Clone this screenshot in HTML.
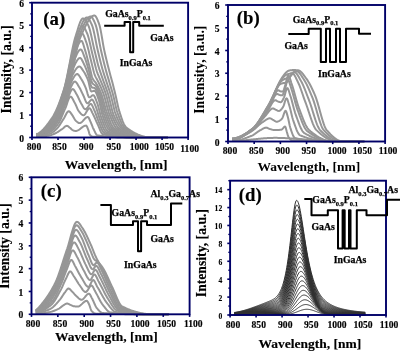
<!DOCTYPE html>
<html><head><meta charset="utf-8"><style>
html,body{margin:0;padding:0;background:#fff;}
svg{display:block;}
</style></head><body>
<svg width="400" height="351" viewBox="0 0 400 351">
<rect width="400" height="351" fill="#fff"/>
<g fill="none" stroke="#969696" stroke-width="2.0" stroke-linejoin="round">
<polyline points="36.16,137.05 36.68,137.05 37.20,137.04 37.72,137.02 38.24,137.00 38.76,136.97 39.28,136.94 39.80,136.90 40.33,136.85 40.85,136.80 41.37,136.75 41.89,136.69 42.41,136.62 42.93,136.55 43.45,136.48 43.97,136.40 44.49,136.32 45.01,136.24 45.53,136.15 46.05,136.06 46.57,135.97 47.09,135.87 47.61,135.77 48.13,135.67 48.65,135.57 49.17,135.47 49.69,135.36 50.21,135.25 50.73,135.13 51.25,134.99 51.77,134.82 52.29,134.64 52.81,134.44 53.33,134.22 53.85,133.99 54.37,133.75 54.89,133.51 55.41,133.26 55.94,133.01 56.46,132.74 56.98,132.45 57.50,132.14 58.02,131.81 58.54,131.47 59.06,131.12 59.58,130.76 60.10,130.40 60.62,130.03 61.14,129.67 61.66,129.31 62.18,128.96 62.70,128.58 63.22,128.15 63.74,127.69 64.26,127.23 64.78,126.79 65.30,126.40 65.82,126.10 66.34,125.89 66.86,125.82 67.38,125.91 67.90,126.17 68.42,126.54 68.94,126.97 69.46,127.42 69.98,127.84 70.50,128.28 71.03,128.80 71.55,129.32 72.07,129.77 72.59,130.09 73.11,130.31 73.63,130.52 74.15,130.71 74.67,130.85 75.19,130.95 75.71,130.98 76.23,130.95 76.75,130.83 77.27,130.66 77.79,130.42 78.31,130.14 78.83,129.82 79.35,129.47 79.87,129.09 80.39,128.69 80.91,128.29 81.43,127.89 81.95,127.49 82.47,127.11 82.99,126.76 83.51,126.44 84.03,126.15 84.55,125.92 85.07,125.74 85.59,125.63 86.11,125.59 86.63,125.99 87.16,126.98 87.68,128.29 88.20,129.64 88.72,131.33 89.24,133.28 89.76,134.58 90.28,135.22 90.80,135.77 91.32,136.20 91.84,136.48 92.36,136.60 92.88,136.63 93.40,136.66 93.92,136.69 94.44,136.71 94.96,136.74 95.48,136.76 96.00,136.79 96.52,136.81 97.04,136.84 97.56,136.86 98.08,136.88 98.60,136.91 99.12,136.93 99.64,136.95 100.16,136.97 100.68,136.99 101.20,137.01 101.72,137.03 102.25,137.05 102.77,137.07 103.29,137.08 103.81,137.10 104.33,137.12 104.85,137.13 105.37,137.15 105.89,137.17 106.41,137.18 106.93,137.19 107.45,137.21 107.97,137.22 108.49,137.24 109.01,137.25 109.53,137.26 110.05,137.27 110.57,137.28 111.09,137.30 111.61,137.31 112.13,137.32 112.65,137.33 113.17,137.34 113.69,137.35 114.21,137.35 114.73,137.36 115.25,137.37 115.77,137.38 116.29,137.39 116.81,137.39 117.33,137.40 117.86,137.41 118.38,137.41 118.90,137.42 119.42,137.43 119.94,137.43 120.46,137.44 120.98,137.44 121.50,137.45 122.02,137.45 122.54,137.46 123.06,137.46 123.58,137.46 124.10,137.47 124.62,137.47 125.14,137.47 125.66,137.48 126.18,137.48 126.70,137.48 127.22,137.48 127.74,137.49 128.26,137.49 128.78,137.49 129.30,137.49 129.82,137.49 130.34,137.49 130.86,137.50 131.38,137.50 131.90,137.50 132.42,137.50 132.94,137.50 133.47,137.50 133.99,137.50 134.51,137.50 135.03,137.50 135.55,137.50 136.07,137.50 136.59,137.50 137.11,137.50 137.63,137.50 138.15,137.50 138.67,137.50 139.19,137.50 139.71,137.50 140.23,137.50 140.75,137.50 141.27,137.50 141.79,137.50 142.31,137.50 142.83,137.50 143.35,137.50 143.87,137.50 144.39,137.50 144.91,137.50 145.43,137.50 145.95,137.50 146.47,137.50 146.99,137.50 147.51,137.50 148.03,137.50 148.55,137.50 149.07,137.50 149.60,137.50 150.12,137.50 150.64,137.50 151.16,137.50 151.68,137.50 152.20,137.50 152.72,137.50 153.24,137.50 153.76,137.50 154.28,137.50 154.80,137.50 155.32,137.50 155.84,137.50 156.36,137.50 156.88,137.50 157.40,137.50 157.92,137.50 158.44,137.50 158.96,137.50 159.48,137.50 160.00,137.50 160.52,137.50 161.04,137.50 161.56,137.50 162.08,137.50 162.60,137.50 163.12,137.50 163.64,137.50 164.16,137.50 164.69,137.50 165.21,137.50 165.73,137.50 166.25,137.50 166.77,137.50 167.29,137.50"/>
<polyline points="36.16,136.71 36.68,136.71 37.20,136.69 37.72,136.66 38.24,136.62 38.76,136.57 39.28,136.52 39.80,136.45 40.33,136.37 40.85,136.28 41.37,136.19 41.89,136.08 42.41,135.97 42.93,135.85 43.45,135.72 43.97,135.59 44.49,135.45 45.01,135.30 45.53,135.15 46.05,134.99 46.57,134.83 47.09,134.66 47.61,134.49 48.13,134.31 48.65,134.13 49.17,133.95 49.69,133.76 50.21,133.57 50.73,133.36 51.25,133.11 51.77,132.82 52.29,132.50 52.81,132.15 53.33,131.77 53.85,131.36 54.37,130.93 54.89,130.48 55.41,130.01 55.94,129.52 56.46,129.02 56.98,128.51 57.50,127.96 58.02,127.35 58.54,126.67 59.06,125.95 59.58,125.19 60.10,124.39 60.62,123.58 61.14,122.74 61.66,121.90 62.18,121.06 62.70,120.23 63.22,119.41 63.74,118.63 64.26,117.78 64.78,116.82 65.30,115.79 65.82,114.76 66.34,113.76 66.86,112.86 67.38,112.11 67.90,111.56 68.42,111.25 68.94,111.25 69.46,111.52 69.98,112.00 70.50,112.64 71.03,113.37 71.55,114.15 72.07,114.90 72.59,115.62 73.11,116.47 73.63,117.40 74.15,118.36 74.67,119.27 75.19,120.05 75.71,120.65 76.23,121.13 76.75,121.60 77.27,122.03 77.79,122.42 78.31,122.75 78.83,122.98 79.35,123.10 79.87,123.10 80.39,122.96 80.91,122.70 81.43,122.34 81.95,121.90 82.47,121.39 82.99,120.83 83.51,120.25 84.03,119.67 84.55,119.09 85.07,118.54 85.59,118.05 86.11,117.62 86.63,117.29 87.16,117.05 87.68,116.95 88.20,117.11 88.72,117.78 89.24,118.80 89.76,120.01 90.28,121.22 90.80,122.33 91.32,123.56 91.84,124.90 92.36,126.27 92.88,127.58 93.40,128.78 93.92,129.81 94.44,130.86 94.96,131.93 95.48,132.95 96.00,133.86 96.52,134.61 97.04,135.13 97.56,135.37 98.08,135.44 98.60,135.51 99.12,135.58 99.64,135.65 100.16,135.72 100.68,135.78 101.20,135.85 101.72,135.91 102.25,135.97 102.77,136.03 103.29,136.09 103.81,136.14 104.33,136.20 104.85,136.25 105.37,136.30 105.89,136.35 106.41,136.40 106.93,136.45 107.45,136.50 107.97,136.54 108.49,136.59 109.01,136.63 109.53,136.67 110.05,136.71 110.57,136.75 111.09,136.79 111.61,136.82 112.13,136.86 112.65,136.89 113.17,136.92 113.69,136.96 114.21,136.99 114.73,137.02 115.25,137.04 115.77,137.07 116.29,137.10 116.81,137.12 117.33,137.15 117.86,137.17 118.38,137.19 118.90,137.21 119.42,137.23 119.94,137.25 120.46,137.27 120.98,137.29 121.50,137.31 122.02,137.32 122.54,137.34 123.06,137.35 123.58,137.36 124.10,137.38 124.62,137.39 125.14,137.40 125.66,137.41 126.18,137.42 126.70,137.43 127.22,137.44 127.74,137.45 128.26,137.45 128.78,137.46 129.30,137.47 129.82,137.47 130.34,137.48 130.86,137.48 131.38,137.48 131.90,137.49 132.42,137.49 132.94,137.49 133.47,137.50 133.99,137.50 134.51,137.50 135.03,137.50 135.55,137.50 136.07,137.50 136.59,137.50 137.11,137.50 137.63,137.50 138.15,137.50 138.67,137.50 139.19,137.50 139.71,137.50 140.23,137.50 140.75,137.50 141.27,137.50 141.79,137.50 142.31,137.50 142.83,137.50 143.35,137.50 143.87,137.50 144.39,137.50 144.91,137.50 145.43,137.50 145.95,137.50 146.47,137.50 146.99,137.50 147.51,137.50 148.03,137.50 148.55,137.50 149.07,137.50 149.60,137.50 150.12,137.50 150.64,137.50 151.16,137.50 151.68,137.50 152.20,137.50 152.72,137.50 153.24,137.50 153.76,137.50 154.28,137.50 154.80,137.50 155.32,137.50 155.84,137.50 156.36,137.50 156.88,137.50 157.40,137.50 157.92,137.50 158.44,137.50 158.96,137.50 159.48,137.50 160.00,137.50 160.52,137.50 161.04,137.50 161.56,137.50 162.08,137.50 162.60,137.50 163.12,137.50 163.64,137.50 164.16,137.50 164.69,137.50 165.21,137.50 165.73,137.50 166.25,137.50 166.77,137.50 167.29,137.50"/>
<polyline points="36.16,136.38 36.68,136.37 37.20,136.34 37.72,136.30 38.24,136.24 38.76,136.17 39.28,136.09 39.80,135.98 40.33,135.87 40.85,135.74 41.37,135.60 41.89,135.45 42.41,135.29 42.93,135.12 43.45,134.93 43.97,134.74 44.49,134.54 45.01,134.33 45.53,134.11 46.05,133.89 46.57,133.65 47.09,133.41 47.61,133.17 48.13,132.92 48.65,132.67 49.17,132.41 49.69,132.15 50.21,131.88 50.73,131.60 51.25,131.27 51.77,130.90 52.29,130.49 52.81,130.05 53.33,129.58 53.85,129.07 54.37,128.53 54.89,127.96 55.41,127.36 55.94,126.74 56.46,126.09 56.98,125.42 57.50,124.73 58.02,124.02 58.54,123.25 59.06,122.37 59.58,121.41 60.10,120.37 60.62,119.27 61.14,118.11 61.66,116.91 62.18,115.67 62.70,114.42 63.22,113.17 63.74,111.91 64.26,110.67 64.78,109.46 65.30,108.29 65.82,107.04 66.34,105.61 66.86,104.08 67.38,102.53 67.90,101.02 68.42,99.62 68.94,98.41 69.46,97.46 69.98,96.83 70.50,96.61 71.03,96.77 71.55,97.23 72.07,97.91 72.59,98.76 73.11,99.72 73.63,100.73 74.15,101.74 74.67,102.68 75.19,103.65 75.71,104.77 76.23,105.97 76.75,107.19 77.27,108.39 77.79,109.50 78.31,110.46 78.83,111.21 79.35,111.86 79.87,112.50 80.39,113.11 80.91,113.69 81.43,114.20 81.95,114.63 82.47,114.97 82.99,115.18 83.51,115.26 84.03,115.11 84.55,114.70 85.07,114.08 85.59,113.32 86.11,112.45 86.63,111.55 87.16,110.66 87.68,109.84 88.20,109.14 88.72,108.62 89.24,108.33 89.76,108.35 90.28,108.79 90.80,109.57 91.32,110.58 91.84,111.71 92.36,112.86 92.88,113.91 93.40,114.92 93.92,115.99 94.44,117.11 94.96,118.27 95.48,119.45 96.00,120.63 96.52,121.79 97.04,122.93 97.56,124.02 98.08,125.15 98.60,126.39 99.12,127.69 99.64,128.99 100.16,130.25 100.68,131.41 101.20,132.43 101.72,133.26 102.25,133.84 102.77,134.13 103.29,134.26 103.81,134.38 104.33,134.50 104.85,134.62 105.37,134.73 105.89,134.85 106.41,134.95 106.93,135.06 107.45,135.16 107.97,135.26 108.49,135.36 109.01,135.46 109.53,135.55 110.05,135.64 110.57,135.73 111.09,135.81 111.61,135.89 112.13,135.97 112.65,136.05 113.17,136.12 113.69,136.20 114.21,136.27 114.73,136.33 115.25,136.40 115.77,136.46 116.29,136.52 116.81,136.58 117.33,136.64 117.86,136.69 118.38,136.74 118.90,136.79 119.42,136.84 119.94,136.89 120.46,136.93 120.98,136.97 121.50,137.01 122.02,137.05 122.54,137.09 123.06,137.12 123.58,137.15 124.10,137.19 124.62,137.22 125.14,137.24 125.66,137.27 126.18,137.29 126.70,137.32 127.22,137.34 127.74,137.36 128.26,137.38 128.78,137.39 129.30,137.41 129.82,137.42 130.34,137.44 130.86,137.45 131.38,137.46 131.90,137.47 132.42,137.48 132.94,137.48 133.47,137.49 133.99,137.49 134.51,137.50 135.03,137.50 135.55,137.50 136.07,137.50 136.59,137.50 137.11,137.50 137.63,137.50 138.15,137.50 138.67,137.50 139.19,137.50 139.71,137.50 140.23,137.50 140.75,137.50 141.27,137.50 141.79,137.50 142.31,137.50 142.83,137.50 143.35,137.50 143.87,137.50 144.39,137.50 144.91,137.50 145.43,137.50 145.95,137.50 146.47,137.50 146.99,137.50 147.51,137.50 148.03,137.50 148.55,137.50 149.07,137.50 149.60,137.50 150.12,137.50 150.64,137.50 151.16,137.50 151.68,137.50 152.20,137.50 152.72,137.50 153.24,137.50 153.76,137.50 154.28,137.50 154.80,137.50 155.32,137.50 155.84,137.50 156.36,137.50 156.88,137.50 157.40,137.50 157.92,137.50 158.44,137.50 158.96,137.50 159.48,137.50 160.00,137.50 160.52,137.50 161.04,137.50 161.56,137.50 162.08,137.50 162.60,137.50 163.12,137.50 163.64,137.50 164.16,137.50 164.69,137.50 165.21,137.50 165.73,137.50 166.25,137.50 166.77,137.50 167.29,137.50"/>
<polyline points="36.16,136.10 36.68,136.09 37.20,136.06 37.72,136.01 38.24,135.94 38.76,135.85 39.28,135.75 39.80,135.63 40.33,135.49 40.85,135.34 41.37,135.17 41.89,134.99 42.41,134.79 42.93,134.58 43.45,134.36 43.97,134.13 44.49,133.89 45.01,133.63 45.53,133.37 46.05,133.09 46.57,132.81 47.09,132.52 47.61,132.22 48.13,131.92 48.65,131.61 49.17,131.29 49.69,130.97 50.21,130.64 50.73,130.31 51.25,129.92 51.77,129.47 52.29,128.98 52.81,128.43 53.33,127.84 53.85,127.20 54.37,126.52 54.89,125.81 55.41,125.07 55.94,124.29 56.46,123.49 56.98,122.66 57.50,121.81 58.02,120.95 58.54,120.08 59.06,119.19 59.58,118.26 60.10,117.24 60.62,116.12 61.14,114.92 61.66,113.66 62.18,112.35 62.70,111.00 63.22,109.62 63.74,108.23 64.26,106.85 64.78,105.48 65.30,104.14 65.82,102.84 66.34,101.60 66.86,100.43 67.38,99.28 67.90,98.02 68.42,96.70 68.94,95.36 69.46,94.04 69.98,92.79 70.50,91.64 71.03,90.66 71.55,89.88 72.07,89.34 72.59,89.10 73.11,89.17 73.63,89.53 74.15,90.12 74.67,90.88 75.19,91.77 75.71,92.72 76.23,93.68 76.75,94.60 77.27,95.49 77.79,96.50 78.31,97.60 78.83,98.74 79.35,99.89 79.87,101.02 80.39,102.09 80.91,103.06 81.43,103.93 81.95,104.86 82.47,105.81 82.99,106.74 83.51,107.59 84.03,108.32 84.55,108.88 85.07,109.22 85.59,109.29 86.11,109.08 86.63,108.62 87.16,107.99 87.68,107.25 88.20,106.46 88.72,105.68 89.24,104.97 89.76,104.40 90.28,104.03 90.80,103.92 91.32,104.20 91.84,104.86 92.36,105.81 92.88,106.95 93.40,108.18 93.92,109.40 94.44,110.54 94.96,111.73 95.48,113.04 96.00,114.43 96.52,115.87 97.04,117.33 97.56,118.76 98.08,120.15 98.60,121.45 99.12,122.66 99.64,123.93 100.16,125.25 100.68,126.59 101.20,127.90 101.72,129.15 102.25,130.29 102.77,131.28 103.29,132.10 103.81,132.68 104.33,133.01 104.85,133.18 105.37,133.36 105.89,133.52 106.41,133.69 106.93,133.85 107.45,134.00 107.97,134.15 108.49,134.30 109.01,134.45 109.53,134.59 110.05,134.72 110.57,134.85 111.09,134.98 111.61,135.10 112.13,135.22 112.65,135.34 113.17,135.45 113.69,135.56 114.21,135.67 114.73,135.77 115.25,135.87 115.77,135.97 116.29,136.06 116.81,136.15 117.33,136.23 117.86,136.32 118.38,136.39 118.90,136.47 119.42,136.54 119.94,136.61 120.46,136.68 120.98,136.74 121.50,136.80 122.02,136.86 122.54,136.92 123.06,136.97 123.58,137.02 124.10,137.07 124.62,137.11 125.14,137.15 125.66,137.19 126.18,137.23 126.70,137.26 127.22,137.29 127.74,137.32 128.26,137.35 128.78,137.37 129.30,137.39 129.82,137.41 130.34,137.43 130.86,137.45 131.38,137.46 131.90,137.47 132.42,137.48 132.94,137.49 133.47,137.49 133.99,137.50 134.51,137.50 135.03,137.50 135.55,137.50 136.07,137.50 136.59,137.50 137.11,137.50 137.63,137.50 138.15,137.50 138.67,137.50 139.19,137.50 139.71,137.50 140.23,137.50 140.75,137.50 141.27,137.50 141.79,137.50 142.31,137.50 142.83,137.50 143.35,137.50 143.87,137.50 144.39,137.50 144.91,137.50 145.43,137.50 145.95,137.50 146.47,137.50 146.99,137.50 147.51,137.50 148.03,137.50 148.55,137.50 149.07,137.50 149.60,137.50 150.12,137.50 150.64,137.50 151.16,137.50 151.68,137.50 152.20,137.50 152.72,137.50 153.24,137.50 153.76,137.50 154.28,137.50 154.80,137.50 155.32,137.50 155.84,137.50 156.36,137.50 156.88,137.50 157.40,137.50 157.92,137.50 158.44,137.50 158.96,137.50 159.48,137.50 160.00,137.50 160.52,137.50 161.04,137.50 161.56,137.50 162.08,137.50 162.60,137.50 163.12,137.50 163.64,137.50 164.16,137.50 164.69,137.50 165.21,137.50 165.73,137.50 166.25,137.50 166.77,137.50 167.29,137.50"/>
<polyline points="36.16,135.81 36.68,135.80 37.20,135.77 37.72,135.71 38.24,135.63 38.76,135.53 39.28,135.41 39.80,135.27 40.33,135.11 40.85,134.93 41.37,134.74 41.89,134.53 42.41,134.30 42.93,134.06 43.45,133.80 43.97,133.53 44.49,133.24 45.01,132.95 45.53,132.64 46.05,132.32 46.57,131.99 47.09,131.65 47.61,131.30 48.13,130.95 48.65,130.58 49.17,130.21 49.69,129.84 50.21,129.46 50.73,129.07 51.25,128.65 51.77,128.17 52.29,127.61 52.81,127.00 53.33,126.34 53.85,125.62 54.37,124.86 54.89,124.05 55.41,123.20 55.94,122.32 56.46,121.40 56.98,120.46 57.50,119.49 58.02,118.50 58.54,117.50 59.06,116.48 59.58,115.46 60.10,114.43 60.62,113.38 61.14,112.23 61.66,110.98 62.18,109.65 62.70,108.25 63.22,106.79 63.74,105.29 64.26,103.77 64.78,102.23 65.30,100.71 65.82,99.21 66.34,97.74 66.86,96.32 67.38,94.98 67.90,93.71 68.42,92.55 68.94,91.47 69.46,90.35 69.98,89.18 70.50,88.01 71.03,86.85 71.55,85.73 72.07,84.69 72.59,83.75 73.11,82.94 73.63,82.30 74.15,81.83 74.67,81.59 75.19,81.59 75.71,81.87 76.23,82.37 76.75,83.05 77.27,83.85 77.79,84.73 78.31,85.64 78.83,86.53 79.35,87.37 79.87,88.29 80.39,89.29 80.91,90.35 81.43,91.45 81.95,92.56 82.47,93.68 82.99,94.76 83.51,95.81 84.03,96.98 84.55,98.29 85.07,99.62 85.59,100.89 86.11,101.99 86.63,102.82 87.16,103.29 87.68,103.31 88.20,103.05 88.72,102.59 89.24,102.01 89.76,101.36 90.28,100.72 90.80,100.16 91.32,99.74 91.84,99.54 92.36,99.66 92.88,100.18 93.40,101.04 93.92,102.13 94.44,103.38 94.96,104.69 95.48,105.99 96.00,107.24 96.52,108.66 97.04,110.25 97.56,111.94 98.08,113.69 98.60,115.44 99.12,117.12 99.64,118.69 100.16,120.09 100.68,121.41 101.20,122.77 101.72,124.15 102.25,125.51 102.77,126.81 103.29,128.04 103.81,129.15 104.33,130.12 104.85,130.92 105.37,131.52 105.89,131.88 106.41,132.12 106.93,132.34 107.45,132.56 107.97,132.78 108.49,132.99 109.01,133.19 109.53,133.39 110.05,133.58 110.57,133.77 111.09,133.95 111.61,134.13 112.13,134.30 112.65,134.47 113.17,134.63 113.69,134.79 114.21,134.94 114.73,135.09 115.25,135.23 115.77,135.37 116.29,135.50 116.81,135.63 117.33,135.75 117.86,135.87 118.38,135.98 118.90,136.09 119.42,136.20 119.94,136.30 120.46,136.39 120.98,136.49 121.50,136.57 122.02,136.66 122.54,136.73 123.06,136.81 123.58,136.88 124.10,136.95 124.62,137.01 125.14,137.07 125.66,137.12 126.18,137.17 126.70,137.22 127.22,137.26 127.74,137.30 128.26,137.34 128.78,137.37 129.30,137.40 129.82,137.42 130.34,137.44 130.86,137.46 131.38,137.47 131.90,137.49 132.42,137.49 132.94,137.50 133.47,137.50 133.99,137.50 134.51,137.50 135.03,137.50 135.55,137.50 136.07,137.50 136.59,137.50 137.11,137.50 137.63,137.50 138.15,137.50 138.67,137.50 139.19,137.50 139.71,137.50 140.23,137.50 140.75,137.50 141.27,137.50 141.79,137.50 142.31,137.50 142.83,137.50 143.35,137.50 143.87,137.50 144.39,137.50 144.91,137.50 145.43,137.50 145.95,137.50 146.47,137.50 146.99,137.50 147.51,137.50 148.03,137.50 148.55,137.50 149.07,137.50 149.60,137.50 150.12,137.50 150.64,137.50 151.16,137.50 151.68,137.50 152.20,137.50 152.72,137.50 153.24,137.50 153.76,137.50 154.28,137.50 154.80,137.50 155.32,137.50 155.84,137.50 156.36,137.50 156.88,137.50 157.40,137.50 157.92,137.50 158.44,137.50 158.96,137.50 159.48,137.50 160.00,137.50 160.52,137.50 161.04,137.50 161.56,137.50 162.08,137.50 162.60,137.50 163.12,137.50 163.64,137.50 164.16,137.50 164.69,137.50 165.21,137.50 165.73,137.50 166.25,137.50 166.77,137.50 167.29,137.50"/>
<polyline points="36.16,135.53 36.68,135.52 37.20,135.48 37.72,135.42 38.24,135.32 38.76,135.21 39.28,135.07 39.80,134.91 40.33,134.73 40.85,134.53 41.37,134.31 41.89,134.07 42.41,133.81 42.93,133.53 43.45,133.24 43.97,132.93 44.49,132.61 45.01,132.27 45.53,131.92 46.05,131.56 46.57,131.19 47.09,130.81 47.61,130.41 48.13,130.01 48.65,129.60 49.17,129.18 49.69,128.75 50.21,128.32 50.73,127.89 51.25,127.44 51.77,126.93 52.29,126.35 52.81,125.70 53.33,124.99 53.85,124.23 54.37,123.41 54.89,122.54 55.41,121.63 55.94,120.67 56.46,119.68 56.98,118.65 57.50,117.59 58.02,116.51 58.54,115.41 59.06,114.29 59.58,113.16 60.10,112.01 60.62,110.87 61.14,109.72 61.66,108.56 62.18,107.32 62.70,105.97 63.22,104.52 63.74,102.99 64.26,101.40 64.78,99.77 65.30,98.11 65.82,96.43 66.34,94.76 66.86,93.12 67.38,91.51 67.90,89.96 68.42,88.48 68.94,87.09 69.46,85.80 69.98,84.64 70.50,83.61 71.03,82.60 71.55,81.56 72.07,80.53 72.59,79.50 73.11,78.51 73.63,77.57 74.15,76.70 74.67,75.93 75.19,75.26 75.71,74.71 76.23,74.32 76.75,74.09 77.27,74.04 77.79,74.23 78.31,74.65 78.83,75.24 79.35,75.97 79.87,76.78 80.39,77.63 80.91,78.48 81.43,79.28 81.95,80.13 82.47,81.04 82.99,82.02 83.51,83.05 84.03,84.13 84.55,85.24 85.07,86.39 85.59,87.56 86.11,88.88 86.63,90.53 87.16,92.33 87.68,94.11 88.20,95.66 88.72,96.81 89.24,97.37 89.76,97.33 90.28,97.08 90.80,96.69 91.32,96.25 91.84,95.80 92.36,95.43 92.88,95.20 93.40,95.18 93.92,95.55 94.44,96.28 94.96,97.29 95.48,98.51 96.00,99.85 96.52,101.25 97.04,102.63 97.56,104.04 98.08,105.73 98.60,107.64 99.12,109.67 99.64,111.75 100.16,113.79 100.68,115.69 101.20,117.38 101.72,118.82 102.25,120.24 102.77,121.66 103.29,123.06 103.81,124.42 104.33,125.71 104.85,126.91 105.37,128.00 105.89,128.95 106.41,129.74 106.93,130.35 107.45,130.76 107.97,131.05 108.49,131.34 109.01,131.62 109.53,131.90 110.05,132.16 110.57,132.42 111.09,132.67 111.61,132.92 112.13,133.16 112.65,133.39 113.17,133.61 113.69,133.83 114.21,134.04 114.73,134.25 115.25,134.45 115.77,134.64 116.29,134.82 116.81,135.00 117.33,135.17 117.86,135.34 118.38,135.50 118.90,135.65 119.42,135.79 119.94,135.93 120.46,136.07 120.98,136.20 121.50,136.32 122.02,136.43 122.54,136.54 123.06,136.64 123.58,136.74 124.10,136.83 124.62,136.92 125.14,136.99 125.66,137.07 126.18,137.14 126.70,137.20 127.22,137.25 127.74,137.30 128.26,137.35 128.78,137.38 129.30,137.42 129.82,137.45 130.34,137.47 130.86,137.48 131.38,137.49 131.90,137.50 132.42,137.50 132.94,137.50 133.47,137.50 133.99,137.50 134.51,137.50 135.03,137.50 135.55,137.50 136.07,137.50 136.59,137.50 137.11,137.50 137.63,137.50 138.15,137.50 138.67,137.50 139.19,137.50 139.71,137.50 140.23,137.50 140.75,137.50 141.27,137.50 141.79,137.50 142.31,137.50 142.83,137.50 143.35,137.50 143.87,137.50 144.39,137.50 144.91,137.50 145.43,137.50 145.95,137.50 146.47,137.50 146.99,137.50 147.51,137.50 148.03,137.50 148.55,137.50 149.07,137.50 149.60,137.50 150.12,137.50 150.64,137.50 151.16,137.50 151.68,137.50 152.20,137.50 152.72,137.50 153.24,137.50 153.76,137.50 154.28,137.50 154.80,137.50 155.32,137.50 155.84,137.50 156.36,137.50 156.88,137.50 157.40,137.50 157.92,137.50 158.44,137.50 158.96,137.50 159.48,137.50 160.00,137.50 160.52,137.50 161.04,137.50 161.56,137.50 162.08,137.50 162.60,137.50 163.12,137.50 163.64,137.50 164.16,137.50 164.69,137.50 165.21,137.50 165.73,137.50 166.25,137.50 166.77,137.50 167.29,137.50"/>
<polyline points="36.16,135.25 36.68,135.24 37.20,135.19 37.72,135.12 38.24,135.02 38.76,134.89 39.28,134.74 39.80,134.56 40.33,134.36 40.85,134.13 41.37,133.89 41.89,133.62 42.41,133.33 42.93,133.02 43.45,132.70 43.97,132.35 44.49,131.99 45.01,131.62 45.53,131.23 46.05,130.83 46.57,130.41 47.09,129.99 47.61,129.55 48.13,129.10 48.65,128.65 49.17,128.18 49.69,127.71 50.21,127.23 50.73,126.75 51.25,126.27 51.77,125.74 52.29,125.14 52.81,124.48 53.33,123.74 53.85,122.95 54.37,122.10 54.89,121.19 55.41,120.24 55.94,119.24 56.46,118.19 56.98,117.11 57.50,116.00 58.02,114.85 58.54,113.68 59.06,112.48 59.58,111.27 60.10,110.04 60.62,108.80 61.14,107.55 61.66,106.30 62.18,105.05 62.70,103.80 63.22,102.49 63.74,101.05 64.26,99.51 64.78,97.88 65.30,96.17 65.82,94.42 66.34,92.63 66.86,90.82 67.38,89.01 67.90,87.22 68.42,85.47 68.94,83.77 69.46,82.14 69.98,80.60 70.50,79.18 71.03,77.87 71.55,76.71 72.07,75.72 72.59,74.80 73.11,73.87 73.63,72.94 74.15,72.03 74.67,71.15 75.19,70.31 75.71,69.52 76.23,68.79 76.75,68.15 77.27,67.59 77.79,67.13 78.31,66.79 78.83,66.58 79.35,66.51 79.87,66.63 80.39,66.96 80.91,67.47 81.43,68.12 81.95,68.86 82.47,69.65 82.99,70.45 83.51,71.22 84.03,72.00 84.55,72.83 85.07,73.73 85.59,74.69 86.11,75.72 86.63,76.81 87.16,77.97 87.68,79.21 88.20,80.58 88.72,82.52 89.24,84.84 89.76,87.23 90.28,89.35 90.80,90.87 91.32,91.44 91.84,91.39 92.36,91.27 92.88,91.11 93.40,90.94 93.92,90.82 94.44,90.77 94.96,90.98 95.48,91.57 96.00,92.47 96.52,93.62 97.04,94.95 97.56,96.38 98.08,97.86 98.60,99.31 99.12,100.95 99.64,102.97 100.16,105.25 100.68,107.65 101.20,110.07 101.72,112.37 102.25,114.44 102.77,116.16 103.29,117.65 103.81,119.13 104.33,120.58 104.85,121.98 105.37,123.32 105.89,124.59 106.41,125.75 106.93,126.81 107.45,127.75 107.97,128.54 108.49,129.17 109.01,129.64 109.53,130.00 110.05,130.36 110.57,130.71 111.09,131.05 111.61,131.38 112.13,131.70 112.65,132.02 113.17,132.32 113.69,132.62 114.21,132.91 114.73,133.19 115.25,133.46 115.77,133.72 116.29,133.98 116.81,134.22 117.33,134.46 117.86,134.69 118.38,134.91 118.90,135.12 119.42,135.32 119.94,135.51 120.46,135.69 120.98,135.87 121.50,136.04 122.02,136.19 122.54,136.34 123.06,136.48 123.58,136.61 124.10,136.73 124.62,136.85 125.14,136.95 125.66,137.05 126.18,137.13 126.70,137.21 127.22,137.28 127.74,137.34 128.26,137.39 128.78,137.43 129.30,137.46 129.82,137.48 130.34,137.50 130.86,137.50 131.38,137.50 131.90,137.50 132.42,137.50 132.94,137.50 133.47,137.50 133.99,137.50 134.51,137.50 135.03,137.50 135.55,137.50 136.07,137.50 136.59,137.50 137.11,137.50 137.63,137.50 138.15,137.50 138.67,137.50 139.19,137.50 139.71,137.50 140.23,137.50 140.75,137.50 141.27,137.50 141.79,137.50 142.31,137.50 142.83,137.50 143.35,137.50 143.87,137.50 144.39,137.50 144.91,137.50 145.43,137.50 145.95,137.50 146.47,137.50 146.99,137.50 147.51,137.50 148.03,137.50 148.55,137.50 149.07,137.50 149.60,137.50 150.12,137.50 150.64,137.50 151.16,137.50 151.68,137.50 152.20,137.50 152.72,137.50 153.24,137.50 153.76,137.50 154.28,137.50 154.80,137.50 155.32,137.50 155.84,137.50 156.36,137.50 156.88,137.50 157.40,137.50 157.92,137.50 158.44,137.50 158.96,137.50 159.48,137.50 160.00,137.50 160.52,137.50 161.04,137.50 161.56,137.50 162.08,137.50 162.60,137.50 163.12,137.50 163.64,137.50 164.16,137.50 164.69,137.50 165.21,137.50 165.73,137.50 166.25,137.50 166.77,137.50 167.29,137.50"/>
<polyline points="36.16,135.10 36.68,135.09 37.20,135.04 37.72,134.96 38.24,134.85 38.76,134.71 39.28,134.55 39.80,134.35 40.33,134.13 40.85,133.89 41.37,133.62 41.89,133.33 42.41,133.02 42.93,132.68 43.45,132.33 43.97,131.96 44.49,131.57 45.01,131.16 45.53,130.74 46.05,130.30 46.57,129.85 47.09,129.38 47.61,128.90 48.13,128.42 48.65,127.92 49.17,127.41 49.69,126.90 50.21,126.38 50.73,125.85 51.25,125.32 51.77,124.77 52.29,124.14 52.81,123.43 53.33,122.65 53.85,121.80 54.37,120.88 54.89,119.91 55.41,118.88 55.94,117.79 56.46,116.66 56.98,115.49 57.50,114.27 58.02,113.03 58.54,111.75 59.06,110.45 59.58,109.12 60.10,107.78 60.62,106.42 61.14,105.06 61.66,103.69 62.18,102.32 62.70,100.96 63.22,99.60 63.74,98.14 64.26,96.56 64.78,94.89 65.30,93.13 65.82,91.31 66.34,89.44 66.86,87.54 67.38,85.63 67.90,83.72 68.42,81.82 68.94,79.97 69.46,78.16 69.98,76.42 70.50,74.77 71.03,73.22 71.55,71.79 72.07,70.49 72.59,69.35 73.11,68.27 73.63,67.18 74.15,66.07 74.67,64.98 75.19,63.91 75.71,62.88 76.23,61.91 76.75,61.01 77.27,60.20 77.79,59.49 78.31,58.90 78.83,58.44 79.35,58.13 79.87,57.98 80.39,58.05 80.91,58.44 81.43,59.10 81.95,59.96 82.47,60.96 82.99,62.04 83.51,63.14 84.03,64.18 84.55,65.23 85.07,66.36 85.59,67.57 86.11,68.85 86.63,70.20 87.16,71.61 87.68,73.07 88.20,74.58 88.72,76.23 89.24,78.32 89.76,80.66 90.28,82.99 90.80,85.04 91.32,86.57 91.84,87.32 92.36,87.55 92.88,87.69 93.40,87.79 93.92,87.89 94.44,88.02 94.96,88.22 95.48,88.62 96.00,89.28 96.52,90.16 97.04,91.22 97.56,92.43 98.08,93.74 98.60,95.11 99.12,96.51 99.64,97.91 100.16,99.56 100.68,101.48 101.20,103.58 101.72,105.78 102.25,108.00 102.77,110.16 103.29,112.19 103.81,113.99 104.33,115.52 104.85,116.97 105.37,118.42 105.89,119.85 106.41,121.24 106.93,122.57 107.45,123.84 107.97,125.02 108.49,126.10 109.01,127.07 109.53,127.91 110.05,128.60 110.57,129.12 111.09,129.52 111.61,129.89 112.13,130.25 112.65,130.61 113.17,130.95 113.69,131.29 114.21,131.62 114.73,131.94 115.25,132.25 115.77,132.56 116.29,132.85 116.81,133.14 117.33,133.42 117.86,133.69 118.38,133.95 118.90,134.20 119.42,134.44 119.94,134.67 120.46,134.90 120.98,135.11 121.50,135.32 122.02,135.52 122.54,135.70 123.06,135.88 123.58,136.05 124.10,136.21 124.62,136.37 125.14,136.51 125.66,136.64 126.18,136.76 126.70,136.88 127.22,136.98 127.74,137.08 128.26,137.16 128.78,137.24 129.30,137.30 129.82,137.36 130.34,137.41 130.86,137.45 131.38,137.47 131.90,137.49 132.42,137.50 132.94,137.50 133.47,137.50 133.99,137.50 134.51,137.50 135.03,137.50 135.55,137.50 136.07,137.50 136.59,137.50 137.11,137.50 137.63,137.50 138.15,137.50 138.67,137.50 139.19,137.50 139.71,137.50 140.23,137.50 140.75,137.50 141.27,137.50 141.79,137.50 142.31,137.50 142.83,137.50 143.35,137.50 143.87,137.50 144.39,137.50 144.91,137.50 145.43,137.50 145.95,137.50 146.47,137.50 146.99,137.50 147.51,137.50 148.03,137.50 148.55,137.50 149.07,137.50 149.60,137.50 150.12,137.50 150.64,137.50 151.16,137.50 151.68,137.50 152.20,137.50 152.72,137.50 153.24,137.50 153.76,137.50 154.28,137.50 154.80,137.50 155.32,137.50 155.84,137.50 156.36,137.50 156.88,137.50 157.40,137.50 157.92,137.50 158.44,137.50 158.96,137.50 159.48,137.50 160.00,137.50 160.52,137.50 161.04,137.50 161.56,137.50 162.08,137.50 162.60,137.50 163.12,137.50 163.64,137.50 164.16,137.50 164.69,137.50 165.21,137.50 165.73,137.50 166.25,137.50 166.77,137.50 167.29,137.50"/>
<polyline points="36.16,134.95 36.68,134.94 37.20,134.88 37.72,134.80 38.24,134.68 38.76,134.53 39.28,134.35 39.80,134.15 40.33,133.91 40.85,133.65 41.37,133.36 41.89,133.05 42.41,132.71 42.93,132.35 43.45,131.97 43.97,131.57 44.49,131.15 45.01,130.71 45.53,130.25 46.05,129.78 46.57,129.30 47.09,128.79 47.61,128.28 48.13,127.75 48.65,127.22 49.17,126.67 49.69,126.11 50.21,125.55 50.73,124.98 51.25,124.41 51.77,123.82 52.29,123.17 52.81,122.42 53.33,121.60 53.85,120.70 54.37,119.73 54.89,118.69 55.41,117.59 55.94,116.43 56.46,115.22 56.98,113.96 57.50,112.66 58.02,111.32 58.54,109.94 59.06,108.53 59.58,107.10 60.10,105.65 60.62,104.19 61.14,102.71 61.66,101.23 62.18,99.75 62.70,98.27 63.22,96.80 63.74,95.31 64.26,93.71 64.78,92.00 65.30,90.20 65.82,88.32 66.34,86.39 66.86,84.41 67.38,82.41 67.90,80.39 68.42,78.38 68.94,76.38 69.46,74.42 69.98,72.51 70.50,70.67 71.03,68.91 71.55,67.24 72.07,65.69 72.59,64.27 73.11,62.99 73.63,61.76 74.15,60.50 74.67,59.23 75.19,57.97 75.71,56.72 76.23,55.52 76.75,54.37 77.27,53.30 77.79,52.32 78.31,51.46 78.83,50.72 79.35,50.13 79.87,49.71 80.39,49.48 80.91,49.46 81.43,49.85 81.95,50.63 82.47,51.71 82.99,53.00 83.51,54.39 84.03,55.81 84.55,57.14 85.07,58.48 85.59,59.93 86.11,61.49 86.63,63.12 87.16,64.81 87.68,66.54 88.20,68.30 88.72,70.05 89.24,71.92 89.76,74.08 90.28,76.36 90.80,78.59 91.32,80.59 91.84,82.19 92.36,83.21 92.88,83.77 93.40,84.18 93.92,84.51 94.44,84.82 94.96,85.19 95.48,85.68 96.00,86.32 96.52,87.10 97.04,88.00 97.56,89.01 98.08,90.10 98.60,91.28 99.12,92.51 99.64,93.80 100.16,95.12 100.68,96.52 101.20,98.14 101.72,99.97 102.25,101.92 102.77,103.96 103.29,106.02 103.81,108.06 104.33,110.00 104.85,111.81 105.37,113.43 105.89,114.85 106.41,116.28 106.93,117.71 107.45,119.11 107.97,120.49 108.49,121.82 109.01,123.09 109.53,124.29 110.05,125.39 110.57,126.38 111.09,127.26 111.61,128.00 112.13,128.59 112.65,129.02 113.17,129.41 113.69,129.78 114.21,130.15 114.73,130.52 115.25,130.87 115.77,131.21 116.29,131.55 116.81,131.88 117.33,132.20 117.86,132.51 118.38,132.81 118.90,133.10 119.42,133.39 119.94,133.66 120.46,133.93 120.98,134.18 121.50,134.43 122.02,134.67 122.54,134.90 123.06,135.12 123.58,135.33 124.10,135.53 124.62,135.72 125.14,135.91 125.66,136.08 126.18,136.24 126.70,136.40 127.22,136.54 127.74,136.67 128.26,136.80 128.78,136.91 129.30,137.02 129.82,137.11 130.34,137.19 130.86,137.27 131.38,137.33 131.90,137.39 132.42,137.43 132.94,137.46 133.47,137.49 133.99,137.50 134.51,137.50 135.03,137.50 135.55,137.50 136.07,137.50 136.59,137.50 137.11,137.50 137.63,137.50 138.15,137.50 138.67,137.50 139.19,137.50 139.71,137.50 140.23,137.50 140.75,137.50 141.27,137.50 141.79,137.50 142.31,137.50 142.83,137.50 143.35,137.50 143.87,137.50 144.39,137.50 144.91,137.50 145.43,137.50 145.95,137.50 146.47,137.50 146.99,137.50 147.51,137.50 148.03,137.50 148.55,137.50 149.07,137.50 149.60,137.50 150.12,137.50 150.64,137.50 151.16,137.50 151.68,137.50 152.20,137.50 152.72,137.50 153.24,137.50 153.76,137.50 154.28,137.50 154.80,137.50 155.32,137.50 155.84,137.50 156.36,137.50 156.88,137.50 157.40,137.50 157.92,137.50 158.44,137.50 158.96,137.50 159.48,137.50 160.00,137.50 160.52,137.50 161.04,137.50 161.56,137.50 162.08,137.50 162.60,137.50 163.12,137.50 163.64,137.50 164.16,137.50 164.69,137.50 165.21,137.50 165.73,137.50 166.25,137.50 166.77,137.50 167.29,137.50"/>
<polyline points="36.16,134.80 36.68,134.79 37.20,134.73 37.72,134.64 38.24,134.51 38.76,134.36 39.28,134.17 39.80,133.94 40.33,133.69 40.85,133.41 41.37,133.11 41.89,132.77 42.41,132.41 42.93,132.03 43.45,131.62 43.97,131.19 44.49,130.74 45.01,130.28 45.53,129.79 46.05,129.28 46.57,128.76 47.09,128.22 47.61,127.67 48.13,127.11 48.65,126.53 49.17,125.95 49.69,125.35 50.21,124.75 50.73,124.14 51.25,123.52 51.77,122.90 52.29,122.22 52.81,121.45 53.33,120.60 53.85,119.66 54.37,118.64 54.89,117.54 55.41,116.38 55.94,115.15 56.46,113.87 56.98,112.53 57.50,111.14 58.02,109.71 58.54,108.24 59.06,106.74 59.58,105.21 60.10,103.65 60.62,102.08 61.14,100.50 61.66,98.91 62.18,97.31 62.70,95.72 63.22,94.14 63.74,92.57 64.26,90.94 64.78,89.20 65.30,87.37 65.82,85.45 66.34,83.46 66.86,81.42 67.38,79.33 67.90,77.23 68.42,75.11 68.94,72.99 69.46,70.90 69.98,68.84 70.50,66.83 71.03,64.88 71.55,63.02 72.07,61.24 72.59,59.57 73.11,58.03 73.63,56.62 74.15,55.26 74.67,53.85 75.19,52.42 75.71,50.99 76.23,49.58 76.75,48.20 77.27,46.89 77.79,45.65 78.31,44.51 78.83,43.49 79.35,42.61 79.87,41.89 80.39,41.35 80.91,41.01 81.43,40.89 81.95,41.21 82.47,42.08 82.99,43.37 83.51,44.95 84.03,46.69 84.55,48.45 85.07,50.10 85.59,51.75 86.11,53.56 86.63,55.48 87.16,57.48 87.68,59.54 88.20,61.60 88.72,63.63 89.24,65.61 89.76,67.65 90.28,69.85 90.80,72.08 91.32,74.23 91.84,76.20 92.36,77.85 92.88,79.09 93.40,79.96 93.92,80.65 94.44,81.24 94.96,81.80 95.48,82.41 96.00,83.13 96.52,83.96 97.04,84.84 97.56,85.78 98.08,86.76 98.60,87.79 99.12,88.87 99.64,90.00 100.16,91.18 100.68,92.41 101.20,93.69 101.72,95.10 102.25,96.70 102.77,98.43 103.29,100.27 103.81,102.18 104.33,104.11 104.85,106.03 105.37,107.90 105.89,109.67 106.41,111.31 106.93,112.79 107.45,114.18 107.97,115.58 108.49,116.99 109.01,118.38 109.53,119.75 110.05,121.08 110.57,122.35 111.09,123.55 111.61,124.67 112.13,125.69 112.65,126.60 113.17,127.38 113.69,128.03 114.21,128.51 114.73,128.91 115.25,129.31 115.77,129.69 116.29,130.07 116.81,130.44 117.33,130.80 117.86,131.15 118.38,131.49 118.90,131.83 119.42,132.15 119.94,132.47 120.46,132.78 120.98,133.08 121.50,133.37 122.02,133.65 122.54,133.92 123.06,134.18 123.58,134.43 124.10,134.68 124.62,134.91 125.14,135.14 125.66,135.35 126.18,135.55 126.70,135.75 127.22,135.94 127.74,136.11 128.26,136.28 128.78,136.43 129.30,136.58 129.82,136.71 130.34,136.84 130.86,136.95 131.38,137.05 131.90,137.15 132.42,137.23 132.94,137.30 133.47,137.36 133.99,137.41 134.51,137.45 135.03,137.48 135.55,137.49 136.07,137.50 136.59,137.50 137.11,137.50 137.63,137.50 138.15,137.50 138.67,137.50 139.19,137.50 139.71,137.50 140.23,137.50 140.75,137.50 141.27,137.50 141.79,137.50 142.31,137.50 142.83,137.50 143.35,137.50 143.87,137.50 144.39,137.50 144.91,137.50 145.43,137.50 145.95,137.50 146.47,137.50 146.99,137.50 147.51,137.50 148.03,137.50 148.55,137.50 149.07,137.50 149.60,137.50 150.12,137.50 150.64,137.50 151.16,137.50 151.68,137.50 152.20,137.50 152.72,137.50 153.24,137.50 153.76,137.50 154.28,137.50 154.80,137.50 155.32,137.50 155.84,137.50 156.36,137.50 156.88,137.50 157.40,137.50 157.92,137.50 158.44,137.50 158.96,137.50 159.48,137.50 160.00,137.50 160.52,137.50 161.04,137.50 161.56,137.50 162.08,137.50 162.60,137.50 163.12,137.50 163.64,137.50 164.16,137.50 164.69,137.50 165.21,137.50 165.73,137.50 166.25,137.50 166.77,137.50 167.29,137.50"/>
<polyline points="36.16,134.58 36.68,134.56 37.20,134.49 37.72,134.39 38.24,134.25 38.76,134.07 39.28,133.85 39.80,133.60 40.33,133.32 40.85,133.00 41.37,132.65 41.89,132.27 42.41,131.87 42.93,131.44 43.45,130.98 43.97,130.50 44.49,130.00 45.01,129.48 45.53,128.93 46.05,128.37 46.57,127.79 47.09,127.20 47.61,126.59 48.13,125.97 48.65,125.34 49.17,124.70 49.69,124.05 50.21,123.40 50.73,122.73 51.25,122.07 51.77,121.40 52.29,120.69 52.81,119.90 53.33,119.04 53.85,118.11 54.37,117.11 54.89,116.05 55.41,114.93 55.94,113.75 56.46,112.52 56.98,111.24 57.50,109.91 58.02,108.54 58.54,107.14 59.06,105.70 59.58,104.22 60.10,102.72 60.62,101.20 61.14,99.65 61.66,98.09 62.18,96.52 62.70,94.93 63.22,93.34 63.74,91.74 64.26,90.07 64.78,88.26 65.30,86.33 65.82,84.29 66.34,82.15 66.86,79.95 67.38,77.68 67.90,75.37 68.42,73.04 68.94,70.69 69.46,68.35 69.98,66.03 70.50,63.75 71.03,61.53 71.55,59.37 72.07,57.30 72.59,55.34 73.11,53.49 73.63,51.78 74.15,50.21 74.67,48.77 75.19,47.28 75.71,45.77 76.23,44.24 76.75,42.73 77.27,41.26 77.79,39.85 78.31,38.52 78.83,37.30 79.35,36.20 79.87,35.26 80.39,34.48 80.91,33.90 81.43,33.53 81.95,33.40 82.47,33.62 82.99,34.20 83.51,35.10 84.03,36.23 84.55,37.54 85.07,38.95 85.59,40.39 86.11,41.79 86.63,43.29 87.16,45.01 87.68,46.92 88.20,48.96 88.72,51.11 89.24,53.31 89.76,55.51 90.28,57.68 90.80,59.77 91.32,61.80 91.84,63.94 92.36,66.13 92.88,68.30 93.40,70.38 93.92,72.30 94.44,74.00 94.96,75.40 95.48,76.59 96.00,77.63 96.52,78.58 97.04,79.50 97.56,80.43 98.08,81.43 98.60,82.51 99.12,83.60 99.64,84.70 100.16,85.80 100.68,86.93 101.20,88.09 101.72,89.30 102.25,90.54 102.77,91.85 103.29,93.22 103.81,94.69 104.33,96.35 104.85,98.16 105.37,100.07 105.89,102.06 106.41,104.07 106.93,106.07 107.45,108.01 107.97,109.85 108.49,111.56 109.01,113.08 109.53,114.43 110.05,115.77 110.57,117.10 111.09,118.41 111.61,119.69 112.13,120.93 112.65,122.12 113.17,123.25 113.69,124.31 114.21,125.29 114.73,126.18 115.25,126.97 115.77,127.65 116.29,128.21 116.81,128.65 117.33,129.05 117.86,129.44 118.38,129.83 118.90,130.21 119.42,130.58 119.94,130.94 120.46,131.29 120.98,131.64 121.50,131.97 122.02,132.30 122.54,132.62 123.06,132.93 123.58,133.23 124.10,133.52 124.62,133.81 125.14,134.08 125.66,134.34 126.18,134.60 126.70,134.84 127.22,135.08 127.74,135.30 128.26,135.52 128.78,135.72 129.30,135.91 129.82,136.10 130.34,136.27 130.86,136.43 131.38,136.58 131.90,136.72 132.42,136.85 132.94,136.97 133.47,137.08 133.99,137.17 134.51,137.25 135.03,137.32 135.55,137.38 136.07,137.43 136.59,137.47 137.11,137.49 137.63,137.50 138.15,137.50 138.67,137.50 139.19,137.50 139.71,137.50 140.23,137.50 140.75,137.50 141.27,137.50 141.79,137.50 142.31,137.50 142.83,137.50 143.35,137.50 143.87,137.50 144.39,137.50 144.91,137.50 145.43,137.50 145.95,137.50 146.47,137.50 146.99,137.50 147.51,137.50 148.03,137.50 148.55,137.50 149.07,137.50 149.60,137.50 150.12,137.50 150.64,137.50 151.16,137.50 151.68,137.50 152.20,137.50 152.72,137.50 153.24,137.50 153.76,137.50 154.28,137.50 154.80,137.50 155.32,137.50 155.84,137.50 156.36,137.50 156.88,137.50 157.40,137.50 157.92,137.50 158.44,137.50 158.96,137.50 159.48,137.50 160.00,137.50 160.52,137.50 161.04,137.50 161.56,137.50 162.08,137.50 162.60,137.50 163.12,137.50 163.64,137.50 164.16,137.50 164.69,137.50 165.21,137.50 165.73,137.50 166.25,137.50 166.77,137.50 167.29,137.50"/>
<polyline points="36.16,134.35 36.68,134.29 37.20,134.19 37.72,134.04 38.24,133.86 38.76,133.63 39.28,133.38 39.80,133.08 40.33,132.75 40.85,132.39 41.37,132.00 41.89,131.58 42.41,131.14 42.93,130.66 43.45,130.16 43.97,129.64 44.49,129.09 45.01,128.53 45.53,127.94 46.05,127.34 46.57,126.72 47.09,126.08 47.61,125.43 48.13,124.77 48.65,124.10 49.17,123.41 49.69,122.72 50.21,122.02 50.73,121.32 51.25,120.61 51.77,119.90 52.29,119.16 52.81,118.35 53.33,117.49 53.85,116.56 54.37,115.58 54.89,114.55 55.41,113.46 55.94,112.33 56.46,111.15 56.98,109.92 57.50,108.65 58.02,107.34 58.54,105.99 59.06,104.61 59.58,103.19 60.10,101.74 60.62,100.27 61.14,98.76 61.66,97.24 62.18,95.68 62.70,94.11 63.22,92.52 63.74,90.92 64.26,89.22 64.78,87.36 65.30,85.36 65.82,83.23 66.34,80.99 66.86,78.66 67.38,76.25 67.90,73.78 68.42,71.27 68.94,68.73 69.46,66.18 69.98,63.64 70.50,61.12 71.03,58.65 71.55,56.23 72.07,53.89 72.59,51.64 73.11,49.50 73.63,47.48 74.15,45.60 74.67,43.89 75.19,42.33 75.71,40.77 76.23,39.17 76.75,37.56 77.27,35.95 77.79,34.38 78.31,32.87 78.83,31.44 79.35,30.12 79.87,28.94 80.39,27.92 80.91,27.08 81.43,26.45 81.95,26.05 82.47,25.92 82.99,26.06 83.51,26.46 84.03,27.09 84.55,27.91 85.07,28.87 85.59,29.95 86.11,31.10 86.63,32.29 87.16,33.48 87.68,34.81 88.20,36.42 88.72,38.27 89.24,40.30 89.76,42.48 90.28,44.75 90.80,47.07 91.32,49.40 91.84,51.68 92.36,53.88 92.88,55.96 93.40,58.07 93.92,60.24 94.44,62.41 94.96,64.55 95.48,66.61 96.00,68.54 96.52,70.31 97.04,71.87 97.56,73.30 98.08,74.63 98.60,75.89 99.12,77.11 99.64,78.33 100.16,79.57 100.68,80.87 101.20,82.16 101.72,83.42 102.25,84.67 102.77,85.93 103.29,87.20 103.81,88.49 104.33,89.83 104.85,91.22 105.37,92.68 105.89,94.22 106.41,95.93 106.93,97.81 107.45,99.81 107.97,101.88 108.49,103.98 109.01,106.07 109.53,108.09 110.05,110.01 110.57,111.78 111.09,113.36 111.61,114.72 112.13,116.00 112.65,117.26 113.17,118.50 113.69,119.70 114.21,120.86 114.73,121.97 115.25,123.03 115.77,124.03 116.29,124.96 116.81,125.81 117.33,126.59 117.86,127.28 118.38,127.87 118.90,128.37 119.42,128.78 119.94,129.18 120.46,129.58 120.98,129.96 121.50,130.34 122.02,130.71 122.54,131.08 123.06,131.43 123.58,131.78 124.10,132.12 124.62,132.45 125.14,132.77 125.66,133.09 126.18,133.39 126.70,133.69 127.22,133.97 127.74,134.25 128.26,134.51 128.78,134.77 129.30,135.01 129.82,135.25 130.34,135.47 130.86,135.69 131.38,135.89 131.90,136.08 132.42,136.26 132.94,136.43 133.47,136.59 133.99,136.74 134.51,136.87 135.03,136.99 135.55,137.10 136.07,137.20 136.59,137.28 137.11,137.35 137.63,137.41 138.15,137.45 138.67,137.48 139.19,137.50 139.71,137.50 140.23,137.50 140.75,137.50 141.27,137.50 141.79,137.50 142.31,137.50 142.83,137.50 143.35,137.50 143.87,137.50 144.39,137.50 144.91,137.50 145.43,137.50 145.95,137.50 146.47,137.50 146.99,137.50 147.51,137.50 148.03,137.50 148.55,137.50 149.07,137.50 149.60,137.50 150.12,137.50 150.64,137.50 151.16,137.50 151.68,137.50 152.20,137.50 152.72,137.50 153.24,137.50 153.76,137.50 154.28,137.50 154.80,137.50 155.32,137.50 155.84,137.50 156.36,137.50 156.88,137.50 157.40,137.50 157.92,137.50 158.44,137.50 158.96,137.50 159.48,137.50 160.00,137.50 160.52,137.50 161.04,137.50 161.56,137.50 162.08,137.50 162.60,137.50 163.12,137.50 163.64,137.50 164.16,137.50 164.69,137.50 165.21,137.50 165.73,137.50 166.25,137.50 166.77,137.50 167.29,137.50"/>
<polyline points="36.16,134.13 36.68,133.99 37.20,133.81 37.72,133.59 38.24,133.34 38.76,133.05 39.28,132.74 39.80,132.39 40.33,132.01 40.85,131.60 41.37,131.16 41.89,130.70 42.41,130.21 42.93,129.70 43.45,129.17 43.97,128.61 44.49,128.03 45.01,127.43 45.53,126.81 46.05,126.18 46.57,125.53 47.09,124.87 47.61,124.19 48.13,123.50 48.65,122.79 49.17,122.08 49.69,121.36 50.21,120.63 50.73,119.89 51.25,119.15 51.77,118.40 52.29,117.63 52.81,116.81 53.33,115.94 53.85,115.02 54.37,114.05 54.89,113.05 55.41,111.99 55.94,110.90 56.46,109.76 56.98,108.58 57.50,107.37 58.02,106.11 58.54,104.82 59.06,103.49 59.58,102.13 60.10,100.73 60.62,99.30 61.14,97.84 61.66,96.35 62.18,94.83 62.70,93.28 63.22,91.70 63.74,90.10 64.26,88.38 64.78,86.50 65.30,84.45 65.82,82.26 66.34,79.94 66.86,77.51 67.38,74.99 67.90,72.39 68.42,69.74 68.94,67.04 69.46,64.32 69.98,61.60 70.50,58.88 71.03,56.19 71.55,53.54 72.07,50.95 72.59,48.44 73.11,46.02 73.63,43.72 74.15,41.54 74.67,39.51 75.19,37.64 75.71,35.95 76.23,34.32 76.75,32.64 77.27,30.93 77.79,29.22 78.31,27.55 78.83,25.93 79.35,24.40 79.87,22.98 80.39,21.70 80.91,20.60 81.43,19.69 81.95,19.01 82.47,18.58 82.99,18.43 83.51,18.53 84.03,18.81 84.55,19.25 85.07,19.84 85.59,20.54 86.11,21.35 86.63,22.24 87.16,23.18 87.68,24.17 88.20,25.17 88.72,26.34 89.24,27.83 89.76,29.59 90.28,31.57 90.80,33.73 91.32,36.02 91.84,38.41 92.36,40.84 92.88,43.27 93.40,45.65 93.92,47.94 94.44,50.10 94.96,52.22 95.48,54.38 96.00,56.55 96.52,58.72 97.04,60.85 97.56,62.92 98.08,64.89 98.60,66.73 99.12,68.45 99.64,70.09 100.16,71.66 100.68,73.18 101.20,74.66 101.72,76.13 102.25,77.60 102.77,79.09 103.29,80.56 103.81,82.00 104.33,83.40 104.85,84.79 105.37,86.19 105.89,87.60 106.41,89.04 106.93,90.52 107.45,92.07 107.97,93.69 108.49,95.46 109.01,97.40 109.53,99.48 110.05,101.64 110.57,103.83 111.09,106.01 111.61,108.13 112.13,110.14 112.65,111.99 113.17,113.64 113.69,115.03 114.21,116.27 114.73,117.47 115.25,118.64 115.77,119.77 116.29,120.86 116.81,121.89 117.33,122.88 117.86,123.81 118.38,124.69 118.90,125.50 119.42,126.25 119.94,126.93 120.46,127.53 120.98,128.06 121.50,128.51 122.02,128.92 122.54,129.32 123.06,129.71 123.58,130.10 124.10,130.48 124.62,130.85 125.14,131.22 125.66,131.58 126.18,131.93 126.70,132.27 127.22,132.61 127.74,132.93 128.26,133.25 128.78,133.56 129.30,133.86 129.82,134.14 130.34,134.42 130.86,134.69 131.38,134.95 131.90,135.20 132.42,135.43 132.94,135.66 133.47,135.87 133.99,136.07 134.51,136.26 135.03,136.44 135.55,136.60 136.07,136.75 136.59,136.89 137.11,137.02 137.63,137.13 138.15,137.22 138.67,137.31 139.19,137.38 139.71,137.43 140.23,137.47 140.75,137.49 141.27,137.50 141.79,137.50 142.31,137.50 142.83,137.50 143.35,137.50 143.87,137.50 144.39,137.50 144.91,137.50 145.43,137.50 145.95,137.50 146.47,137.50 146.99,137.50 147.51,137.50 148.03,137.50 148.55,137.50 149.07,137.50 149.60,137.50 150.12,137.50 150.64,137.50 151.16,137.50 151.68,137.50 152.20,137.50 152.72,137.50 153.24,137.50 153.76,137.50 154.28,137.50 154.80,137.50 155.32,137.50 155.84,137.50 156.36,137.50 156.88,137.50 157.40,137.50 157.92,137.50 158.44,137.50 158.96,137.50 159.48,137.50 160.00,137.50 160.52,137.50 161.04,137.50 161.56,137.50 162.08,137.50 162.60,137.50 163.12,137.50 163.64,137.50 164.16,137.50 164.69,137.50 165.21,137.50 165.73,137.50 166.25,137.50 166.77,137.50 167.29,137.50"/>
<polyline points="36.16,134.50 36.68,134.39 37.20,134.24 37.72,134.07 38.24,133.85 38.76,133.61 39.28,133.34 39.80,133.04 40.33,132.72 40.85,132.36 41.37,131.98 41.89,131.58 42.41,131.15 42.93,130.71 43.45,130.24 43.97,129.75 44.49,129.24 45.01,128.71 45.53,128.17 46.05,127.61 46.57,127.04 47.09,126.45 47.61,125.85 48.13,125.24 48.65,124.62 49.17,123.99 49.69,123.34 50.21,122.70 50.73,122.04 51.25,121.38 51.77,120.72 52.29,120.05 52.81,119.35 53.33,118.60 53.85,117.82 54.37,116.99 54.89,116.13 55.41,115.22 55.94,114.28 56.46,113.30 56.98,112.28 57.50,111.23 58.02,110.13 58.54,109.01 59.06,107.84 59.58,106.65 60.10,105.41 60.62,104.15 61.14,102.85 61.66,101.52 62.18,100.15 62.70,98.76 63.22,97.34 63.74,95.88 64.26,94.40 64.78,92.87 65.30,91.18 65.82,89.29 66.34,87.23 66.86,85.02 67.38,82.66 67.90,80.19 68.42,77.62 68.94,74.96 69.46,72.24 69.98,69.48 70.50,66.69 71.03,63.89 71.55,61.10 72.07,58.34 72.59,55.63 73.11,52.98 73.63,50.42 74.15,47.96 74.67,45.62 75.19,43.42 75.71,41.38 76.23,39.51 76.75,37.84 77.27,36.37 77.79,34.94 78.31,33.48 78.83,32.02 79.35,30.57 79.87,29.14 80.39,27.74 80.91,26.38 81.43,25.08 81.95,23.84 82.47,22.68 82.99,21.60 83.51,20.62 84.03,19.75 84.55,19.01 85.07,18.39 85.59,17.92 86.11,17.61 86.63,17.46 87.16,17.51 87.68,17.77 88.20,18.22 88.72,18.85 89.24,19.63 89.76,20.52 90.28,21.51 90.80,22.57 91.32,23.67 91.84,24.79 92.36,26.11 92.88,27.78 93.40,29.76 93.92,31.97 94.44,34.37 94.96,36.90 95.48,39.51 96.00,42.13 96.52,44.71 97.04,47.19 97.56,49.52 98.08,51.71 98.60,53.91 99.12,56.11 99.64,58.30 100.16,60.46 100.68,62.57 101.20,64.62 101.72,66.59 102.25,68.47 102.77,70.25 103.29,71.97 103.81,73.62 104.33,75.24 104.85,76.84 105.37,78.44 105.89,80.04 106.41,81.66 106.93,83.23 107.45,84.78 107.97,86.31 108.49,87.85 109.01,89.42 109.53,91.02 110.05,92.69 110.57,94.44 111.09,96.35 111.61,98.43 112.13,100.61 112.65,102.85 113.17,105.09 113.69,107.28 114.21,109.35 114.73,111.25 115.25,112.94 115.77,114.36 116.29,115.70 116.81,117.01 117.33,118.28 117.86,119.52 118.38,120.70 118.90,121.83 119.42,122.90 119.94,123.90 120.46,124.83 120.98,125.68 121.50,126.44 122.02,127.11 122.54,127.68 123.06,128.14 123.58,128.54 124.10,128.94 124.62,129.33 125.14,129.72 125.66,130.09 126.18,130.46 126.70,130.82 127.22,131.17 127.74,131.52 128.26,131.86 128.78,132.18 129.30,132.50 129.82,132.82 130.34,133.12 130.86,133.41 131.38,133.70 131.90,133.97 132.42,134.24 132.94,134.50 133.47,134.75 133.99,134.99 134.51,135.21 135.03,135.43 135.55,135.64 136.07,135.84 136.59,136.03 137.11,136.20 137.63,136.37 138.15,136.52 138.67,136.67 139.19,136.80 139.71,136.93 140.23,137.04 140.75,137.14 141.27,137.22 141.79,137.30 142.31,137.36 142.83,137.42 143.35,137.46 143.87,137.48 144.39,137.50 144.91,137.50 145.43,137.50 145.95,137.50 146.47,137.50 146.99,137.50 147.51,137.50 148.03,137.50 148.55,137.50 149.07,137.50 149.60,137.50 150.12,137.50 150.64,137.50 151.16,137.50 151.68,137.50 152.20,137.50 152.72,137.50 153.24,137.50 153.76,137.50 154.28,137.50 154.80,137.50 155.32,137.50 155.84,137.50 156.36,137.50 156.88,137.50 157.40,137.50 157.92,137.50 158.44,137.50 158.96,137.50 159.48,137.50 160.00,137.50 160.52,137.50 161.04,137.50 161.56,137.50 162.08,137.50 162.60,137.50 163.12,137.50 163.64,137.50 164.16,137.50 164.69,137.50 165.21,137.50 165.73,137.50 166.25,137.50 166.77,137.50 167.29,137.50"/>
<polyline points="36.16,134.88 36.68,134.80 37.20,134.69 37.72,134.54 38.24,134.37 38.76,134.17 39.28,133.95 39.80,133.70 40.33,133.42 40.85,133.12 41.37,132.79 41.89,132.45 42.41,132.08 42.93,131.69 43.45,131.29 43.97,130.86 44.49,130.42 45.01,129.96 45.53,129.49 46.05,129.00 46.57,128.49 47.09,127.98 47.61,127.45 48.13,126.91 48.65,126.37 49.17,125.81 49.69,125.25 50.21,124.68 50.73,124.10 51.25,123.52 51.77,122.93 52.29,122.34 52.81,121.75 53.33,121.11 53.85,120.45 54.37,119.74 54.89,119.00 55.41,118.23 55.94,117.42 56.46,116.58 56.98,115.70 57.50,114.79 58.02,113.84 58.54,112.86 59.06,111.85 59.58,110.80 60.10,109.72 60.62,108.61 61.14,107.46 61.66,106.28 62.18,105.08 62.70,103.83 63.22,102.56 63.74,101.26 64.26,99.92 64.78,98.56 65.30,97.16 65.82,95.69 66.34,94.01 66.86,92.12 67.38,90.06 67.90,87.83 68.42,85.45 68.94,82.95 69.46,80.35 69.98,77.65 70.50,74.89 71.03,72.08 71.55,69.24 72.07,66.38 72.59,63.54 73.11,60.72 73.63,57.95 74.15,55.24 74.67,52.61 75.19,50.09 75.71,47.69 76.23,45.44 76.75,43.34 77.27,41.42 77.79,39.70 78.31,38.20 78.83,36.87 79.35,35.56 79.87,34.24 80.39,32.93 80.91,31.63 81.43,30.34 81.95,29.08 82.47,27.85 82.99,26.65 83.51,25.48 84.03,24.37 84.55,23.30 85.07,22.29 85.59,21.34 86.11,20.46 86.63,19.65 87.16,18.92 87.68,18.27 88.20,17.71 88.72,17.25 89.24,16.90 89.76,16.64 90.28,16.51 90.80,16.49 91.32,16.72 91.84,17.17 92.36,17.84 92.88,18.68 93.40,19.66 93.92,20.76 94.44,21.94 94.96,23.17 95.48,24.42 96.00,25.90 96.52,27.78 97.04,30.01 97.56,32.49 98.08,35.17 98.60,37.96 99.12,40.80 99.64,43.61 100.16,46.32 100.68,48.85 101.20,51.17 101.72,53.43 102.25,55.66 102.77,57.87 103.29,60.05 103.81,62.19 104.33,64.29 104.85,66.33 105.37,68.33 105.89,70.25 106.41,72.11 106.93,73.91 107.45,75.67 107.97,77.41 108.49,79.15 109.01,80.90 109.53,82.68 110.05,84.44 110.57,86.18 111.09,87.92 111.61,89.68 112.13,91.48 112.65,93.32 113.17,95.24 113.69,97.33 114.21,99.56 114.73,101.86 115.25,104.18 115.77,106.44 116.29,108.59 116.81,110.55 117.33,112.28 117.86,113.77 118.38,115.22 118.90,116.65 119.42,118.04 119.94,119.39 120.46,120.68 120.98,121.90 121.50,123.05 122.02,124.11 122.54,125.07 123.06,125.93 123.58,126.67 124.10,127.28 124.62,127.76 125.14,128.17 125.66,128.57 126.18,128.95 126.70,129.34 127.22,129.71 127.74,130.07 128.26,130.43 128.78,130.78 129.30,131.12 129.82,131.46 130.34,131.78 130.86,132.10 131.38,132.41 131.90,132.71 132.42,133.00 132.94,133.28 133.47,133.56 133.99,133.82 134.51,134.08 135.03,134.33 135.55,134.57 136.07,134.80 136.59,135.02 137.11,135.23 137.63,135.43 138.15,135.63 138.67,135.81 139.19,135.99 139.71,136.16 140.23,136.31 140.75,136.46 141.27,136.60 141.79,136.73 142.31,136.85 142.83,136.96 143.35,137.05 143.87,137.14 144.39,137.22 144.91,137.29 145.43,137.35 145.95,137.40 146.47,137.44 146.99,137.47 147.51,137.49 148.03,137.50 148.55,137.50 149.07,137.50 149.60,137.50 150.12,137.50 150.64,137.50 151.16,137.50 151.68,137.50 152.20,137.50 152.72,137.50 153.24,137.50 153.76,137.50 154.28,137.50 154.80,137.50 155.32,137.50 155.84,137.50 156.36,137.50 156.88,137.50 157.40,137.50 157.92,137.50 158.44,137.50 158.96,137.50 159.48,137.50 160.00,137.50 160.52,137.50 161.04,137.50 161.56,137.50 162.08,137.50 162.60,137.50 163.12,137.50 163.64,137.50 164.16,137.50 164.69,137.50 165.21,137.50 165.73,137.50 166.25,137.50 166.77,137.50 167.29,137.50"/>
<polyline points="36.16,135.25 36.68,135.20 37.20,135.13 37.72,135.02 38.24,134.89 38.76,134.73 39.28,134.55 39.80,134.35 40.33,134.12 40.85,133.87 41.37,133.59 41.89,133.30 42.41,132.99 42.93,132.66 43.45,132.31 43.97,131.95 44.49,131.57 45.01,131.17 45.53,130.76 46.05,130.34 46.57,129.90 47.09,129.45 47.61,128.99 48.13,128.53 48.65,128.05 49.17,127.56 49.69,127.07 50.21,126.57 50.73,126.07 51.25,125.56 51.77,125.05 52.29,124.54 52.81,124.02 53.33,123.49 53.85,122.92 54.37,122.33 54.89,121.70 55.41,121.04 55.94,120.35 56.46,119.63 56.98,118.87 57.50,118.09 58.02,117.27 58.54,116.43 59.06,115.55 59.58,114.64 60.10,113.70 60.62,112.72 61.14,111.72 61.66,110.69 62.18,109.62 62.70,108.52 63.22,107.40 63.74,106.24 64.26,105.05 64.78,103.83 65.30,102.58 65.82,101.29 66.34,99.98 66.86,98.53 67.38,96.86 67.90,94.98 68.42,92.91 68.94,90.67 69.46,88.28 69.98,85.77 70.50,83.14 71.03,80.42 71.55,77.62 72.07,74.78 72.59,71.90 73.11,69.00 73.63,66.10 74.15,63.23 74.67,60.41 75.19,57.64 75.71,54.95 76.23,52.36 76.75,49.89 77.27,47.56 77.79,45.39 78.31,43.39 78.83,41.59 79.35,40.00 79.87,38.65 80.39,37.42 80.91,36.19 81.43,34.96 81.95,33.75 82.47,32.54 82.99,31.35 83.51,30.18 84.03,29.03 84.55,27.91 85.07,26.81 85.59,25.75 86.11,24.71 86.63,23.72 87.16,22.77 87.68,21.86 88.20,21.00 88.72,20.18 89.24,19.43 89.76,18.72 90.28,18.08 90.80,17.51 91.32,16.99 91.84,16.55 92.36,16.18 92.88,15.89 93.40,15.68 93.92,15.55 94.44,15.51 94.96,15.66 95.48,16.10 96.00,16.79 96.52,17.69 97.04,18.77 97.56,19.98 98.08,21.29 98.60,22.65 99.12,24.04 99.64,25.70 100.16,27.84 100.68,30.36 101.20,33.16 101.72,36.15 102.25,39.24 102.77,42.32 103.29,45.30 103.81,48.08 104.33,50.58 104.85,52.93 105.37,55.22 105.89,57.45 106.41,59.64 106.93,61.79 107.45,63.91 107.97,65.99 108.49,68.06 109.01,70.10 109.53,72.10 110.05,74.03 110.57,75.93 111.09,77.81 111.61,79.69 112.13,81.61 112.65,83.58 113.17,85.60 113.69,87.65 114.21,89.74 114.73,91.84 115.25,93.97 115.77,96.13 116.29,98.44 116.81,100.84 117.33,103.26 117.86,105.62 118.38,107.86 118.90,109.90 119.42,111.66 119.94,113.27 120.46,114.86 120.98,116.43 121.50,117.95 122.02,119.41 122.54,120.81 123.06,122.12 123.58,123.33 124.10,124.43 124.62,125.39 125.14,126.22 125.66,126.89 126.18,127.39 126.70,127.79 127.22,128.19 127.74,128.58 128.26,128.96 128.78,129.33 129.30,129.70 129.82,130.05 130.34,130.40 130.86,130.74 131.38,131.07 131.90,131.39 132.42,131.71 132.94,132.01 133.47,132.31 133.99,132.60 134.51,132.88 135.03,133.16 135.55,133.42 136.07,133.68 136.59,133.93 137.11,134.17 137.63,134.40 138.15,134.63 138.67,134.84 139.19,135.05 139.71,135.25 140.23,135.44 140.75,135.62 141.27,135.80 141.79,135.96 142.31,136.12 142.83,136.27 143.35,136.41 143.87,136.54 144.39,136.66 144.91,136.78 145.43,136.88 145.95,136.98 146.47,137.07 146.99,137.15 147.51,137.23 148.03,137.29 148.55,137.35 149.07,137.39 149.60,137.43 150.12,137.46 150.64,137.48 151.16,137.50 151.68,137.50 152.20,137.50 152.72,137.50 153.24,137.50 153.76,137.50 154.28,137.50 154.80,137.50 155.32,137.50 155.84,137.50 156.36,137.50 156.88,137.50 157.40,137.50 157.92,137.50 158.44,137.50 158.96,137.50 159.48,137.50 160.00,137.50 160.52,137.50 161.04,137.50 161.56,137.50 162.08,137.50 162.60,137.50 163.12,137.50 163.64,137.50 164.16,137.50 164.69,137.50 165.21,137.50 165.73,137.50 166.25,137.50 166.77,137.50 167.29,137.50"/>
<polyline points="232.19,141.04 232.71,141.03 233.24,141.01 233.76,140.97 234.28,140.93 234.81,140.87 235.33,140.81 235.85,140.74 236.38,140.66 236.90,140.57 237.43,140.47 237.95,140.36 238.47,140.25 239.00,140.13 239.52,140.00 240.04,139.87 240.57,139.73 241.09,139.58 241.62,139.43 242.14,139.28 242.66,139.11 243.19,138.94 243.71,138.77 244.23,138.60 244.76,138.41 245.28,138.23 245.80,138.04 246.33,137.85 246.85,137.65 247.38,137.46 247.90,137.26 248.42,137.05 248.95,136.85 249.47,136.65 249.99,136.44 250.52,136.23 251.04,136.02 251.56,135.81 252.09,135.59 252.61,135.32 253.14,135.03 253.66,134.72 254.18,134.38 254.71,134.03 255.23,133.66 255.75,133.28 256.28,132.90 256.80,132.52 257.33,132.13 257.85,131.76 258.37,131.40 258.90,131.05 259.42,130.72 259.94,130.41 260.47,130.12 260.99,129.85 261.51,129.55 262.04,129.24 262.56,128.94 263.09,128.65 263.61,128.37 264.13,128.13 264.66,127.92 265.18,127.76 265.70,127.66 266.23,127.62 266.75,127.68 267.27,127.83 267.80,128.05 268.32,128.31 268.85,128.57 269.37,128.80 269.89,128.99 270.42,129.14 270.94,129.29 271.46,129.45 271.99,129.60 272.51,129.74 273.04,129.86 273.56,129.97 274.08,130.05 274.61,130.11 275.13,130.12 275.65,130.12 276.18,130.11 276.70,130.10 277.22,130.07 277.75,130.05 278.27,130.01 278.80,129.97 279.32,129.92 279.84,129.87 280.37,129.81 280.89,129.74 281.41,129.67 281.94,129.44 282.46,128.96 282.99,128.34 283.51,127.68 284.03,127.09 284.56,126.65 285.08,126.48 285.60,127.37 286.13,129.31 286.65,131.26 287.17,133.04 287.70,134.89 288.22,136.43 288.75,137.36 289.27,138.14 289.79,138.85 290.32,139.44 290.84,139.91 291.36,140.23 291.89,140.36 292.41,140.40 292.93,140.44 293.46,140.47 293.98,140.51 294.51,140.55 295.03,140.58 295.55,140.61 296.08,140.65 296.60,140.68 297.12,140.71 297.65,140.74 298.17,140.77 298.69,140.80 299.22,140.82 299.74,140.85 300.27,140.88 300.79,140.90 301.31,140.93 301.84,140.95 302.36,140.98 302.88,141.00 303.41,141.02 303.93,141.04 304.46,141.06 304.98,141.08 305.50,141.10 306.03,141.12 306.55,141.14 307.07,141.16 307.60,141.18 308.12,141.19 308.64,141.21 309.17,141.23 309.69,141.24 310.22,141.26 310.74,141.27 311.26,141.28 311.79,141.30 312.31,141.31 312.83,141.32 313.36,141.33 313.88,141.34 314.41,141.35 314.93,141.36 315.45,141.37 315.98,141.38 316.50,141.39 317.02,141.40 317.55,141.41 318.07,141.41 318.59,141.42 319.12,141.43 319.64,141.44 320.17,141.44 320.69,141.45 321.21,141.45 321.74,141.46 322.26,141.46 322.78,141.47 323.31,141.47 323.83,141.47 324.35,141.48 324.88,141.48 325.40,141.48 325.93,141.49 326.45,141.49 326.97,141.49 327.50,141.49 328.02,141.49 328.54,141.50 329.07,141.50 329.59,141.50 330.12,141.50 330.64,141.50 331.16,141.50 331.69,141.50 332.21,141.50 332.73,141.50 333.26,141.50 333.78,141.50 334.30,141.50 334.83,141.50 335.35,141.50 335.88,141.50 336.40,141.50 336.92,141.50 337.45,141.50 337.97,141.50 338.49,141.50 339.02,141.50 339.54,141.50 340.06,141.50 340.59,141.50 341.11,141.50 341.64,141.50 342.16,141.50 342.68,141.50 343.21,141.50 343.73,141.50 344.25,141.50 344.78,141.50 345.30,141.50 345.83,141.50 346.35,141.50 346.87,141.50 347.40,141.50 347.92,141.50 348.44,141.50 348.97,141.50 349.49,141.50 350.01,141.50 350.54,141.50 351.06,141.50 351.59,141.50 352.11,141.50 352.63,141.50 353.16,141.50 353.68,141.50 354.20,141.50 354.73,141.50 355.25,141.50 355.77,141.50 356.30,141.50 356.82,141.50 357.35,141.50 357.87,141.50 358.39,141.50 358.92,141.50 359.44,141.50 359.96,141.50 360.49,141.50 361.01,141.50 361.54,141.50 362.06,141.50 362.58,141.50 363.11,141.50 363.63,141.50 364.15,141.50"/>
<polyline points="232.19,140.36 232.71,140.23 233.24,140.09 233.76,139.94 234.28,139.79 234.81,139.62 235.33,139.45 235.85,139.27 236.38,139.09 236.90,138.89 237.43,138.69 237.95,138.48 238.47,138.27 239.00,138.04 239.52,137.82 240.04,137.58 240.57,137.34 241.09,137.10 241.62,136.84 242.14,136.59 242.66,136.33 243.19,136.06 243.71,135.79 244.23,135.51 244.76,135.23 245.28,134.94 245.80,134.66 246.33,134.36 246.85,134.07 247.38,133.77 247.90,133.46 248.42,133.16 248.95,132.85 249.47,132.53 249.99,132.22 250.52,131.90 251.04,131.58 251.56,131.26 252.09,130.93 252.61,130.56 253.14,130.17 253.66,129.76 254.18,129.33 254.71,128.88 255.23,128.42 255.75,127.95 256.28,127.47 256.80,126.98 257.33,126.50 257.85,126.01 258.37,125.53 258.90,125.06 259.42,124.59 259.94,124.14 260.47,123.70 260.99,123.28 261.51,122.88 262.04,122.51 262.56,122.16 263.09,121.82 263.61,121.46 264.13,121.09 264.66,120.72 265.18,120.35 265.70,119.99 266.23,119.65 266.75,119.33 267.27,119.04 267.80,118.79 268.32,118.58 268.85,118.43 269.37,118.33 269.89,118.30 270.42,118.38 270.94,118.59 271.46,118.89 271.99,119.24 272.51,119.59 273.04,119.89 273.56,120.18 274.08,120.52 274.61,120.86 275.13,121.18 275.65,121.45 276.18,121.64 276.70,121.71 277.22,121.67 277.75,121.56 278.27,121.38 278.80,121.13 279.32,120.84 279.84,120.49 280.37,120.10 280.89,119.68 281.41,119.23 281.94,118.75 282.46,117.95 282.99,116.68 283.51,115.14 284.03,113.56 284.56,112.17 285.08,111.17 285.60,110.79 286.13,111.35 286.65,112.76 287.17,114.61 287.70,116.47 288.22,118.52 288.75,120.98 289.27,123.55 289.79,125.94 290.32,127.85 290.84,129.43 291.36,131.00 291.89,132.51 292.41,133.93 292.93,135.22 293.46,136.32 293.98,137.19 294.51,137.80 295.03,138.09 295.55,138.21 296.08,138.32 296.60,138.43 297.12,138.54 297.65,138.65 298.17,138.76 298.69,138.86 299.22,138.96 299.74,139.06 300.27,139.15 300.79,139.25 301.31,139.34 301.84,139.42 302.36,139.51 302.88,139.59 303.41,139.67 303.93,139.75 304.46,139.83 304.98,139.91 305.50,139.98 306.03,140.05 306.55,140.12 307.07,140.18 307.60,140.25 308.12,140.31 308.64,140.37 309.17,140.43 309.69,140.48 310.22,140.54 310.74,140.59 311.26,140.64 311.79,140.69 312.31,140.74 312.83,140.78 313.36,140.83 313.88,140.87 314.41,140.91 314.93,140.95 315.45,140.99 315.98,141.02 316.50,141.06 317.02,141.09 317.55,141.12 318.07,141.15 318.59,141.18 319.12,141.20 319.64,141.23 320.17,141.25 320.69,141.28 321.21,141.30 321.74,141.32 322.26,141.34 322.78,141.35 323.31,141.37 323.83,141.39 324.35,141.40 324.88,141.41 325.40,141.43 325.93,141.44 326.45,141.45 326.97,141.46 327.50,141.46 328.02,141.47 328.54,141.48 329.07,141.48 329.59,141.49 330.12,141.49 330.64,141.49 331.16,141.50 331.69,141.50 332.21,141.50 332.73,141.50 333.26,141.50 333.78,141.50 334.30,141.50 334.83,141.50 335.35,141.50 335.88,141.50 336.40,141.50 336.92,141.50 337.45,141.50 337.97,141.50 338.49,141.50 339.02,141.50 339.54,141.50 340.06,141.50 340.59,141.50 341.11,141.50 341.64,141.50 342.16,141.50 342.68,141.50 343.21,141.50 343.73,141.50 344.25,141.50 344.78,141.50 345.30,141.50 345.83,141.50 346.35,141.50 346.87,141.50 347.40,141.50 347.92,141.50 348.44,141.50 348.97,141.50 349.49,141.50 350.01,141.50 350.54,141.50 351.06,141.50 351.59,141.50 352.11,141.50 352.63,141.50 353.16,141.50 353.68,141.50 354.20,141.50 354.73,141.50 355.25,141.50 355.77,141.50 356.30,141.50 356.82,141.50 357.35,141.50 357.87,141.50 358.39,141.50 358.92,141.50 359.44,141.50 359.96,141.50 360.49,141.50 361.01,141.50 361.54,141.50 362.06,141.50 362.58,141.50 363.11,141.50 363.63,141.50 364.15,141.50"/>
<polyline points="232.19,140.12 232.71,140.04 233.24,139.94 233.76,139.83 234.28,139.71 234.81,139.58 235.33,139.43 235.85,139.27 236.38,139.10 236.90,138.92 237.43,138.73 237.95,138.52 238.47,138.31 239.00,138.09 239.52,137.85 240.04,137.61 240.57,137.36 241.09,137.10 241.62,136.83 242.14,136.55 242.66,136.27 243.19,135.98 243.71,135.68 244.23,135.37 244.76,135.06 245.28,134.74 245.80,134.42 246.33,134.09 246.85,133.76 247.38,133.42 247.90,133.07 248.42,132.73 248.95,132.38 249.47,132.02 249.99,131.66 250.52,131.30 251.04,130.94 251.56,130.57 252.09,130.21 252.61,129.83 253.14,129.43 253.66,128.99 254.18,128.53 254.71,128.04 255.23,127.52 255.75,126.99 256.28,126.43 256.80,125.86 257.33,125.27 257.85,124.66 258.37,124.05 258.90,123.43 259.42,122.80 259.94,122.17 260.47,121.53 260.99,120.90 261.51,120.26 262.04,119.64 262.56,119.02 263.09,118.40 263.61,117.80 264.13,117.22 264.66,116.64 265.18,116.09 265.70,115.51 266.23,114.88 266.75,114.22 267.27,113.52 267.80,112.82 268.32,112.13 268.85,111.45 269.37,110.80 269.89,110.20 270.42,109.66 270.94,109.20 271.46,108.82 271.99,108.55 272.51,108.40 273.04,108.38 273.56,108.51 274.08,108.77 274.61,109.09 275.13,109.43 275.65,109.72 276.18,109.96 276.70,110.22 277.22,110.48 277.75,110.71 278.27,110.88 278.80,110.97 279.32,110.92 279.84,110.70 280.37,110.33 280.89,109.84 281.41,109.25 281.94,108.58 282.46,107.87 282.99,107.14 283.51,106.15 284.03,104.64 284.56,102.87 285.08,101.09 285.60,99.56 286.13,98.55 286.65,98.30 287.17,98.93 287.70,100.23 288.22,101.92 288.75,103.74 289.27,105.43 289.79,107.21 290.32,109.21 290.84,111.34 291.36,113.52 291.89,115.67 292.41,117.69 292.93,119.51 293.46,121.06 293.98,122.56 294.51,124.06 295.03,125.56 295.55,127.02 296.08,128.43 296.60,129.77 297.12,131.01 297.65,132.14 298.17,133.14 298.69,133.97 299.22,134.63 299.74,135.09 300.27,135.36 300.79,135.58 301.31,135.79 301.84,136.00 302.36,136.21 302.88,136.41 303.41,136.61 303.93,136.80 304.46,136.99 304.98,137.17 305.50,137.35 306.03,137.53 306.55,137.70 307.07,137.86 307.60,138.03 308.12,138.18 308.64,138.34 309.17,138.49 309.69,138.63 310.22,138.77 310.74,138.91 311.26,139.04 311.79,139.17 312.31,139.30 312.83,139.42 313.36,139.53 313.88,139.65 314.41,139.76 314.93,139.86 315.45,139.96 315.98,140.06 316.50,140.16 317.02,140.25 317.55,140.34 318.07,140.42 318.59,140.50 319.12,140.58 319.64,140.65 320.17,140.72 320.69,140.79 321.21,140.85 321.74,140.91 322.26,140.97 322.78,141.02 323.31,141.07 323.83,141.12 324.35,141.17 324.88,141.21 325.40,141.25 325.93,141.28 326.45,141.32 326.97,141.35 327.50,141.37 328.02,141.40 328.54,141.42 329.07,141.44 329.59,141.46 330.12,141.47 330.64,141.48 331.16,141.49 331.69,141.50 332.21,141.50 332.73,141.50 333.26,141.50 333.78,141.50 334.30,141.50 334.83,141.50 335.35,141.50 335.88,141.50 336.40,141.50 336.92,141.50 337.45,141.50 337.97,141.50 338.49,141.50 339.02,141.50 339.54,141.50 340.06,141.50 340.59,141.50 341.11,141.50 341.64,141.50 342.16,141.50 342.68,141.50 343.21,141.50 343.73,141.50 344.25,141.50 344.78,141.50 345.30,141.50 345.83,141.50 346.35,141.50 346.87,141.50 347.40,141.50 347.92,141.50 348.44,141.50 348.97,141.50 349.49,141.50 350.01,141.50 350.54,141.50 351.06,141.50 351.59,141.50 352.11,141.50 352.63,141.50 353.16,141.50 353.68,141.50 354.20,141.50 354.73,141.50 355.25,141.50 355.77,141.50 356.30,141.50 356.82,141.50 357.35,141.50 357.87,141.50 358.39,141.50 358.92,141.50 359.44,141.50 359.96,141.50 360.49,141.50 361.01,141.50 361.54,141.50 362.06,141.50 362.58,141.50 363.11,141.50 363.63,141.50 364.15,141.50"/>
<polyline points="232.19,139.92 232.71,139.86 233.24,139.79 233.76,139.70 234.28,139.59 234.81,139.47 235.33,139.33 235.85,139.18 236.38,139.02 236.90,138.84 237.43,138.65 237.95,138.45 238.47,138.24 239.00,138.01 239.52,137.77 240.04,137.53 240.57,137.27 241.09,137.00 241.62,136.72 242.14,136.43 242.66,136.13 243.19,135.83 243.71,135.51 244.23,135.19 244.76,134.86 245.28,134.53 245.80,134.18 246.33,133.83 246.85,133.48 247.38,133.12 247.90,132.75 248.42,132.38 248.95,132.01 249.47,131.63 249.99,131.24 250.52,130.86 251.04,130.47 251.56,130.08 252.09,129.69 252.61,129.29 253.14,128.89 253.66,128.46 254.18,128.00 254.71,127.51 255.23,126.99 255.75,126.45 256.28,125.88 256.80,125.28 257.33,124.66 257.85,124.03 258.37,123.37 258.90,122.70 259.42,122.01 259.94,121.31 260.47,120.60 260.99,119.88 261.51,119.16 262.04,118.42 262.56,117.69 263.09,116.95 263.61,116.21 264.13,115.47 264.66,114.74 265.18,114.01 265.70,113.29 266.23,112.57 266.75,111.87 267.27,111.18 267.80,110.45 268.32,109.64 268.85,108.76 269.37,107.84 269.89,106.90 270.42,105.95 270.94,105.01 271.46,104.10 271.99,103.25 272.51,102.46 273.04,101.77 273.56,101.18 274.08,100.72 274.61,100.40 275.13,100.25 275.65,100.29 276.18,100.48 276.70,100.78 277.22,101.11 277.75,101.40 278.27,101.60 278.80,101.77 279.32,101.94 279.84,102.08 280.37,102.16 280.89,102.17 281.41,101.88 281.94,101.27 282.46,100.42 282.99,99.43 283.51,98.38 284.03,97.33 284.56,95.91 285.08,94.05 285.60,92.04 286.13,90.19 286.65,88.76 287.17,88.06 287.70,88.27 288.22,89.16 288.75,90.55 289.27,92.22 289.79,93.99 290.32,95.68 290.84,97.27 291.36,99.03 291.89,100.92 292.41,102.89 292.93,104.91 293.46,106.93 293.98,108.90 294.51,110.80 295.03,112.57 295.55,114.17 296.08,115.62 296.60,117.07 297.12,118.54 297.65,120.00 298.17,121.44 298.69,122.86 299.22,124.24 299.74,125.56 300.27,126.82 300.79,128.00 301.31,129.09 301.84,130.09 302.36,130.96 302.88,131.72 303.41,132.34 303.93,132.80 304.46,133.13 304.98,133.45 305.50,133.75 306.03,134.05 306.55,134.35 307.07,134.64 307.60,134.92 308.12,135.19 308.64,135.46 309.17,135.73 309.69,135.99 310.22,136.24 310.74,136.48 311.26,136.72 311.79,136.96 312.31,137.18 312.83,137.40 313.36,137.62 313.88,137.83 314.41,138.03 314.93,138.23 315.45,138.42 315.98,138.61 316.50,138.79 317.02,138.96 317.55,139.13 318.07,139.29 318.59,139.45 319.12,139.60 319.64,139.74 320.17,139.88 320.69,140.02 321.21,140.14 321.74,140.26 322.26,140.38 322.78,140.49 323.31,140.59 323.83,140.69 324.35,140.79 324.88,140.87 325.40,140.95 325.93,141.03 326.45,141.10 326.97,141.16 327.50,141.22 328.02,141.27 328.54,141.32 329.07,141.36 329.59,141.40 330.12,141.43 330.64,141.46 331.16,141.48 331.69,141.49 332.21,141.50 332.73,141.50 333.26,141.50 333.78,141.50 334.30,141.50 334.83,141.50 335.35,141.50 335.88,141.50 336.40,141.50 336.92,141.50 337.45,141.50 337.97,141.50 338.49,141.50 339.02,141.50 339.54,141.50 340.06,141.50 340.59,141.50 341.11,141.50 341.64,141.50 342.16,141.50 342.68,141.50 343.21,141.50 343.73,141.50 344.25,141.50 344.78,141.50 345.30,141.50 345.83,141.50 346.35,141.50 346.87,141.50 347.40,141.50 347.92,141.50 348.44,141.50 348.97,141.50 349.49,141.50 350.01,141.50 350.54,141.50 351.06,141.50 351.59,141.50 352.11,141.50 352.63,141.50 353.16,141.50 353.68,141.50 354.20,141.50 354.73,141.50 355.25,141.50 355.77,141.50 356.30,141.50 356.82,141.50 357.35,141.50 357.87,141.50 358.39,141.50 358.92,141.50 359.44,141.50 359.96,141.50 360.49,141.50 361.01,141.50 361.54,141.50 362.06,141.50 362.58,141.50 363.11,141.50 363.63,141.50 364.15,141.50"/>
<polyline points="232.19,139.77 232.71,139.72 233.24,139.65 233.76,139.57 234.28,139.47 234.81,139.36 235.33,139.23 235.85,139.08 236.38,138.92 236.90,138.75 237.43,138.56 237.95,138.36 238.47,138.14 239.00,137.91 239.52,137.67 240.04,137.42 240.57,137.16 241.09,136.88 241.62,136.60 242.14,136.30 242.66,136.00 243.19,135.68 243.71,135.36 244.23,135.03 244.76,134.69 245.28,134.34 245.80,133.99 246.33,133.62 246.85,133.26 247.38,132.88 247.90,132.50 248.42,132.12 248.95,131.73 249.47,131.33 249.99,130.94 250.52,130.54 251.04,130.13 251.56,129.72 252.09,129.31 252.61,128.90 253.14,128.49 253.66,128.07 254.18,127.62 254.71,127.14 255.23,126.63 255.75,126.09 256.28,125.52 256.80,124.93 257.33,124.31 257.85,123.67 258.37,123.00 258.90,122.32 259.42,121.62 259.94,120.90 260.47,120.16 260.99,119.41 261.51,118.65 262.04,117.87 262.56,117.09 263.09,116.29 263.61,115.49 264.13,114.69 264.66,113.88 265.18,113.07 265.70,112.26 266.23,111.45 266.75,110.64 267.27,109.83 267.80,109.03 268.32,108.24 268.85,107.45 269.37,106.63 269.89,105.71 270.42,104.70 270.94,103.63 271.46,102.51 271.99,101.38 272.51,100.25 273.04,99.15 273.56,98.09 274.08,97.11 274.61,96.22 275.13,95.44 275.65,94.80 276.18,94.32 276.70,94.02 277.22,93.92 277.75,94.04 278.27,94.31 278.80,94.63 279.32,94.93 279.84,95.11 280.37,95.20 280.89,95.27 281.41,95.32 281.94,95.35 282.46,95.23 282.99,94.48 283.51,93.25 284.03,91.78 284.56,90.32 285.08,88.81 285.60,86.83 286.13,84.66 286.65,82.62 287.17,81.01 287.70,80.15 288.22,80.22 288.75,80.96 289.27,82.18 289.79,83.73 290.32,85.45 290.84,87.18 291.36,88.78 291.89,90.35 292.41,92.05 292.93,93.85 293.46,95.72 293.98,97.64 294.51,99.58 295.03,101.52 295.55,103.42 296.08,105.25 296.60,107.00 297.12,108.63 297.65,110.11 298.17,111.53 298.69,112.96 299.22,114.40 299.74,115.83 300.27,117.25 300.79,118.65 301.31,120.02 301.84,121.35 302.36,122.65 302.88,123.88 303.41,125.06 303.93,126.17 304.46,127.20 304.98,128.15 305.50,129.00 306.03,129.76 306.55,130.40 307.07,130.93 307.60,131.35 308.12,131.74 308.64,132.13 309.17,132.51 309.69,132.88 310.22,133.25 310.74,133.60 311.26,133.96 311.79,134.30 312.31,134.64 312.83,134.97 313.36,135.29 313.88,135.61 314.41,135.92 314.93,136.22 315.45,136.51 315.98,136.80 316.50,137.08 317.02,137.35 317.55,137.61 318.07,137.87 318.59,138.11 319.12,138.35 319.64,138.58 320.17,138.80 320.69,139.02 321.21,139.22 321.74,139.42 322.26,139.61 322.78,139.79 323.31,139.96 323.83,140.12 324.35,140.28 324.88,140.42 325.40,140.56 325.93,140.69 326.45,140.81 326.97,140.92 327.50,141.02 328.02,141.11 328.54,141.19 329.07,141.26 329.59,141.32 330.12,141.38 330.64,141.42 331.16,141.46 331.69,141.48 332.21,141.50 332.73,141.50 333.26,141.50 333.78,141.50 334.30,141.50 334.83,141.50 335.35,141.50 335.88,141.50 336.40,141.50 336.92,141.50 337.45,141.50 337.97,141.50 338.49,141.50 339.02,141.50 339.54,141.50 340.06,141.50 340.59,141.50 341.11,141.50 341.64,141.50 342.16,141.50 342.68,141.50 343.21,141.50 343.73,141.50 344.25,141.50 344.78,141.50 345.30,141.50 345.83,141.50 346.35,141.50 346.87,141.50 347.40,141.50 347.92,141.50 348.44,141.50 348.97,141.50 349.49,141.50 350.01,141.50 350.54,141.50 351.06,141.50 351.59,141.50 352.11,141.50 352.63,141.50 353.16,141.50 353.68,141.50 354.20,141.50 354.73,141.50 355.25,141.50 355.77,141.50 356.30,141.50 356.82,141.50 357.35,141.50 357.87,141.50 358.39,141.50 358.92,141.50 359.44,141.50 359.96,141.50 360.49,141.50 361.01,141.50 361.54,141.50 362.06,141.50 362.58,141.50 363.11,141.50 363.63,141.50 364.15,141.50"/>
<polyline points="232.19,139.68 232.71,139.64 233.24,139.57 233.76,139.50 234.28,139.40 234.81,139.29 235.33,139.16 235.85,139.01 236.38,138.85 236.90,138.68 237.43,138.49 237.95,138.29 238.47,138.07 239.00,137.84 239.52,137.60 240.04,137.35 240.57,137.08 241.09,136.81 241.62,136.52 242.14,136.22 242.66,135.91 243.19,135.59 243.71,135.26 244.23,134.93 244.76,134.58 245.28,134.23 245.80,133.87 246.33,133.50 246.85,133.13 247.38,132.75 247.90,132.36 248.42,131.97 248.95,131.57 249.47,131.17 249.99,130.77 250.52,130.36 251.04,129.95 251.56,129.53 252.09,129.11 252.61,128.69 253.14,128.27 253.66,127.85 254.18,127.41 254.71,126.94 255.23,126.43 255.75,125.90 256.28,125.34 256.80,124.75 257.33,124.13 257.85,123.49 258.37,122.83 258.90,122.15 259.42,121.44 259.94,120.71 260.47,119.97 260.99,119.21 261.51,118.44 262.04,117.65 262.56,116.85 263.09,116.04 263.61,115.22 264.13,114.39 264.66,113.55 265.18,112.71 265.70,111.86 266.23,111.01 266.75,110.16 267.27,109.31 267.80,108.46 268.32,107.61 268.85,106.77 269.37,105.93 269.89,105.10 270.42,104.21 270.94,103.20 271.46,102.10 271.99,100.93 272.51,99.71 273.04,98.48 273.56,97.25 274.08,96.05 274.61,94.90 275.13,93.83 275.65,92.85 276.18,92.00 276.70,91.30 277.22,90.77 277.75,90.43 278.27,90.31 278.80,90.43 279.32,90.71 279.84,91.05 280.37,91.33 280.89,91.45 281.41,91.45 281.94,91.45 282.46,91.45 282.99,91.45 283.51,90.85 284.03,89.38 284.56,87.52 285.08,85.76 285.60,83.93 286.13,81.74 286.65,79.49 287.17,77.49 287.70,76.07 288.22,75.53 288.75,75.85 289.27,76.73 289.79,78.03 290.32,79.60 290.84,81.32 291.36,83.04 291.89,84.62 292.41,86.16 292.93,87.82 293.46,89.56 293.98,91.39 294.51,93.26 295.03,95.16 295.55,97.07 296.08,98.96 296.60,100.81 297.12,102.60 297.65,104.30 298.17,105.90 298.69,107.38 299.22,108.78 299.74,110.20 300.27,111.62 300.79,113.04 301.31,114.44 301.84,115.84 302.36,117.21 302.88,118.55 303.41,119.86 303.93,121.12 304.46,122.34 304.98,123.51 305.50,124.61 306.03,125.65 306.55,126.62 307.07,127.50 307.60,128.30 308.12,129.01 308.64,129.62 309.17,130.12 309.69,130.57 310.22,131.01 310.74,131.45 311.26,131.87 311.79,132.29 312.31,132.71 312.83,133.11 313.36,133.51 313.88,133.90 314.41,134.29 314.93,134.66 315.45,135.03 315.98,135.39 316.50,135.74 317.02,136.08 317.55,136.41 318.07,136.73 318.59,137.05 319.12,137.35 319.64,137.65 320.17,137.93 320.69,138.21 321.21,138.48 321.74,138.73 322.26,138.98 322.78,139.22 323.31,139.44 323.83,139.66 324.35,139.86 324.88,140.05 325.40,140.23 325.93,140.40 326.45,140.56 326.97,140.71 327.50,140.84 328.02,140.97 328.54,141.08 329.07,141.17 329.59,141.26 330.12,141.33 330.64,141.39 331.16,141.44 331.69,141.47 332.21,141.49 332.73,141.50 333.26,141.50 333.78,141.50 334.30,141.50 334.83,141.50 335.35,141.50 335.88,141.50 336.40,141.50 336.92,141.50 337.45,141.50 337.97,141.50 338.49,141.50 339.02,141.50 339.54,141.50 340.06,141.50 340.59,141.50 341.11,141.50 341.64,141.50 342.16,141.50 342.68,141.50 343.21,141.50 343.73,141.50 344.25,141.50 344.78,141.50 345.30,141.50 345.83,141.50 346.35,141.50 346.87,141.50 347.40,141.50 347.92,141.50 348.44,141.50 348.97,141.50 349.49,141.50 350.01,141.50 350.54,141.50 351.06,141.50 351.59,141.50 352.11,141.50 352.63,141.50 353.16,141.50 353.68,141.50 354.20,141.50 354.73,141.50 355.25,141.50 355.77,141.50 356.30,141.50 356.82,141.50 357.35,141.50 357.87,141.50 358.39,141.50 358.92,141.50 359.44,141.50 359.96,141.50 360.49,141.50 361.01,141.50 361.54,141.50 362.06,141.50 362.58,141.50 363.11,141.50 363.63,141.50 364.15,141.50"/>
<polyline points="232.19,139.11 232.71,139.10 233.24,139.07 233.76,139.02 234.28,138.95 234.81,138.86 235.33,138.75 235.85,138.63 236.38,138.49 236.90,138.33 237.43,138.16 237.95,137.98 238.47,137.78 239.00,137.56 239.52,137.33 240.04,137.09 240.57,136.84 241.09,136.57 241.62,136.30 242.14,136.01 242.66,135.71 243.19,135.40 243.71,135.09 244.23,134.76 244.76,134.42 245.28,134.08 245.80,133.73 246.33,133.38 246.85,133.01 247.38,132.65 247.90,132.27 248.42,131.89 248.95,131.51 249.47,131.13 249.99,130.74 250.52,130.35 251.04,129.95 251.56,129.56 252.09,129.16 252.61,128.76 253.14,128.35 253.66,127.89 254.18,127.41 254.71,126.89 255.23,126.34 255.75,125.76 256.28,125.15 256.80,124.51 257.33,123.85 257.85,123.17 258.37,122.47 258.90,121.74 259.42,120.99 259.94,120.23 260.47,119.45 260.99,118.65 261.51,117.84 262.04,117.02 262.56,116.19 263.09,115.35 263.61,114.49 264.13,113.64 264.66,112.78 265.18,111.91 265.70,111.04 266.23,110.17 266.75,109.31 267.27,108.44 267.80,107.58 268.32,106.72 268.85,105.87 269.37,104.99 269.89,104.03 270.42,103.00 270.94,101.91 271.46,100.77 271.99,99.59 272.51,98.39 273.04,97.16 273.56,95.93 274.08,94.70 274.61,93.49 275.13,92.30 275.65,91.14 276.18,90.03 276.70,88.97 277.22,87.98 277.75,87.07 278.27,86.25 278.80,85.52 279.32,84.90 279.84,84.39 280.37,84.02 280.89,83.78 281.41,83.59 281.94,83.43 282.46,83.29 282.99,83.17 283.51,83.06 284.03,82.96 284.56,82.89 285.08,82.82 285.60,82.74 286.13,82.60 286.65,82.25 287.17,81.65 287.70,80.89 288.22,80.07 288.75,79.28 289.27,78.43 289.79,77.36 290.32,76.22 290.84,75.12 291.36,74.19 291.89,73.56 292.41,73.35 292.93,73.50 293.46,73.88 293.98,74.47 294.51,75.23 295.03,76.13 295.55,77.14 296.08,78.21 296.60,79.33 297.12,80.45 297.65,81.55 298.17,82.60 298.69,83.72 299.22,84.93 299.74,86.23 300.27,87.59 300.79,89.01 301.31,90.47 301.84,91.97 302.36,93.49 302.88,95.02 303.41,96.55 303.93,98.06 304.46,99.54 304.98,100.98 305.50,102.37 306.03,103.77 306.55,105.24 307.07,106.75 307.60,108.29 308.12,109.87 308.64,111.46 309.17,113.06 309.69,114.65 310.22,116.23 310.74,117.78 311.26,119.30 311.79,120.76 312.31,122.18 312.83,123.52 313.36,124.78 313.88,125.96 314.41,127.04 314.93,128.01 315.45,128.85 315.98,129.57 316.50,130.15 317.02,130.65 317.55,131.14 318.07,131.63 318.59,132.11 319.12,132.58 319.64,133.04 320.17,133.49 320.69,133.94 321.21,134.37 321.74,134.79 322.26,135.21 322.78,135.61 323.31,136.00 323.83,136.38 324.35,136.75 324.88,137.11 325.40,137.45 325.93,137.79 326.45,138.11 326.97,138.42 327.50,138.71 328.02,138.99 328.54,139.26 329.07,139.52 329.59,139.76 330.12,139.99 330.64,140.20 331.16,140.39 331.69,140.58 332.21,140.74 332.73,140.89 333.26,141.03 333.78,141.15 334.30,141.25 334.83,141.33 335.35,141.40 335.88,141.45 336.40,141.48 336.92,141.50 337.45,141.50 337.97,141.50 338.49,141.50 339.02,141.50 339.54,141.50 340.06,141.50 340.59,141.50 341.11,141.50 341.64,141.50 342.16,141.50 342.68,141.50 343.21,141.50 343.73,141.50 344.25,141.50 344.78,141.50 345.30,141.50 345.83,141.50 346.35,141.50 346.87,141.50 347.40,141.50 347.92,141.50 348.44,141.50 348.97,141.50 349.49,141.50 350.01,141.50 350.54,141.50 351.06,141.50 351.59,141.50 352.11,141.50 352.63,141.50 353.16,141.50 353.68,141.50 354.20,141.50 354.73,141.50 355.25,141.50 355.77,141.50 356.30,141.50 356.82,141.50 357.35,141.50 357.87,141.50 358.39,141.50 358.92,141.50 359.44,141.50 359.96,141.50 360.49,141.50 361.01,141.50 361.54,141.50 362.06,141.50 362.58,141.50 363.11,141.50 363.63,141.50 364.15,141.50"/>
<polyline points="232.19,138.83 232.71,138.82 233.24,138.79 233.76,138.74 234.28,138.67 234.81,138.59 235.33,138.49 235.85,138.37 236.38,138.24 236.90,138.09 237.43,137.92 237.95,137.74 238.47,137.55 239.00,137.34 239.52,137.12 240.04,136.89 240.57,136.64 241.09,136.39 241.62,136.12 242.14,135.84 242.66,135.55 243.19,135.25 243.71,134.95 244.23,134.63 244.76,134.31 245.28,133.98 245.80,133.64 246.33,133.30 246.85,132.94 247.38,132.59 247.90,132.23 248.42,131.86 248.95,131.49 249.47,131.12 249.99,130.75 250.52,130.37 251.04,129.99 251.56,129.61 252.09,129.22 252.61,128.82 253.14,128.37 253.66,127.90 254.18,127.38 254.71,126.84 255.23,126.26 255.75,125.66 256.28,125.03 256.80,124.37 257.33,123.68 257.85,122.98 258.37,122.25 258.90,121.50 259.42,120.73 259.94,119.94 260.47,119.14 260.99,118.33 261.51,117.50 262.04,116.66 262.56,115.81 263.09,114.95 263.61,114.09 264.13,113.22 264.66,112.34 265.18,111.47 265.70,110.59 266.23,109.72 266.75,108.84 267.27,107.98 267.80,107.11 268.32,106.26 268.85,105.38 269.37,104.45 269.89,103.46 270.42,102.42 270.94,101.34 271.46,100.23 271.99,99.09 272.51,97.92 273.04,96.74 273.56,95.55 274.08,94.36 274.61,93.17 275.13,91.99 275.65,90.83 276.18,89.69 276.70,88.58 277.22,87.51 277.75,86.48 278.27,85.50 278.80,84.58 279.32,83.72 279.84,82.93 280.37,82.22 280.89,81.58 281.41,81.04 281.94,80.59 282.46,80.20 282.99,79.85 283.51,79.53 284.03,79.25 284.56,79.01 285.08,78.82 285.60,78.67 286.13,78.56 286.65,78.46 287.17,78.35 287.70,78.18 288.22,77.91 288.75,77.56 289.27,77.14 289.79,76.69 290.32,76.23 290.84,75.78 291.36,75.21 291.89,74.55 292.41,73.87 292.93,73.24 293.46,72.71 293.98,72.36 294.51,72.26 295.03,72.37 295.55,72.66 296.08,73.09 296.60,73.66 297.12,74.33 297.65,75.11 298.17,75.95 298.69,76.85 299.22,77.79 299.74,78.74 300.27,79.69 300.79,80.62 301.31,81.53 301.84,82.50 302.36,83.55 302.88,84.67 303.41,85.85 303.93,87.08 304.46,88.35 304.98,89.66 305.50,91.00 306.03,92.36 306.55,93.74 307.07,95.12 307.60,96.49 308.12,97.85 308.64,99.20 309.17,100.54 309.69,101.97 310.22,103.47 310.74,105.03 311.26,106.65 311.79,108.31 312.31,109.99 312.83,111.69 313.36,113.40 313.88,115.09 314.41,116.76 314.93,118.40 315.45,119.99 315.98,121.52 316.50,122.98 317.02,124.36 317.55,125.64 318.07,126.81 318.59,127.86 319.12,128.78 319.64,129.55 320.17,130.16 320.69,130.69 321.21,131.22 321.74,131.74 322.26,132.25 322.78,132.75 323.31,133.24 323.83,133.71 324.35,134.18 324.88,134.64 325.40,135.09 325.93,135.52 326.45,135.94 326.97,136.35 327.50,136.75 328.02,137.14 328.54,137.51 329.07,137.86 329.59,138.21 330.12,138.53 330.64,138.85 331.16,139.14 331.69,139.42 332.21,139.69 332.73,139.94 333.26,140.17 333.78,140.38 334.30,140.58 334.83,140.76 335.35,140.92 335.88,141.06 336.40,141.18 336.92,141.29 337.45,141.37 337.97,141.43 338.49,141.48 339.02,141.50 339.54,141.50 340.06,141.50 340.59,141.50 341.11,141.50 341.64,141.50 342.16,141.50 342.68,141.50 343.21,141.50 343.73,141.50 344.25,141.50 344.78,141.50 345.30,141.50 345.83,141.50 346.35,141.50 346.87,141.50 347.40,141.50 347.92,141.50 348.44,141.50 348.97,141.50 349.49,141.50 350.01,141.50 350.54,141.50 351.06,141.50 351.59,141.50 352.11,141.50 352.63,141.50 353.16,141.50 353.68,141.50 354.20,141.50 354.73,141.50 355.25,141.50 355.77,141.50 356.30,141.50 356.82,141.50 357.35,141.50 357.87,141.50 358.39,141.50 358.92,141.50 359.44,141.50 359.96,141.50 360.49,141.50 361.01,141.50 361.54,141.50 362.06,141.50 362.58,141.50 363.11,141.50 363.63,141.50 364.15,141.50"/>
<polyline points="232.19,138.54 232.71,138.53 233.24,138.51 233.76,138.46 234.28,138.40 234.81,138.32 235.33,138.22 235.85,138.10 236.38,137.98 236.90,137.83 237.43,137.67 237.95,137.50 238.47,137.32 239.00,137.12 239.52,136.90 240.04,136.68 240.57,136.45 241.09,136.20 241.62,135.94 242.14,135.67 242.66,135.40 243.19,135.11 243.71,134.82 244.23,134.51 244.76,134.20 245.28,133.88 245.80,133.56 246.33,133.23 246.85,132.89 247.38,132.55 247.90,132.20 248.42,131.85 248.95,131.50 249.47,131.14 249.99,130.78 250.52,130.42 251.04,130.05 251.56,129.68 252.09,129.29 252.61,128.86 253.14,128.39 253.66,127.89 254.18,127.35 254.71,126.78 255.23,126.17 255.75,125.54 256.28,124.88 256.80,124.20 257.33,123.49 257.85,122.76 258.37,122.00 258.90,121.23 259.42,120.44 259.94,119.63 260.47,118.81 260.99,117.98 261.51,117.13 262.04,116.27 262.56,115.41 263.09,114.53 263.61,113.66 264.13,112.78 264.66,111.89 265.18,111.01 265.70,110.13 266.23,109.25 266.75,108.37 267.27,107.50 267.80,106.64 268.32,105.77 268.85,104.86 269.37,103.90 269.89,102.90 270.42,101.86 270.94,100.79 271.46,99.70 271.99,98.58 272.51,97.45 273.04,96.30 273.56,95.14 274.08,93.98 274.61,92.81 275.13,91.65 275.65,90.49 276.18,89.35 276.70,88.22 277.22,87.12 277.75,86.03 278.27,84.98 278.80,83.96 279.32,82.98 279.84,82.04 280.37,81.14 280.89,80.30 281.41,79.51 281.94,78.78 282.46,78.11 282.99,77.51 283.51,76.97 284.03,76.44 284.56,75.95 285.08,75.51 285.60,75.12 286.13,74.79 286.65,74.54 287.17,74.35 287.70,74.20 288.22,74.06 288.75,73.92 289.27,73.76 289.79,73.60 290.32,73.43 290.84,73.25 291.36,73.08 291.89,72.90 292.41,72.71 292.93,72.51 293.46,72.27 293.98,72.00 294.51,71.75 295.03,71.51 295.55,71.32 296.08,71.20 296.60,71.17 297.12,71.26 297.65,71.48 298.17,71.81 298.69,72.25 299.22,72.77 299.74,73.38 300.27,74.06 300.79,74.78 301.31,75.55 301.84,76.36 302.36,77.18 302.88,78.00 303.41,78.82 303.93,79.62 304.46,80.42 304.98,81.27 305.50,82.18 306.03,83.15 306.55,84.17 307.07,85.23 307.60,86.33 308.12,87.47 308.64,88.64 309.17,89.84 309.69,91.06 310.22,92.30 310.74,93.56 311.26,94.82 311.79,96.08 312.31,97.35 312.83,98.69 313.36,100.15 313.88,101.69 314.41,103.32 314.93,105.01 315.45,106.76 315.98,108.54 316.50,110.34 317.02,112.16 317.55,113.97 318.07,115.76 318.59,117.51 319.12,119.23 319.64,120.87 320.17,122.45 320.69,123.93 321.21,125.31 321.74,126.58 322.26,127.71 322.78,128.70 323.31,129.52 323.83,130.17 324.35,130.74 324.88,131.30 325.40,131.86 325.93,132.40 326.45,132.93 326.97,133.45 327.50,133.96 328.02,134.46 328.54,134.94 329.07,135.42 329.59,135.88 330.12,136.32 330.64,136.75 331.16,137.17 331.69,137.56 332.21,137.95 332.73,138.31 333.26,138.66 333.78,139.00 334.30,139.31 334.83,139.60 335.35,139.88 335.88,140.14 336.40,140.37 336.92,140.59 337.45,140.78 337.97,140.95 338.49,141.10 339.02,141.23 339.54,141.33 340.06,141.41 340.59,141.46 341.11,141.49 341.64,141.50 342.16,141.50 342.68,141.50 343.21,141.50 343.73,141.50 344.25,141.50 344.78,141.50 345.30,141.50 345.83,141.50 346.35,141.50 346.87,141.50 347.40,141.50 347.92,141.50 348.44,141.50 348.97,141.50 349.49,141.50 350.01,141.50 350.54,141.50 351.06,141.50 351.59,141.50 352.11,141.50 352.63,141.50 353.16,141.50 353.68,141.50 354.20,141.50 354.73,141.50 355.25,141.50 355.77,141.50 356.30,141.50 356.82,141.50 357.35,141.50 357.87,141.50 358.39,141.50 358.92,141.50 359.44,141.50 359.96,141.50 360.49,141.50 361.01,141.50 361.54,141.50 362.06,141.50 362.58,141.50 363.11,141.50 363.63,141.50 364.15,141.50"/>
<polyline points="232.19,138.31 232.71,138.31 233.24,138.28 233.76,138.23 234.28,138.17 234.81,138.10 235.33,138.00 235.85,137.89 236.38,137.77 236.90,137.63 237.43,137.48 237.95,137.31 238.47,137.13 239.00,136.94 239.52,136.74 240.04,136.52 240.57,136.29 241.09,136.05 241.62,135.81 242.14,135.55 242.66,135.28 243.19,135.01 243.71,134.72 244.23,134.43 244.76,134.13 245.28,133.82 245.80,133.51 246.33,133.19 246.85,132.87 247.38,132.54 247.90,132.20 248.42,131.86 248.95,131.52 249.47,131.18 249.99,130.83 250.52,130.48 251.04,130.12 251.56,129.75 252.09,129.34 252.61,128.88 253.14,128.39 253.66,127.87 254.18,127.30 254.71,126.71 255.23,126.09 255.75,125.43 256.28,124.75 256.80,124.05 257.33,123.32 257.85,122.57 258.37,121.79 258.90,121.00 259.42,120.19 259.94,119.37 260.47,118.53 260.99,117.68 261.51,116.82 262.04,115.94 262.56,115.07 263.09,114.18 263.61,113.30 264.13,112.41 264.66,111.52 265.18,110.63 265.70,109.74 266.23,108.86 266.75,107.99 267.27,107.12 267.80,106.26 268.32,105.36 268.85,104.42 269.37,103.45 269.89,102.45 270.42,101.42 270.94,100.36 271.46,99.28 271.99,98.18 272.51,97.06 273.04,95.94 273.56,94.80 274.08,93.65 274.61,92.50 275.13,91.36 275.65,90.21 276.18,89.07 276.70,87.94 277.22,86.82 277.75,85.72 278.27,84.63 278.80,83.57 279.32,82.54 279.84,81.53 280.37,80.55 280.89,79.60 281.41,78.70 281.94,77.83 282.46,77.01 282.99,76.24 283.51,75.51 284.03,74.84 284.56,74.20 285.08,73.57 285.60,72.97 286.13,72.42 286.65,71.93 287.17,71.52 287.70,71.20 288.22,70.95 288.75,70.72 289.27,70.53 289.79,70.38 290.32,70.29 290.84,70.24 291.36,70.19 291.89,70.15 292.41,70.11 292.93,70.09 293.46,70.07 293.98,70.06 294.51,70.07 295.03,70.08 295.55,70.10 296.08,70.13 296.60,70.16 297.12,70.20 297.65,70.25 298.17,70.29 298.69,70.39 299.22,70.59 299.74,70.87 300.27,71.23 300.79,71.66 301.31,72.15 301.84,72.70 302.36,73.31 302.88,73.95 303.41,74.62 303.93,75.32 304.46,76.04 304.98,76.77 305.50,77.50 306.03,78.22 306.55,78.94 307.07,79.67 307.60,80.44 308.12,81.27 308.64,82.14 309.17,83.05 309.69,84.00 310.22,84.98 310.74,86.00 311.26,87.05 311.79,88.13 312.31,89.24 312.83,90.37 313.36,91.52 313.88,92.70 314.41,93.89 314.93,95.09 315.45,96.37 315.98,97.78 316.50,99.31 317.02,100.94 317.55,102.65 318.07,104.43 318.59,106.26 319.12,108.14 319.64,110.03 320.17,111.94 320.69,113.83 321.21,115.71 321.74,117.54 322.26,119.32 322.78,121.03 323.31,122.66 323.83,124.19 324.35,125.60 324.88,126.89 325.40,128.02 325.93,129.00 326.45,129.80 326.97,130.43 327.50,131.03 328.02,131.62 328.54,132.19 329.07,132.76 329.59,133.32 330.12,133.86 330.64,134.40 331.16,134.91 331.69,135.42 332.21,135.91 332.73,136.38 333.26,136.84 333.78,137.28 334.30,137.70 334.83,138.11 335.35,138.49 335.88,138.86 336.40,139.20 336.92,139.52 337.45,139.83 337.97,140.10 338.49,140.36 339.02,140.59 339.54,140.80 340.06,140.98 340.59,141.14 341.11,141.27 341.64,141.37 342.16,141.44 342.68,141.49 343.21,141.50 343.73,141.50 344.25,141.50 344.78,141.50 345.30,141.50 345.83,141.50 346.35,141.50 346.87,141.50 347.40,141.50 347.92,141.50 348.44,141.50 348.97,141.50 349.49,141.50 350.01,141.50 350.54,141.50 351.06,141.50 351.59,141.50 352.11,141.50 352.63,141.50 353.16,141.50 353.68,141.50 354.20,141.50 354.73,141.50 355.25,141.50 355.77,141.50 356.30,141.50 356.82,141.50 357.35,141.50 357.87,141.50 358.39,141.50 358.92,141.50 359.44,141.50 359.96,141.50 360.49,141.50 361.01,141.50 361.54,141.50 362.06,141.50 362.58,141.50 363.11,141.50 363.63,141.50 364.15,141.50"/>
<polyline points="232.19,141.05 232.71,141.03 233.24,141.01 233.76,140.98 234.28,140.96 234.81,140.93 235.33,140.90 235.85,140.87 236.38,140.84 236.90,140.81 237.43,140.78 237.95,140.75 238.47,140.71 239.00,140.68 239.52,140.64 240.04,140.60 240.57,140.57 241.09,140.53 241.62,140.49 242.14,140.45 242.66,140.41 243.19,140.36 243.71,140.32 244.23,140.27 244.76,140.23 245.28,140.18 245.80,140.13 246.33,140.09 246.85,140.04 247.38,139.99 247.90,139.94 248.42,139.89 248.95,139.83 249.47,139.78 249.99,139.73 250.52,139.67 251.04,139.62 251.56,139.57 252.09,139.51 252.61,139.46 253.14,139.40 253.66,139.35 254.18,139.29 254.71,139.24 255.23,139.18 255.75,139.13 256.28,139.07 256.80,139.02 257.33,138.96 257.85,138.91 258.37,138.86 258.90,138.80 259.42,138.75 259.94,138.70 260.47,138.65 260.99,138.60 261.51,138.55 262.04,138.51 262.56,138.46 263.09,138.41 263.61,138.37 264.13,138.33 264.66,138.29 265.18,138.25 265.70,138.21 266.23,138.17 266.75,138.14 267.27,138.11 267.80,138.08 268.32,138.05 268.85,138.02 269.37,138.00 269.89,137.97 270.42,137.95 270.94,137.93 271.46,137.92 271.99,137.90 272.51,137.89 273.04,137.88 273.56,137.87 274.08,137.86 274.61,137.86 275.13,137.86 275.65,137.86 276.18,137.86 276.70,137.87 277.22,137.87 277.75,137.88 278.27,137.89 278.80,137.90 279.32,137.91 279.84,137.92 280.37,137.93 280.89,137.95 281.41,137.96 281.94,137.98 282.46,138.00 282.99,138.02 283.51,138.04 284.03,138.06 284.56,138.09 285.08,138.11 285.60,138.14 286.13,138.17 286.65,138.20 287.17,138.23 287.70,138.26 288.22,138.29 288.75,138.32 289.27,138.35 289.79,138.39 290.32,138.42 290.84,138.46 291.36,138.50 291.89,138.53 292.41,138.57 292.93,138.61 293.46,138.65 293.98,138.69 294.51,138.73 295.03,138.77 295.55,138.81 296.08,138.86 296.60,138.90 297.12,138.94 297.65,138.99 298.17,139.03 298.69,139.07 299.22,139.12 299.74,139.16 300.27,139.20 300.79,139.25 301.31,139.29 301.84,139.34 302.36,139.38 302.88,139.42 303.41,139.47 303.93,139.51 304.46,139.56 304.98,139.60 305.50,139.64 306.03,139.69 306.55,139.73 307.07,139.77 307.60,139.81 308.12,139.85 308.64,139.90 309.17,139.94 309.69,139.98 310.22,140.02 310.74,140.06 311.26,140.10 311.79,140.13 312.31,140.17 312.83,140.21 313.36,140.25 313.88,140.28 314.41,140.32 314.93,140.35 315.45,140.39 315.98,140.42 316.50,140.46 317.02,140.49 317.55,140.52 318.07,140.55 318.59,140.58 319.12,140.61 319.64,140.64 320.17,140.67 320.69,140.70 321.21,140.73 321.74,140.75 322.26,140.78 322.78,140.81 323.31,140.83 323.83,140.85 324.35,140.88 324.88,140.90 325.40,140.92 325.93,140.95 326.45,140.97 326.97,140.99 327.50,141.01 328.02,141.03 328.54,141.05 329.07,141.06 329.59,141.08 330.12,141.10 330.64,141.12 331.16,141.13 331.69,141.15 332.21,141.16 332.73,141.18 333.26,141.19 333.78,141.20 334.30,141.22 334.83,141.23 335.35,141.24 335.88,141.25 336.40,141.26 336.92,141.28 337.45,141.29 337.97,141.30 338.49,141.31 339.02,141.31 339.54,141.32 340.06,141.33 340.59,141.34 341.11,141.35 341.64,141.36 342.16,141.36 342.68,141.37 343.21,141.38 343.73,141.38 344.25,141.39 344.78,141.39 345.30,141.40 345.83,141.40 346.35,141.41 346.87,141.41 347.40,141.42 347.92,141.42 348.44,141.43 348.97,141.43 349.49,141.44 350.01,141.44 350.54,141.44 351.06,141.45 351.59,141.45 352.11,141.45 352.63,141.45 353.16,141.46 353.68,141.46 354.20,141.46 354.73,141.46 355.25,141.47 355.77,141.47 356.30,141.47 356.82,141.47 357.35,141.47 357.87,141.48 358.39,141.48 358.92,141.48 359.44,141.48 359.96,141.48 360.49,141.48 361.01,141.48 361.54,141.48 362.06,141.49 362.58,141.49 363.11,141.49 363.63,141.49 364.15,141.49"/>
<polyline points="35.72,313.84 36.24,313.84 36.77,313.83 37.30,313.81 37.82,313.79 38.35,313.76 38.88,313.72 39.41,313.68 39.93,313.63 40.46,313.58 40.99,313.52 41.51,313.46 42.04,313.39 42.57,313.32 43.09,313.25 43.62,313.17 44.15,313.09 44.67,313.00 45.20,312.91 45.73,312.82 46.26,312.73 46.78,312.63 47.31,312.53 47.84,312.43 48.36,312.33 48.89,312.23 49.42,312.12 49.95,312.02 50.47,311.90 51.00,311.78 51.53,311.64 52.05,311.49 52.58,311.32 53.11,311.15 53.63,310.96 54.16,310.76 54.69,310.55 55.22,310.34 55.74,310.11 56.27,309.87 56.80,309.63 57.32,309.38 57.85,309.12 58.38,308.86 58.90,308.59 59.43,308.29 59.96,307.93 60.48,307.54 61.01,307.12 61.54,306.69 62.07,306.27 62.59,305.87 63.12,305.49 63.65,305.17 64.17,304.85 64.70,304.51 65.23,304.19 65.75,303.91 66.28,303.69 66.81,303.58 67.34,303.59 67.86,303.71 68.39,303.91 68.92,304.17 69.44,304.44 69.97,304.71 70.50,304.94 71.03,305.16 71.55,305.39 72.08,305.63 72.61,305.86 73.13,306.06 73.66,306.22 74.19,306.31 74.71,306.36 75.24,306.41 75.77,306.45 76.30,306.49 76.82,306.51 77.35,306.53 77.88,306.54 78.40,306.48 78.93,306.31 79.46,306.05 79.98,305.71 80.51,305.31 81.04,304.86 81.56,304.37 82.09,303.86 82.62,303.35 83.15,302.85 83.67,302.37 84.20,301.93 84.73,301.54 85.25,301.23 85.78,300.99 86.31,300.86 86.84,300.85 87.36,301.27 87.89,302.05 88.42,303.02 88.94,304.03 89.47,305.26 90.00,306.85 90.52,308.51 91.05,309.95 91.58,310.88 92.10,311.43 92.63,311.94 93.16,312.41 93.69,312.81 94.21,313.14 94.74,313.39 95.27,313.55 95.79,313.62 96.32,313.63 96.85,313.64 97.38,313.66 97.90,313.67 98.43,313.68 98.96,313.69 99.48,313.71 100.01,313.72 100.54,313.73 101.06,313.74 101.59,313.76 102.12,313.77 102.64,313.78 103.17,313.79 103.70,313.80 104.23,313.81 104.75,313.82 105.28,313.83 105.81,313.84 106.33,313.86 106.86,313.87 107.39,313.88 107.92,313.89 108.44,313.90 108.97,313.90 109.50,313.91 110.02,313.92 110.55,313.93 111.08,313.94 111.60,313.95 112.13,313.96 112.66,313.97 113.19,313.98 113.71,313.98 114.24,313.99 114.77,314.00 115.29,314.01 115.82,314.02 116.35,314.02 116.87,314.03 117.40,314.04 117.93,314.05 118.45,314.05 118.98,314.06 119.51,314.07 120.04,314.07 120.56,314.08 121.09,314.09 121.62,314.09 122.14,314.10 122.67,314.11 123.20,314.11 123.72,314.12 124.25,314.12 124.78,314.13 125.31,314.13 125.83,314.14 126.36,314.14 126.89,314.15 127.41,314.15 127.94,314.16 128.47,314.16 129.00,314.17 129.52,314.17 130.05,314.18 130.58,314.18 131.10,314.19 131.63,314.19 132.16,314.19 132.68,314.20 133.21,314.20 133.74,314.21 134.26,314.21 134.79,314.21 135.32,314.22 135.85,314.22 136.37,314.22 136.90,314.23 137.43,314.23 137.95,314.23 138.48,314.24 139.01,314.24 139.53,314.24 140.06,314.24 140.59,314.25 141.12,314.25 141.64,314.25 142.17,314.25 142.70,314.26 143.22,314.26 143.75,314.26 144.28,314.26 144.81,314.26 145.33,314.27 145.86,314.27 146.39,314.27 146.91,314.27 147.44,314.27 147.97,314.28 148.49,314.28 149.02,314.28 149.55,314.28 150.07,314.28 150.60,314.28 151.13,314.28 151.66,314.28 152.18,314.29 152.71,314.29 153.24,314.29 153.76,314.29 154.29,314.29 154.82,314.29 155.34,314.29 155.87,314.29 156.40,314.29 156.93,314.29 157.45,314.29 157.98,314.30 158.51,314.30 159.03,314.30 159.56,314.30 160.09,314.30 160.62,314.30 161.14,314.30 161.67,314.30 162.20,314.30 162.72,314.30 163.25,314.30 163.78,314.30 164.30,314.30 164.83,314.30 165.36,314.30 165.88,314.30 166.41,314.30 166.94,314.30 167.47,314.30 167.99,314.30 168.52,314.30"/>
<polyline points="35.72,313.21 36.24,313.20 36.77,313.18 37.30,313.14 37.82,313.09 38.35,313.02 38.88,312.94 39.41,312.85 39.93,312.74 40.46,312.62 40.99,312.49 41.51,312.35 42.04,312.20 42.57,312.04 43.09,311.87 43.62,311.69 44.15,311.50 44.67,311.31 45.20,311.11 45.73,310.90 46.26,310.68 46.78,310.46 47.31,310.23 47.84,310.00 48.36,309.76 48.89,309.52 49.42,309.28 49.95,309.03 50.47,308.78 51.00,308.50 51.53,308.17 52.05,307.81 52.58,307.41 53.11,306.98 53.63,306.52 54.16,306.03 54.69,305.52 55.22,304.98 55.74,304.43 56.27,303.86 56.80,303.27 57.32,302.67 57.85,302.06 58.38,301.45 58.90,300.83 59.43,300.21 59.96,299.58 60.48,298.91 61.01,298.17 61.54,297.39 62.07,296.59 62.59,295.77 63.12,294.96 63.65,294.16 64.17,293.41 64.70,292.71 65.23,292.02 65.75,291.26 66.28,290.49 66.81,289.76 67.34,289.15 67.86,288.71 68.39,288.50 68.92,288.57 69.44,288.85 69.97,289.28 70.50,289.82 71.03,290.41 71.55,291.00 72.08,291.55 72.61,292.06 73.13,292.62 73.66,293.20 74.19,293.80 74.71,294.40 75.24,294.98 75.77,295.54 76.30,296.05 76.82,296.52 77.35,296.98 77.88,297.47 78.40,297.96 78.93,298.43 79.46,298.86 79.98,299.23 80.51,299.51 81.04,299.69 81.56,299.75 82.09,299.65 82.62,299.39 83.15,298.99 83.67,298.50 84.20,297.93 84.73,297.30 85.25,296.65 85.78,296.01 86.31,295.39 86.84,294.83 87.36,294.34 87.89,293.97 88.42,293.73 88.94,293.65 89.47,293.92 90.00,294.58 90.52,295.51 91.05,296.56 91.58,297.61 92.10,298.55 92.63,299.58 93.16,300.70 93.69,301.89 94.21,303.10 94.74,304.28 95.27,305.42 95.79,306.46 96.32,307.36 96.85,308.10 97.38,308.73 97.90,309.37 98.43,309.98 98.96,310.57 99.48,311.13 100.01,311.63 100.54,312.08 101.06,312.46 101.59,312.75 102.12,312.96 102.64,313.06 103.17,313.09 103.70,313.12 104.23,313.15 104.75,313.18 105.28,313.20 105.81,313.23 106.33,313.26 106.86,313.29 107.39,313.31 107.92,313.34 108.44,313.36 108.97,313.39 109.50,313.41 110.02,313.44 110.55,313.46 111.08,313.48 111.60,313.51 112.13,313.53 112.66,313.55 113.19,313.57 113.71,313.59 114.24,313.61 114.77,313.63 115.29,313.65 115.82,313.67 116.35,313.69 116.87,313.71 117.40,313.73 117.93,313.75 118.45,313.77 118.98,313.78 119.51,313.80 120.04,313.82 120.56,313.83 121.09,313.85 121.62,313.86 122.14,313.88 122.67,313.89 123.20,313.91 123.72,313.92 124.25,313.94 124.78,313.95 125.31,313.96 125.83,313.98 126.36,313.99 126.89,314.00 127.41,314.01 127.94,314.02 128.47,314.04 129.00,314.05 129.52,314.06 130.05,314.07 130.58,314.08 131.10,314.09 131.63,314.10 132.16,314.11 132.68,314.12 133.21,314.12 133.74,314.13 134.26,314.14 134.79,314.15 135.32,314.16 135.85,314.16 136.37,314.17 136.90,314.18 137.43,314.19 137.95,314.19 138.48,314.20 139.01,314.20 139.53,314.21 140.06,314.22 140.59,314.22 141.12,314.23 141.64,314.23 142.17,314.24 142.70,314.24 143.22,314.24 143.75,314.25 144.28,314.25 144.81,314.26 145.33,314.26 145.86,314.26 146.39,314.27 146.91,314.27 147.44,314.27 147.97,314.27 148.49,314.28 149.02,314.28 149.55,314.28 150.07,314.28 150.60,314.29 151.13,314.29 151.66,314.29 152.18,314.29 152.71,314.29 153.24,314.29 153.76,314.29 154.29,314.30 154.82,314.30 155.34,314.30 155.87,314.30 156.40,314.30 156.93,314.30 157.45,314.30 157.98,314.30 158.51,314.30 159.03,314.30 159.56,314.30 160.09,314.30 160.62,314.30 161.14,314.30 161.67,314.30 162.20,314.30 162.72,314.30 163.25,314.30 163.78,314.30 164.30,314.30 164.83,314.30 165.36,314.30 165.88,314.30 166.41,314.30 166.94,314.30 167.47,314.30 167.99,314.30 168.52,314.30"/>
<polyline points="35.72,312.49 36.24,312.48 36.77,312.45 37.30,312.38 37.82,312.30 38.35,312.19 38.88,312.07 39.41,311.92 39.93,311.75 40.46,311.56 40.99,311.36 41.51,311.14 42.04,310.90 42.57,310.64 43.09,310.37 43.62,310.09 44.15,309.79 44.67,309.48 45.20,309.16 45.73,308.83 46.26,308.48 46.78,308.13 47.31,307.77 47.84,307.40 48.36,307.02 48.89,306.64 49.42,306.25 49.95,305.86 50.47,305.46 51.00,305.06 51.53,304.59 52.05,304.06 52.58,303.47 53.11,302.82 53.63,302.12 54.16,301.38 54.69,300.60 55.22,299.78 55.74,298.92 56.27,298.04 56.80,297.12 57.32,296.19 57.85,295.24 58.38,294.28 58.90,293.31 59.43,292.33 59.96,291.35 60.48,290.38 61.01,289.41 61.54,288.38 62.07,287.27 62.59,286.10 63.12,284.91 63.65,283.69 64.17,282.48 64.70,281.28 65.23,280.12 65.75,279.02 66.28,277.99 66.81,276.89 67.34,275.70 67.86,274.51 68.39,273.40 68.92,272.46 69.44,271.76 69.97,271.40 70.50,271.44 71.03,271.81 71.55,272.42 72.08,273.22 72.61,274.12 73.13,275.05 73.66,275.94 74.19,276.72 74.71,277.51 75.24,278.34 75.77,279.19 76.30,280.06 76.82,280.93 77.35,281.80 77.88,282.65 78.40,283.48 78.93,284.26 79.46,285.00 79.98,285.71 80.51,286.47 81.04,287.26 81.56,288.06 82.09,288.84 82.62,289.59 83.15,290.28 83.67,290.89 84.20,291.39 84.73,291.76 85.25,291.99 85.78,292.03 86.31,291.81 86.84,291.34 87.36,290.68 87.89,289.88 88.42,289.01 88.94,288.12 89.47,287.27 90.00,286.53 90.52,285.95 91.05,285.58 91.58,285.50 92.10,285.81 92.63,286.46 93.16,287.36 93.69,288.42 94.21,289.54 94.74,290.61 95.27,291.55 95.79,292.46 96.32,293.41 96.85,294.39 97.38,295.40 97.90,296.42 98.43,297.45 98.96,298.47 99.48,299.47 100.01,300.45 100.54,301.41 101.06,302.31 101.59,303.17 102.12,303.97 102.64,304.70 103.17,305.37 103.70,306.04 104.23,306.73 104.75,307.41 105.28,308.08 105.81,308.73 106.33,309.36 106.86,309.96 107.39,310.51 107.92,311.00 108.44,311.44 108.97,311.81 109.50,312.11 110.02,312.32 110.55,312.43 111.08,312.49 111.60,312.55 112.13,312.61 112.66,312.67 113.19,312.72 113.71,312.78 114.24,312.83 114.77,312.88 115.29,312.93 115.82,312.98 116.35,313.03 116.87,313.08 117.40,313.12 117.93,313.17 118.45,313.21 118.98,313.26 119.51,313.30 120.04,313.34 120.56,313.38 121.09,313.42 121.62,313.46 122.14,313.49 122.67,313.53 123.20,313.56 123.72,313.60 124.25,313.63 124.78,313.66 125.31,313.69 125.83,313.72 126.36,313.75 126.89,313.78 127.41,313.81 127.94,313.84 128.47,313.86 129.00,313.89 129.52,313.91 130.05,313.93 130.58,313.96 131.10,313.98 131.63,314.00 132.16,314.02 132.68,314.04 133.21,314.05 133.74,314.07 134.26,314.09 134.79,314.11 135.32,314.12 135.85,314.14 136.37,314.15 136.90,314.16 137.43,314.17 137.95,314.19 138.48,314.20 139.01,314.21 139.53,314.22 140.06,314.23 140.59,314.24 141.12,314.24 141.64,314.25 142.17,314.26 142.70,314.27 143.22,314.27 143.75,314.28 144.28,314.28 144.81,314.28 145.33,314.29 145.86,314.29 146.39,314.29 146.91,314.30 147.44,314.30 147.97,314.30 148.49,314.30 149.02,314.30 149.55,314.30 150.07,314.30 150.60,314.30 151.13,314.30 151.66,314.30 152.18,314.30 152.71,314.30 153.24,314.30 153.76,314.30 154.29,314.30 154.82,314.30 155.34,314.30 155.87,314.30 156.40,314.30 156.93,314.30 157.45,314.30 157.98,314.30 158.51,314.30 159.03,314.30 159.56,314.30 160.09,314.30 160.62,314.30 161.14,314.30 161.67,314.30 162.20,314.30 162.72,314.30 163.25,314.30 163.78,314.30 164.30,314.30 164.83,314.30 165.36,314.30 165.88,314.30 166.41,314.30 166.94,314.30 167.47,314.30 167.99,314.30 168.52,314.30"/>
<polyline points="35.72,312.02 36.24,312.00 36.77,311.96 37.30,311.88 37.82,311.78 38.35,311.65 38.88,311.49 39.41,311.31 39.93,311.10 40.46,310.88 40.99,310.62 41.51,310.35 42.04,310.06 42.57,309.74 43.09,309.41 43.62,309.06 44.15,308.70 44.67,308.32 45.20,307.92 45.73,307.51 46.26,307.09 46.78,306.66 47.31,306.21 47.84,305.76 48.36,305.30 48.89,304.82 49.42,304.35 49.95,303.86 50.47,303.38 51.00,302.88 51.53,302.35 52.05,301.74 52.58,301.05 53.11,300.30 53.63,299.49 54.16,298.62 54.69,297.69 55.22,296.72 55.74,295.70 56.27,294.64 56.80,293.55 57.32,292.43 57.85,291.29 58.38,290.13 58.90,288.95 59.43,287.77 59.96,286.57 60.48,285.38 61.01,284.20 61.54,283.02 62.07,281.80 62.59,280.49 63.12,279.11 63.65,277.69 64.17,276.23 64.70,274.77 65.23,273.33 65.75,271.91 66.28,270.54 66.81,269.25 67.34,268.01 67.86,266.64 68.39,265.20 68.92,263.77 69.44,262.45 69.97,261.32 70.50,260.48 71.03,260.02 71.55,260.01 72.08,260.41 72.61,261.12 73.13,262.05 73.66,263.13 74.19,264.27 74.71,265.37 75.24,266.35 75.77,267.27 76.30,268.21 76.82,269.19 77.35,270.18 77.88,271.18 78.40,272.19 78.93,273.18 79.46,274.16 79.98,275.12 80.51,276.04 81.04,276.93 81.56,277.77 82.09,278.61 82.62,279.51 83.15,280.44 83.67,281.38 84.20,282.31 84.73,283.22 85.25,284.07 85.78,284.84 86.31,285.53 86.84,286.10 87.36,286.53 87.89,286.80 88.42,286.90 88.94,286.67 89.47,286.04 90.00,285.12 90.52,284.04 91.05,282.91 91.58,281.83 92.10,280.91 92.63,280.28 93.16,280.05 93.69,280.25 94.21,280.79 94.74,281.61 95.27,282.61 95.79,283.71 96.32,284.85 96.85,285.94 97.38,286.90 97.90,287.78 98.43,288.69 98.96,289.62 99.48,290.56 100.01,291.51 100.54,292.47 101.06,293.43 101.59,294.39 102.12,295.35 102.64,296.29 103.17,297.21 103.70,298.12 104.23,299.00 104.75,299.85 105.28,300.67 105.81,301.45 106.33,302.19 106.86,302.88 107.39,303.56 107.92,304.25 108.44,304.95 108.97,305.65 109.50,306.35 110.02,307.04 110.55,307.71 111.08,308.35 111.60,308.96 112.13,309.54 112.66,310.08 113.19,310.56 113.71,310.99 114.24,311.36 114.77,311.65 115.29,311.88 115.82,312.02 116.35,312.11 116.87,312.21 117.40,312.30 117.93,312.39 118.45,312.48 118.98,312.56 119.51,312.64 120.04,312.72 120.56,312.80 121.09,312.88 121.62,312.95 122.14,313.03 122.67,313.10 123.20,313.16 123.72,313.23 124.25,313.29 124.78,313.35 125.31,313.41 125.83,313.47 126.36,313.52 126.89,313.58 127.41,313.63 127.94,313.68 128.47,313.72 129.00,313.77 129.52,313.81 130.05,313.85 130.58,313.89 131.10,313.93 131.63,313.97 132.16,314.00 132.68,314.03 133.21,314.06 133.74,314.09 134.26,314.11 134.79,314.14 135.32,314.16 135.85,314.18 136.37,314.20 136.90,314.22 137.43,314.23 137.95,314.25 138.48,314.26 139.01,314.27 139.53,314.28 140.06,314.29 140.59,314.29 141.12,314.30 141.64,314.30 142.17,314.30 142.70,314.30 143.22,314.30 143.75,314.30 144.28,314.30 144.81,314.30 145.33,314.30 145.86,314.30 146.39,314.30 146.91,314.30 147.44,314.30 147.97,314.30 148.49,314.30 149.02,314.30 149.55,314.30 150.07,314.30 150.60,314.30 151.13,314.30 151.66,314.30 152.18,314.30 152.71,314.30 153.24,314.30 153.76,314.30 154.29,314.30 154.82,314.30 155.34,314.30 155.87,314.30 156.40,314.30 156.93,314.30 157.45,314.30 157.98,314.30 158.51,314.30 159.03,314.30 159.56,314.30 160.09,314.30 160.62,314.30 161.14,314.30 161.67,314.30 162.20,314.30 162.72,314.30 163.25,314.30 163.78,314.30 164.30,314.30 164.83,314.30 165.36,314.30 165.88,314.30 166.41,314.30 166.94,314.30 167.47,314.30 167.99,314.30 168.52,314.30"/>
<polyline points="35.72,311.73 36.24,311.67 36.77,311.58 37.30,311.46 37.82,311.30 38.35,311.11 38.88,310.89 39.41,310.65 39.93,310.37 40.46,310.07 40.99,309.75 41.51,309.41 42.04,309.04 42.57,308.65 43.09,308.25 43.62,307.83 44.15,307.39 44.67,306.95 45.20,306.49 45.73,306.02 46.26,305.54 46.78,305.05 47.31,304.56 47.84,304.06 48.36,303.56 48.89,303.03 49.42,302.44 49.95,301.80 50.47,301.11 51.00,300.37 51.53,299.58 52.05,298.76 52.58,297.89 53.11,296.99 53.63,296.05 54.16,295.08 54.69,294.09 55.22,293.07 55.74,292.02 56.27,290.96 56.80,289.88 57.32,288.78 57.85,287.67 58.38,286.55 58.90,285.43 59.43,284.30 59.96,283.17 60.48,282.01 61.01,280.78 61.54,279.48 62.07,278.13 62.59,276.74 63.12,275.31 63.65,273.85 64.17,272.38 64.70,270.91 65.23,269.44 65.75,267.99 66.28,266.56 66.81,265.17 67.34,263.80 67.86,262.30 68.39,260.66 68.92,258.94 69.44,257.21 69.97,255.55 70.50,254.00 71.03,252.65 71.55,251.56 72.08,250.78 72.61,250.40 73.13,250.44 73.66,250.81 74.19,251.46 74.71,252.30 75.24,253.28 75.77,254.34 76.30,255.41 76.82,256.43 77.35,257.37 77.88,258.35 78.40,259.40 78.93,260.49 79.46,261.61 79.98,262.76 80.51,263.92 81.04,265.07 81.56,266.21 82.09,267.33 82.62,268.40 83.15,269.42 83.67,270.38 84.20,271.32 84.73,272.32 85.25,273.37 85.78,274.43 86.31,275.47 86.84,276.47 87.36,277.39 87.89,278.22 88.42,278.92 88.94,279.47 89.47,279.84 90.00,279.99 90.52,279.84 91.05,279.28 91.58,278.43 92.10,277.44 92.63,276.42 93.16,275.49 93.69,274.80 94.21,274.47 94.74,274.57 95.27,275.01 95.79,275.73 96.32,276.65 96.85,277.72 97.38,278.86 97.90,280.02 98.43,281.11 98.96,282.08 99.48,283.02 100.01,283.98 100.54,284.97 101.06,285.98 101.59,287.00 102.12,288.03 102.64,289.07 103.17,290.11 103.70,291.14 104.23,292.17 104.75,293.18 105.28,294.18 105.81,295.15 106.33,296.09 106.86,297.00 107.39,297.87 107.92,298.71 108.44,299.51 108.97,300.34 109.50,301.19 110.02,302.05 110.55,302.91 111.08,303.76 111.60,304.60 112.13,305.42 112.66,306.21 113.19,306.96 113.71,307.66 114.24,308.31 114.77,308.90 115.29,309.41 115.82,309.85 116.35,310.21 116.87,310.46 117.40,310.63 117.93,310.78 118.45,310.93 118.98,311.07 119.51,311.21 120.04,311.35 120.56,311.48 121.09,311.61 121.62,311.74 122.14,311.86 122.67,311.98 123.20,312.10 123.72,312.21 124.25,312.33 124.78,312.43 125.31,312.54 125.83,312.64 126.36,312.74 126.89,312.83 127.41,312.92 127.94,313.01 128.47,313.10 129.00,313.18 129.52,313.26 130.05,313.34 130.58,313.41 131.10,313.48 131.63,313.55 132.16,313.61 132.68,313.67 133.21,313.73 133.74,313.79 134.26,313.84 134.79,313.89 135.32,313.94 135.85,313.98 136.37,314.02 136.90,314.06 137.43,314.10 137.95,314.13 138.48,314.16 139.01,314.18 139.53,314.21 140.06,314.23 140.59,314.25 141.12,314.26 141.64,314.28 142.17,314.29 142.70,314.29 143.22,314.30 143.75,314.30 144.28,314.30 144.81,314.30 145.33,314.30 145.86,314.30 146.39,314.30 146.91,314.30 147.44,314.30 147.97,314.30 148.49,314.30 149.02,314.30 149.55,314.30 150.07,314.30 150.60,314.30 151.13,314.30 151.66,314.30 152.18,314.30 152.71,314.30 153.24,314.30 153.76,314.30 154.29,314.30 154.82,314.30 155.34,314.30 155.87,314.30 156.40,314.30 156.93,314.30 157.45,314.30 157.98,314.30 158.51,314.30 159.03,314.30 159.56,314.30 160.09,314.30 160.62,314.30 161.14,314.30 161.67,314.30 162.20,314.30 162.72,314.30 163.25,314.30 163.78,314.30 164.30,314.30 164.83,314.30 165.36,314.30 165.88,314.30 166.41,314.30 166.94,314.30 167.47,314.30 167.99,314.30 168.52,314.30"/>
<polyline points="35.72,311.48 36.24,311.33 36.77,311.14 37.30,310.93 37.82,310.68 38.35,310.41 38.88,310.11 39.41,309.79 39.93,309.45 40.46,309.09 40.99,308.70 41.51,308.30 42.04,307.88 42.57,307.44 43.09,306.99 43.62,306.52 44.15,306.05 44.67,305.56 45.20,305.06 45.73,304.56 46.26,304.04 46.78,303.49 47.31,302.90 47.84,302.27 48.36,301.61 48.89,300.90 49.42,300.17 49.95,299.40 50.47,298.59 51.00,297.76 51.53,296.90 52.05,296.01 52.58,295.10 53.11,294.16 53.63,293.21 54.16,292.23 54.69,291.23 55.22,290.21 55.74,289.18 56.27,288.14 56.80,287.08 57.32,286.01 57.85,284.93 58.38,283.84 58.90,282.74 59.43,281.59 59.96,280.38 60.48,279.11 61.01,277.78 61.54,276.41 62.07,275.01 62.59,273.57 63.12,272.11 63.65,270.63 64.17,269.14 64.70,267.64 65.23,266.15 65.75,264.67 66.28,263.20 66.81,261.76 67.34,260.34 67.86,258.80 68.39,257.10 68.92,255.29 69.44,253.42 69.97,251.55 70.50,249.72 71.03,247.98 71.55,246.39 72.08,245.00 72.61,243.85 73.13,243.00 73.66,242.49 74.19,242.38 74.71,242.61 75.24,243.09 75.77,243.79 76.30,244.64 76.82,245.60 77.35,246.62 77.88,247.65 78.40,248.64 78.93,249.59 79.46,250.60 79.98,251.70 80.51,252.87 81.04,254.08 81.56,255.34 82.09,256.61 82.62,257.89 83.15,259.16 83.67,260.40 84.20,261.61 84.73,262.77 85.25,263.85 85.78,264.87 86.31,265.95 86.84,267.09 87.36,268.26 87.89,269.41 88.42,270.52 88.94,271.55 89.47,272.47 90.00,273.23 90.52,273.80 91.05,274.15 91.58,274.24 92.10,273.94 92.63,273.29 93.16,272.44 93.69,271.53 94.21,270.69 94.74,270.06 95.27,269.80 95.79,269.94 96.32,270.40 96.85,271.12 97.38,272.04 97.90,273.10 98.43,274.24 98.96,275.41 99.48,276.55 100.01,277.60 100.54,278.57 101.06,279.56 101.59,280.59 102.12,281.65 102.64,282.74 103.17,283.83 103.70,284.94 104.23,286.06 104.75,287.18 105.28,288.29 105.81,289.39 106.33,290.47 106.86,291.54 107.39,292.58 107.92,293.59 108.44,294.56 108.97,295.48 109.50,296.40 110.02,297.35 110.55,298.32 111.08,299.30 111.60,300.29 112.13,301.28 112.66,302.25 113.19,303.20 113.71,304.11 114.24,304.99 114.77,305.81 115.29,306.58 115.82,307.28 116.35,307.89 116.87,308.43 117.40,308.86 117.93,309.19 118.45,309.42 118.98,309.61 119.51,309.80 120.04,309.99 120.56,310.17 121.09,310.35 121.62,310.52 122.14,310.69 122.67,310.86 123.20,311.02 123.72,311.17 124.25,311.33 124.78,311.48 125.31,311.62 125.83,311.76 126.36,311.90 126.89,312.04 127.41,312.17 127.94,312.29 128.47,312.41 129.00,312.53 129.52,312.65 130.05,312.76 130.58,312.86 131.10,312.97 131.63,313.06 132.16,313.16 132.68,313.25 133.21,313.34 133.74,313.42 134.26,313.50 134.79,313.57 135.32,313.65 135.85,313.71 136.37,313.78 136.90,313.84 137.43,313.90 137.95,313.95 138.48,314.00 139.01,314.04 139.53,314.09 140.06,314.12 140.59,314.16 141.12,314.19 141.64,314.21 142.17,314.24 142.70,314.26 143.22,314.27 143.75,314.29 144.28,314.29 144.81,314.30 145.33,314.30 145.86,314.30 146.39,314.30 146.91,314.30 147.44,314.30 147.97,314.30 148.49,314.30 149.02,314.30 149.55,314.30 150.07,314.30 150.60,314.30 151.13,314.30 151.66,314.30 152.18,314.30 152.71,314.30 153.24,314.30 153.76,314.30 154.29,314.30 154.82,314.30 155.34,314.30 155.87,314.30 156.40,314.30 156.93,314.30 157.45,314.30 157.98,314.30 158.51,314.30 159.03,314.30 159.56,314.30 160.09,314.30 160.62,314.30 161.14,314.30 161.67,314.30 162.20,314.30 162.72,314.30 163.25,314.30 163.78,314.30 164.30,314.30 164.83,314.30 165.36,314.30 165.88,314.30 166.41,314.30 166.94,314.30 167.47,314.30 167.99,314.30 168.52,314.30"/>
<polyline points="35.72,311.28 36.24,311.02 36.77,310.75 37.30,310.44 37.82,310.12 38.35,309.77 38.88,309.40 39.41,309.01 39.93,308.61 40.46,308.18 40.99,307.73 41.51,307.27 42.04,306.80 42.57,306.30 43.09,305.80 43.62,305.28 44.15,304.75 44.67,304.20 45.20,303.62 45.73,303.01 46.26,302.37 46.78,301.71 47.31,301.01 47.84,300.29 48.36,299.55 48.89,298.78 49.42,297.99 49.95,297.17 50.47,296.33 51.00,295.47 51.53,294.59 52.05,293.69 52.58,292.77 53.11,291.84 53.63,290.88 54.16,289.91 54.69,288.92 55.22,287.92 55.74,286.90 56.27,285.87 56.80,284.83 57.32,283.77 57.85,282.70 58.38,281.58 58.90,280.39 59.43,279.15 59.96,277.86 60.48,276.53 61.01,275.15 61.54,273.74 62.07,272.29 62.59,270.83 63.12,269.34 63.65,267.84 64.17,266.33 64.70,264.82 65.23,263.31 65.75,261.81 66.28,260.31 66.81,258.84 67.34,257.39 67.86,255.84 68.39,254.12 68.92,252.28 69.44,250.35 69.97,248.39 70.50,246.43 71.03,244.50 71.55,242.66 72.08,240.95 72.61,239.39 73.13,238.05 73.66,236.95 74.19,236.13 74.71,235.65 75.24,235.53 75.77,235.72 76.30,236.15 76.82,236.78 77.35,237.56 77.88,238.45 78.40,239.42 78.93,240.42 79.46,241.42 79.98,242.37 80.51,243.35 81.04,244.44 81.56,245.61 82.09,246.86 82.62,248.16 83.15,249.51 83.67,250.88 84.20,252.25 84.73,253.62 85.25,254.96 85.78,256.26 86.31,257.50 86.84,258.67 87.36,259.77 87.89,260.95 88.42,262.20 88.94,263.47 89.47,264.72 90.00,265.91 90.52,266.99 91.05,267.91 91.58,268.64 92.10,269.12 92.63,269.31 93.16,269.14 93.69,268.61 94.21,267.87 94.74,267.07 95.27,266.37 95.79,265.90 96.32,265.82 96.85,266.08 97.38,266.63 97.90,267.41 98.43,268.37 98.96,269.45 99.48,270.61 100.01,271.79 100.54,272.94 101.06,274.02 101.59,275.02 102.12,276.05 102.64,277.13 103.17,278.24 103.70,279.39 104.23,280.55 104.75,281.73 105.28,282.92 105.81,284.11 106.33,285.30 106.86,286.48 107.39,287.65 107.92,288.79 108.44,289.90 108.97,290.99 109.50,292.03 110.02,293.03 110.55,294.05 111.08,295.10 111.60,296.18 112.13,297.28 112.66,298.38 113.19,299.47 113.71,300.54 114.24,301.59 114.77,302.60 115.29,303.57 115.82,304.48 116.35,305.32 116.87,306.09 117.40,306.77 117.93,307.35 118.45,307.83 118.98,308.19 119.51,308.43 120.04,308.66 120.56,308.89 121.09,309.11 121.62,309.32 122.14,309.53 122.67,309.74 123.20,309.94 123.72,310.14 124.25,310.33 124.78,310.52 125.31,310.70 125.83,310.88 126.36,311.05 126.89,311.22 127.41,311.39 127.94,311.55 128.47,311.70 129.00,311.85 129.52,312.00 130.05,312.14 130.58,312.28 131.10,312.41 131.63,312.54 132.16,312.66 132.68,312.78 133.21,312.90 133.74,313.01 134.26,313.11 134.79,313.21 135.32,313.31 135.85,313.40 136.37,313.49 136.90,313.57 137.43,313.65 137.95,313.72 138.48,313.79 139.01,313.86 139.53,313.92 140.06,313.98 140.59,314.03 141.12,314.07 141.64,314.12 142.17,314.15 142.70,314.19 143.22,314.22 143.75,314.24 144.28,314.26 144.81,314.28 145.33,314.29 145.86,314.30 146.39,314.30 146.91,314.30 147.44,314.30 147.97,314.30 148.49,314.30 149.02,314.30 149.55,314.30 150.07,314.30 150.60,314.30 151.13,314.30 151.66,314.30 152.18,314.30 152.71,314.30 153.24,314.30 153.76,314.30 154.29,314.30 154.82,314.30 155.34,314.30 155.87,314.30 156.40,314.30 156.93,314.30 157.45,314.30 157.98,314.30 158.51,314.30 159.03,314.30 159.56,314.30 160.09,314.30 160.62,314.30 161.14,314.30 161.67,314.30 162.20,314.30 162.72,314.30 163.25,314.30 163.78,314.30 164.30,314.30 164.83,314.30 165.36,314.30 165.88,314.30 166.41,314.30 166.94,314.30 167.47,314.30 167.99,314.30 168.52,314.30"/>
<polyline points="35.72,311.10 36.24,310.76 36.77,310.39 37.30,310.00 37.82,309.60 38.35,309.18 38.88,308.73 39.41,308.28 39.93,307.80 40.46,307.31 40.99,306.80 41.51,306.27 42.04,305.73 42.57,305.17 43.09,304.59 43.62,303.99 44.15,303.37 44.67,302.73 45.20,302.08 45.73,301.40 46.26,300.70 46.78,299.99 47.31,299.25 47.84,298.50 48.36,297.73 48.89,296.94 49.42,296.13 49.95,295.30 50.47,294.46 51.00,293.60 51.53,292.72 52.05,291.82 52.58,290.91 53.11,289.98 53.63,289.03 54.16,288.07 54.69,287.09 55.22,286.10 55.74,285.09 56.27,284.06 56.80,283.02 57.32,281.94 57.85,280.80 58.38,279.60 58.90,278.35 59.43,277.05 59.96,275.71 60.48,274.33 61.01,272.92 61.54,271.48 62.07,270.01 62.59,268.52 63.12,267.02 63.65,265.50 64.17,263.98 64.70,262.45 65.23,260.93 65.75,259.41 66.28,257.90 66.81,256.41 67.34,254.93 67.86,253.38 68.39,251.66 68.92,249.81 69.44,247.86 69.97,245.86 70.50,243.83 71.03,241.81 71.55,239.84 72.08,237.95 72.61,236.17 73.13,234.54 73.66,233.10 74.19,231.87 74.71,230.90 75.24,230.22 75.77,229.86 76.30,229.85 76.82,230.09 77.35,230.55 77.88,231.18 78.40,231.95 78.93,232.82 79.46,233.77 79.98,234.75 80.51,235.72 81.04,236.67 81.56,237.64 82.09,238.74 82.62,239.94 83.15,241.22 83.67,242.57 84.20,243.96 84.73,245.40 85.25,246.85 85.78,248.29 86.31,249.73 86.84,251.12 87.36,252.47 87.89,253.74 88.42,254.93 88.94,256.15 89.47,257.46 90.00,258.83 90.52,260.19 91.05,261.50 91.58,262.69 92.10,263.71 92.63,264.51 93.16,265.02 93.69,265.21 94.21,265.01 94.74,264.50 95.27,263.84 95.79,263.18 96.32,262.67 96.85,262.47 97.38,262.63 97.90,263.07 98.43,263.76 98.96,264.64 99.48,265.66 100.01,266.79 100.54,267.97 101.06,269.16 101.59,270.31 102.12,271.37 102.64,272.41 103.17,273.50 103.70,274.63 104.23,275.80 104.75,277.01 105.28,278.24 105.81,279.49 106.33,280.75 106.86,282.01 107.39,283.26 107.92,284.51 108.44,285.74 108.97,286.94 109.50,288.11 110.02,289.24 110.55,290.32 111.08,291.41 111.60,292.53 112.13,293.69 112.66,294.86 113.19,296.05 113.71,297.23 114.24,298.41 114.77,299.56 115.29,300.67 115.82,301.75 116.35,302.76 116.87,303.72 117.40,304.59 117.93,305.38 118.45,306.07 118.98,306.65 119.51,307.12 120.04,307.45 120.56,307.71 121.09,307.97 121.62,308.22 122.14,308.46 122.67,308.71 123.20,308.94 123.72,309.17 124.25,309.40 124.78,309.62 125.31,309.83 125.83,310.04 126.36,310.25 126.89,310.45 127.41,310.64 127.94,310.83 128.47,311.02 129.00,311.20 129.52,311.37 130.05,311.54 130.58,311.71 131.10,311.87 131.63,312.02 132.16,312.17 132.68,312.32 133.21,312.46 133.74,312.59 134.26,312.72 134.79,312.84 135.32,312.96 135.85,313.08 136.37,313.18 136.90,313.29 137.43,313.39 137.95,313.48 138.48,313.57 139.01,313.65 139.53,313.73 140.06,313.80 140.59,313.87 141.12,313.94 141.64,313.99 142.17,314.05 142.70,314.10 143.22,314.14 143.75,314.18 144.28,314.21 144.81,314.24 145.33,314.26 145.86,314.28 146.39,314.29 146.91,314.30 147.44,314.30 147.97,314.30 148.49,314.30 149.02,314.30 149.55,314.30 150.07,314.30 150.60,314.30 151.13,314.30 151.66,314.30 152.18,314.30 152.71,314.30 153.24,314.30 153.76,314.30 154.29,314.30 154.82,314.30 155.34,314.30 155.87,314.30 156.40,314.30 156.93,314.30 157.45,314.30 157.98,314.30 158.51,314.30 159.03,314.30 159.56,314.30 160.09,314.30 160.62,314.30 161.14,314.30 161.67,314.30 162.20,314.30 162.72,314.30 163.25,314.30 163.78,314.30 164.30,314.30 164.83,314.30 165.36,314.30 165.88,314.30 166.41,314.30 166.94,314.30 167.47,314.30 167.99,314.30 168.52,314.30"/>
<polyline points="35.72,310.71 36.24,310.29 36.77,309.86 37.30,309.41 37.82,308.95 38.35,308.46 38.88,307.96 39.41,307.45 39.93,306.92 40.46,306.36 40.99,305.80 41.51,305.21 42.04,304.60 42.57,303.98 43.09,303.35 43.62,302.70 44.15,302.04 44.67,301.37 45.20,300.67 45.73,299.97 46.26,299.25 46.78,298.51 47.31,297.76 47.84,296.99 48.36,296.20 48.89,295.40 49.42,294.58 49.95,293.74 50.47,292.89 51.00,292.01 51.53,291.12 52.05,290.21 52.58,289.29 53.11,288.34 53.63,287.38 54.16,286.39 54.69,285.39 55.22,284.36 55.74,283.32 56.27,282.24 56.80,281.09 57.32,279.88 57.85,278.61 58.38,277.27 58.90,275.89 59.43,274.47 59.96,273.00 60.48,271.50 61.01,269.96 61.54,268.41 62.07,266.83 62.59,265.25 63.12,263.65 63.65,262.05 64.17,260.46 64.70,258.87 65.23,257.29 65.75,255.74 66.28,254.20 66.81,252.70 67.34,251.20 67.86,249.56 68.39,247.81 68.92,245.95 69.44,244.03 69.97,242.07 70.50,240.10 71.03,238.14 71.55,236.22 72.08,234.37 72.61,232.61 73.13,230.98 73.66,229.50 74.19,228.19 74.71,227.09 75.24,226.23 75.77,225.62 76.30,225.30 76.82,225.28 77.35,225.49 77.88,225.89 78.40,226.44 78.93,227.13 79.46,227.91 79.98,228.75 80.51,229.62 81.04,230.49 81.56,231.33 82.09,232.17 82.62,233.08 83.15,234.06 83.67,235.11 84.20,236.20 84.73,237.35 85.25,238.53 85.78,239.74 86.31,240.97 86.84,242.22 87.36,243.47 87.89,244.72 88.42,245.96 88.94,247.19 89.47,248.39 90.00,249.56 90.52,250.81 91.05,252.15 91.58,253.53 92.10,254.91 92.63,256.23 93.16,257.43 93.69,258.47 94.21,259.30 94.74,259.86 95.27,260.26 95.79,260.56 96.32,260.82 96.85,261.12 97.38,261.49 97.90,261.99 98.43,262.58 98.96,263.27 99.48,264.04 100.01,264.87 100.54,265.75 101.06,266.66 101.59,267.61 102.12,268.57 102.64,269.52 103.17,270.47 103.70,271.45 104.23,272.49 104.75,273.57 105.28,274.68 105.81,275.83 106.33,277.00 106.86,278.19 107.39,279.39 107.92,280.59 108.44,281.80 108.97,283.00 109.50,284.18 110.02,285.35 110.55,286.49 111.08,287.60 111.60,288.67 112.13,289.78 112.66,290.93 113.19,292.13 113.71,293.34 114.24,294.57 114.77,295.81 115.29,297.03 115.82,298.24 116.35,299.41 116.87,300.54 117.40,301.62 117.93,302.64 118.45,303.57 118.98,304.42 119.51,305.17 120.04,305.81 120.56,306.33 121.09,306.71 121.62,306.99 122.14,307.26 122.67,307.52 123.20,307.78 123.72,308.03 124.25,308.27 124.78,308.51 125.31,308.75 125.83,308.98 126.36,309.21 126.89,309.43 127.41,309.65 127.94,309.86 128.47,310.07 129.00,310.27 129.52,310.46 130.05,310.66 130.58,310.84 131.10,311.02 131.63,311.20 132.16,311.37 132.68,311.54 133.21,311.70 133.74,311.86 134.26,312.01 134.79,312.16 135.32,312.30 135.85,312.44 136.37,312.57 136.90,312.70 137.43,312.82 137.95,312.94 138.48,313.05 139.01,313.16 139.53,313.26 140.06,313.36 140.59,313.45 141.12,313.54 141.64,313.62 142.17,313.70 142.70,313.78 143.22,313.85 143.75,313.91 144.28,313.97 144.81,314.02 145.33,314.07 145.86,314.12 146.39,314.16 146.91,314.19 147.44,314.22 147.97,314.25 148.49,314.27 149.02,314.28 149.55,314.29 150.07,314.30 150.60,314.30 151.13,314.30 151.66,314.30 152.18,314.30 152.71,314.30 153.24,314.30 153.76,314.30 154.29,314.30 154.82,314.30 155.34,314.30 155.87,314.30 156.40,314.30 156.93,314.30 157.45,314.30 157.98,314.30 158.51,314.30 159.03,314.30 159.56,314.30 160.09,314.30 160.62,314.30 161.14,314.30 161.67,314.30 162.20,314.30 162.72,314.30 163.25,314.30 163.78,314.30 164.30,314.30 164.83,314.30 165.36,314.30 165.88,314.30 166.41,314.30 166.94,314.30 167.47,314.30 167.99,314.30 168.52,314.30"/>
<polyline points="35.72,310.42 36.24,309.94 36.77,309.44 37.30,308.93 37.82,308.41 38.35,307.88 38.88,307.32 39.41,306.76 39.93,306.17 40.46,305.56 40.99,304.94 41.51,304.30 42.04,303.65 42.57,303.00 43.09,302.33 43.62,301.66 44.15,300.97 44.67,300.27 45.20,299.57 45.73,298.84 46.26,298.11 46.78,297.36 47.31,296.60 47.84,295.82 48.36,295.03 48.89,294.22 49.42,293.40 49.95,292.55 50.47,291.69 51.00,290.81 51.53,289.91 52.05,288.99 52.58,288.05 53.11,287.09 53.63,286.11 54.16,285.10 54.69,284.07 55.22,283.02 55.74,281.91 56.27,280.73 56.80,279.48 57.32,278.16 57.85,276.78 58.38,275.35 58.90,273.87 59.43,272.35 59.96,270.80 60.48,269.21 61.01,267.60 61.54,265.97 62.07,264.33 62.59,262.68 63.12,261.03 63.65,259.38 64.17,257.74 64.70,256.12 65.23,254.52 65.75,252.95 66.28,251.41 66.81,249.91 67.34,248.36 67.86,246.69 68.39,244.92 68.92,243.07 69.44,241.17 69.97,239.24 70.50,237.30 71.03,235.38 71.55,233.49 72.08,231.67 72.61,229.93 73.13,228.30 73.66,226.80 74.19,225.45 74.71,224.28 75.24,223.32 75.77,222.57 76.30,222.07 76.82,221.84 77.35,221.88 77.88,222.11 78.40,222.51 78.93,223.04 79.46,223.69 79.98,224.41 80.51,225.18 81.04,225.98 81.56,226.77 82.09,227.53 82.62,228.29 83.15,229.11 83.67,229.97 84.20,230.89 84.73,231.84 85.25,232.83 85.78,233.86 86.31,234.92 86.84,236.00 87.36,237.11 87.89,238.24 88.42,239.39 88.94,240.55 89.47,241.71 90.00,242.89 90.52,244.06 91.05,245.23 91.58,246.46 92.10,247.75 92.63,249.09 93.16,250.45 93.69,251.81 94.21,253.14 94.74,254.42 95.27,255.62 95.79,256.76 96.32,257.86 96.85,258.92 97.38,259.93 97.90,260.87 98.43,261.74 98.96,262.55 99.48,263.32 100.01,264.05 100.54,264.76 101.06,265.46 101.59,266.17 102.12,266.90 102.64,267.65 103.17,268.46 103.70,269.32 104.23,270.24 104.75,271.21 105.28,272.23 105.81,273.28 106.33,274.37 106.86,275.49 107.39,276.62 107.92,277.78 108.44,278.94 108.97,280.11 109.50,281.28 110.02,282.44 110.55,283.59 111.08,284.72 111.60,285.82 112.13,286.90 112.66,287.99 113.19,289.14 113.71,290.34 114.24,291.58 114.77,292.83 115.29,294.10 115.82,295.37 116.35,296.62 116.87,297.86 117.40,299.05 117.93,300.20 118.45,301.29 118.98,302.32 119.51,303.25 120.04,304.10 120.56,304.84 121.09,305.46 121.62,305.96 122.14,306.31 122.67,306.58 123.20,306.86 123.72,307.12 124.25,307.38 124.78,307.64 125.31,307.89 125.83,308.14 126.36,308.38 126.89,308.62 127.41,308.85 127.94,309.07 128.47,309.30 129.00,309.51 129.52,309.73 130.05,309.93 130.58,310.14 131.10,310.33 131.63,310.53 132.16,310.71 132.68,310.90 133.21,311.07 133.74,311.25 134.26,311.42 134.79,311.58 135.32,311.74 135.85,311.89 136.37,312.04 136.90,312.19 137.43,312.32 137.95,312.46 138.48,312.59 139.01,312.71 139.53,312.83 140.06,312.95 140.59,313.06 141.12,313.17 141.64,313.27 142.17,313.36 142.70,313.46 143.22,313.54 143.75,313.62 144.28,313.70 144.81,313.77 145.33,313.84 145.86,313.91 146.39,313.96 146.91,314.02 147.44,314.07 147.97,314.11 148.49,314.15 149.02,314.19 149.55,314.22 150.07,314.24 150.60,314.26 151.13,314.28 151.66,314.29 152.18,314.30 152.71,314.30 153.24,314.30 153.76,314.30 154.29,314.30 154.82,314.30 155.34,314.30 155.87,314.30 156.40,314.30 156.93,314.30 157.45,314.30 157.98,314.30 158.51,314.30 159.03,314.30 159.56,314.30 160.09,314.30 160.62,314.30 161.14,314.30 161.67,314.30 162.20,314.30 162.72,314.30 163.25,314.30 163.78,314.30 164.30,314.30 164.83,314.30 165.36,314.30 165.88,314.30 166.41,314.30 166.94,314.30 167.47,314.30 167.99,314.30 168.52,314.30"/>
</g>
<g fill="none" stroke="#303030" stroke-width="1.0">
<polyline points="234.26,314.85 234.78,314.84 235.30,314.83 235.82,314.82 236.34,314.81 236.86,314.80 237.38,314.79 237.89,314.77 238.41,314.76 238.93,314.75 239.45,314.73 239.97,314.72 240.49,314.70 241.01,314.69 241.53,314.67 242.05,314.65 242.57,314.63 243.09,314.62 243.61,314.60 244.13,314.58 244.65,314.56 245.17,314.54 245.69,314.52 246.21,314.50 246.73,314.48 247.25,314.46 247.77,314.43 248.29,314.41 248.81,314.39 249.33,314.37 249.85,314.35 250.37,314.33 250.89,314.30 251.41,314.28 251.93,314.26 252.45,314.24 252.97,314.22 253.48,314.20 254.00,314.18 254.52,314.16 255.04,314.14 255.56,314.12 256.08,314.10 256.60,314.08 257.12,314.07 257.64,314.05 258.16,314.04 258.68,314.02 259.20,314.01 259.72,314.00 260.24,313.98 260.76,313.97 261.28,313.96 261.80,313.95 262.32,313.95 262.84,313.94 263.36,313.94 263.88,313.93 264.40,313.93 264.92,313.93 265.44,313.93 265.96,313.93 266.48,313.93 267.00,313.94 267.52,313.95 268.04,313.96 268.56,313.97 269.07,313.99 269.59,314.01 270.11,314.03 270.63,314.05 271.15,314.07 271.67,314.10 272.19,314.13 272.71,314.16 273.23,314.18 273.75,314.21 274.27,314.24 274.79,314.28 275.31,314.31 275.83,314.34 276.35,314.37 276.87,314.39 277.39,314.42 277.91,314.45 278.43,314.47 278.95,314.50 279.47,314.52 279.99,314.54 280.51,314.55 281.03,314.57 281.55,314.58 282.07,314.59 282.59,314.59 283.11,314.59 283.63,314.58 284.15,314.57 284.66,314.55 285.18,314.53 285.70,314.50 286.22,314.47 286.74,314.43 287.26,314.38 287.78,314.32 288.30,314.26 288.82,314.18 289.34,314.10 289.86,314.01 290.38,313.91 290.90,313.80 291.42,313.68 291.94,313.55 292.46,313.41 292.98,313.27 293.50,313.11 294.02,312.95 294.54,312.77 295.06,312.59 295.58,312.41 296.10,312.22 296.62,312.02 297.14,311.82 297.66,311.62 298.18,311.41 298.70,311.21 299.22,311.01 299.74,310.81 300.25,310.62 300.77,310.44 301.29,310.26 301.81,310.10 302.33,309.94 302.85,309.80 303.37,309.67 303.89,309.56 304.41,309.47 304.93,309.39 305.45,309.33 305.97,309.29 306.49,309.27 307.01,309.27 307.53,309.29 308.05,309.32 308.57,309.38 309.09,309.45 309.61,309.53 310.13,309.63 310.65,309.75 311.17,309.87 311.69,310.01 312.21,310.17 312.73,310.33 313.25,310.50 313.77,310.67 314.29,310.86 314.81,311.04 315.33,311.24 315.85,311.43 316.36,311.62 316.88,311.81 317.40,312.00 317.92,312.19 318.44,312.38 318.96,312.56 319.48,312.73 320.00,312.90 320.52,313.06 321.04,313.22 321.56,313.36 322.08,313.50 322.60,313.64 323.12,313.76 323.64,313.88 324.16,313.99 324.68,314.09 325.20,314.18 325.72,314.27 326.24,314.35 326.76,314.42 327.28,314.48 327.80,314.54 328.32,314.60 328.84,314.65 329.36,314.69 329.88,314.73 330.40,314.77 330.92,314.80 331.44,314.82 331.95,314.85 332.47,314.87 332.99,314.89 333.51,314.90 334.03,314.92 334.55,314.93 335.07,314.94 335.59,314.95 336.11,314.96 336.63,314.97 337.15,314.97 337.67,314.98 338.19,314.98 338.71,314.98 339.23,314.99 339.75,314.99 340.27,314.99 340.79,314.99 341.31,314.99 341.83,314.99 342.35,315.00 342.87,315.00 343.39,315.00 343.91,315.00 344.43,315.00 344.95,315.00 345.47,315.00 345.99,315.00 346.51,315.00 347.02,315.00 347.54,315.00 348.06,315.00 348.58,315.00 349.10,315.00 349.62,315.00 350.14,315.00 350.66,315.00 351.18,315.00 351.70,315.00 352.22,315.00 352.74,315.00 353.26,315.00 353.78,315.00 354.30,315.00 354.82,315.00 355.34,315.00 355.86,315.00 356.38,315.00 356.90,315.00 357.42,315.00 357.94,315.00 358.46,315.00 358.98,315.00 359.50,315.00 360.02,315.00 360.54,315.00 361.06,315.00 361.58,315.00 362.10,315.00 362.62,315.00 363.13,315.00 363.65,315.00 364.17,315.00 364.69,315.00 365.21,315.00"/>
<polyline points="234.26,314.83 234.78,314.82 235.30,314.80 235.82,314.79 236.34,314.78 236.86,314.76 237.38,314.75 237.89,314.73 238.41,314.72 238.93,314.70 239.45,314.68 239.97,314.67 240.49,314.65 241.01,314.63 241.53,314.61 242.05,314.59 242.57,314.57 243.09,314.55 243.61,314.53 244.13,314.50 244.65,314.48 245.17,314.46 245.69,314.43 246.21,314.41 246.73,314.38 247.25,314.36 247.77,314.33 248.29,314.31 248.81,314.28 249.33,314.26 249.85,314.23 250.37,314.21 250.89,314.18 251.41,314.16 251.93,314.13 252.45,314.11 252.97,314.08 253.48,314.06 254.00,314.03 254.52,314.01 255.04,313.99 255.56,313.97 256.08,313.94 256.60,313.92 257.12,313.90 257.64,313.88 258.16,313.87 258.68,313.85 259.20,313.83 259.72,313.82 260.24,313.80 260.76,313.79 261.28,313.78 261.80,313.77 262.32,313.76 262.84,313.75 263.36,313.75 263.88,313.74 264.40,313.74 264.92,313.74 265.44,313.74 265.96,313.74 266.48,313.74 267.00,313.75 267.52,313.76 268.04,313.77 268.56,313.79 269.07,313.81 269.59,313.83 270.11,313.85 270.63,313.88 271.15,313.91 271.67,313.94 272.19,313.97 272.71,314.00 273.23,314.03 273.75,314.07 274.27,314.10 274.79,314.13 275.31,314.17 275.83,314.20 276.35,314.23 276.87,314.26 277.39,314.29 277.91,314.31 278.43,314.34 278.95,314.36 279.47,314.37 279.99,314.38 280.51,314.39 281.03,314.39 281.55,314.39 282.07,314.38 282.59,314.36 283.11,314.33 283.63,314.30 284.15,314.25 284.66,314.20 285.18,314.13 285.70,314.05 286.22,313.96 286.74,313.86 287.26,313.74 287.78,313.61 288.30,313.46 288.82,313.30 289.34,313.11 289.86,312.92 290.38,312.70 290.90,312.47 291.42,312.22 291.94,311.96 292.46,311.67 292.98,311.37 293.50,311.06 294.02,310.73 294.54,310.39 295.06,310.04 295.58,309.68 296.10,309.32 296.62,308.94 297.14,308.57 297.66,308.20 298.18,307.82 298.70,307.46 299.22,307.10 299.74,306.76 300.25,306.43 300.77,306.12 301.29,305.82 301.81,305.56 302.33,305.32 302.85,305.10 303.37,304.92 303.89,304.77 304.41,304.66 304.93,304.58 305.45,304.54 305.97,304.54 306.49,304.57 307.01,304.63 307.53,304.72 308.05,304.84 308.57,305.00 309.09,305.18 309.61,305.38 310.13,305.62 310.65,305.87 311.17,306.15 311.69,306.44 312.21,306.75 312.73,307.07 313.25,307.40 313.77,307.74 314.29,308.09 314.81,308.44 315.33,308.79 315.85,309.14 316.36,309.49 316.88,309.84 317.40,310.17 317.92,310.50 318.44,310.82 318.96,311.13 319.48,311.42 320.00,311.71 320.52,311.98 321.04,312.23 321.56,312.48 322.08,312.70 322.60,312.92 323.12,313.12 323.64,313.30 324.16,313.47 324.68,313.63 325.20,313.78 325.72,313.91 326.24,314.03 326.76,314.14 327.28,314.24 327.80,314.33 328.32,314.41 328.84,314.49 329.36,314.55 329.88,314.61 330.40,314.66 330.92,314.71 331.44,314.75 331.95,314.78 332.47,314.81 332.99,314.84 333.51,314.86 334.03,314.88 334.55,314.90 335.07,314.91 335.59,314.92 336.11,314.94 336.63,314.94 337.15,314.95 337.67,314.96 338.19,314.97 338.71,314.97 339.23,314.97 339.75,314.98 340.27,314.98 340.79,314.98 341.31,314.98 341.83,314.99 342.35,314.99 342.87,314.99 343.39,314.99 343.91,314.99 344.43,314.99 344.95,314.99 345.47,314.99 345.99,314.99 346.51,314.99 347.02,314.99 347.54,314.99 348.06,314.99 348.58,314.99 349.10,314.99 349.62,314.99 350.14,314.99 350.66,314.99 351.18,314.99 351.70,314.99 352.22,315.00 352.74,315.00 353.26,315.00 353.78,315.00 354.30,315.00 354.82,315.00 355.34,315.00 355.86,315.00 356.38,315.00 356.90,315.00 357.42,315.00 357.94,315.00 358.46,315.00 358.98,315.00 359.50,315.00 360.02,315.00 360.54,315.00 361.06,315.00 361.58,315.00 362.10,315.00 362.62,315.00 363.13,315.00 363.65,315.00 364.17,315.00 364.69,315.00 365.21,315.00"/>
<polyline points="234.26,314.80 234.78,314.79 235.30,314.77 235.82,314.76 236.34,314.74 236.86,314.73 237.38,314.71 237.89,314.69 238.41,314.67 238.93,314.65 239.45,314.63 239.97,314.61 240.49,314.59 241.01,314.57 241.53,314.55 242.05,314.52 242.57,314.50 243.09,314.48 243.61,314.45 244.13,314.42 244.65,314.40 245.17,314.37 245.69,314.34 246.21,314.32 246.73,314.29 247.25,314.26 247.77,314.23 248.29,314.20 248.81,314.17 249.33,314.14 249.85,314.11 250.37,314.08 250.89,314.06 251.41,314.03 251.93,314.00 252.45,313.97 252.97,313.94 253.48,313.91 254.00,313.88 254.52,313.86 255.04,313.83 255.56,313.81 256.08,313.78 256.60,313.76 257.12,313.73 257.64,313.71 258.16,313.69 258.68,313.67 259.20,313.65 259.72,313.63 260.24,313.62 260.76,313.60 261.28,313.59 261.80,313.58 262.32,313.57 262.84,313.56 263.36,313.55 263.88,313.55 264.40,313.54 264.92,313.54 265.44,313.54 265.96,313.54 266.48,313.54 267.00,313.55 267.52,313.56 268.04,313.58 268.56,313.60 269.07,313.62 269.59,313.64 270.11,313.67 270.63,313.70 271.15,313.73 271.67,313.76 272.19,313.79 272.71,313.83 273.23,313.87 273.75,313.90 274.27,313.94 274.79,313.97 275.31,314.01 275.83,314.04 276.35,314.07 276.87,314.10 277.39,314.13 277.91,314.15 278.43,314.17 278.95,314.18 279.47,314.18 279.99,314.18 280.51,314.17 281.03,314.16 281.55,314.13 282.07,314.09 282.59,314.05 283.11,313.98 283.63,313.91 284.15,313.82 284.66,313.71 285.18,313.59 285.70,313.45 286.22,313.29 286.74,313.10 287.26,312.90 287.78,312.67 288.30,312.42 288.82,312.15 289.34,311.85 289.86,311.52 290.38,311.17 290.90,310.80 291.42,310.40 291.94,309.97 292.46,309.53 292.98,309.06 293.50,308.57 294.02,308.07 294.54,307.55 295.06,307.02 295.58,306.48 296.10,305.93 296.62,305.38 297.14,304.83 297.66,304.29 298.18,303.76 298.70,303.25 299.22,302.76 299.74,302.29 300.25,301.84 300.77,301.44 301.29,301.07 301.81,300.74 302.33,300.45 302.85,300.22 303.37,300.03 303.89,299.90 304.41,299.82 304.93,299.80 305.45,299.83 305.97,299.91 306.49,300.03 307.01,300.20 307.53,300.41 308.05,300.66 308.57,300.96 309.09,301.28 309.61,301.65 310.13,302.04 310.65,302.46 311.17,302.90 311.69,303.36 312.21,303.84 312.73,304.33 313.25,304.83 313.77,305.34 314.29,305.85 314.81,306.36 315.33,306.86 315.85,307.36 316.36,307.85 316.88,308.33 317.40,308.80 317.92,309.24 318.44,309.68 318.96,310.09 319.48,310.49 320.00,310.86 320.52,311.22 321.04,311.56 321.56,311.87 322.08,312.16 322.60,312.44 323.12,312.69 323.64,312.92 324.16,313.14 324.68,313.34 325.20,313.52 325.72,313.68 326.24,313.83 326.76,313.97 327.28,314.09 327.80,314.19 328.32,314.29 328.84,314.38 329.36,314.46 329.88,314.52 330.40,314.58 330.92,314.64 331.44,314.68 331.95,314.72 332.47,314.76 332.99,314.79 333.51,314.82 334.03,314.84 334.55,314.86 335.07,314.88 335.59,314.89 336.11,314.90 336.63,314.91 337.15,314.92 337.67,314.93 338.19,314.94 338.71,314.94 339.23,314.95 339.75,314.95 340.27,314.96 340.79,314.96 341.31,314.96 341.83,314.96 342.35,314.97 342.87,314.97 343.39,314.97 343.91,314.97 344.43,314.97 344.95,314.97 345.47,314.97 345.99,314.97 346.51,314.97 347.02,314.98 347.54,314.98 348.06,314.98 348.58,314.98 349.10,314.98 349.62,314.98 350.14,314.98 350.66,314.98 351.18,314.98 351.70,314.98 352.22,314.98 352.74,314.98 353.26,314.98 353.78,314.98 354.30,314.98 354.82,314.98 355.34,314.98 355.86,314.98 356.38,314.98 356.90,314.98 357.42,314.98 357.94,314.98 358.46,314.98 358.98,314.99 359.50,314.99 360.02,314.99 360.54,314.99 361.06,314.99 361.58,314.99 362.10,314.99 362.62,314.99 363.13,314.99 363.65,314.99 364.17,314.99 364.69,314.99 365.21,314.99"/>
<polyline points="234.26,314.77 234.78,314.75 235.30,314.74 235.82,314.72 236.34,314.70 236.86,314.68 237.38,314.66 237.89,314.64 238.41,314.62 238.93,314.60 239.45,314.58 239.97,314.56 240.49,314.53 241.01,314.51 241.53,314.48 242.05,314.45 242.57,314.43 243.09,314.40 243.61,314.37 244.13,314.34 244.65,314.31 245.17,314.28 245.69,314.25 246.21,314.22 246.73,314.19 247.25,314.15 247.77,314.12 248.29,314.09 248.81,314.06 249.33,314.02 249.85,313.99 250.37,313.96 250.89,313.92 251.41,313.89 251.93,313.86 252.45,313.82 252.97,313.79 253.48,313.76 254.00,313.73 254.52,313.70 255.04,313.67 255.56,313.64 256.08,313.61 256.60,313.58 257.12,313.56 257.64,313.53 258.16,313.51 258.68,313.48 259.20,313.46 259.72,313.44 260.24,313.42 260.76,313.41 261.28,313.39 261.80,313.38 262.32,313.37 262.84,313.35 263.36,313.35 263.88,313.34 264.40,313.33 264.92,313.33 265.44,313.33 265.96,313.33 266.48,313.33 267.00,313.34 267.52,313.35 268.04,313.37 268.56,313.39 269.07,313.41 269.59,313.44 270.11,313.47 270.63,313.50 271.15,313.53 271.67,313.57 272.19,313.60 272.71,313.64 273.23,313.68 273.75,313.72 274.27,313.75 274.79,313.79 275.31,313.82 275.83,313.86 276.35,313.89 276.87,313.91 277.39,313.93 277.91,313.95 278.43,313.95 278.95,313.95 279.47,313.94 279.99,313.93 280.51,313.90 281.03,313.86 281.55,313.80 282.07,313.73 282.59,313.64 283.11,313.54 283.63,313.41 284.15,313.27 284.66,313.10 285.18,312.90 285.70,312.68 286.22,312.44 286.74,312.16 287.26,311.85 287.78,311.51 288.30,311.14 288.82,310.74 289.34,310.30 289.86,309.83 290.38,309.33 290.90,308.80 291.42,308.23 291.94,307.63 292.46,307.01 292.98,306.36 293.50,305.69 294.02,304.99 294.54,304.29 295.06,303.57 295.58,302.85 296.10,302.12 296.62,301.40 297.14,300.69 297.66,300.00 298.18,299.33 298.70,298.68 299.22,298.07 299.74,297.51 300.25,296.98 300.77,296.51 301.29,296.10 301.81,295.76 302.33,295.48 302.85,295.27 303.37,295.13 303.89,295.07 304.41,295.08 304.93,295.16 305.45,295.30 305.97,295.49 306.49,295.75 307.01,296.06 307.53,296.42 308.05,296.84 308.57,297.30 309.09,297.79 309.61,298.33 310.13,298.90 310.65,299.50 311.17,300.12 311.69,300.75 312.21,301.40 312.73,302.06 313.25,302.73 313.77,303.39 314.29,304.06 314.81,304.71 315.33,305.35 315.85,305.98 316.36,306.60 316.88,307.19 317.40,307.77 317.92,308.32 318.44,308.84 318.96,309.34 319.48,309.82 320.00,310.26 320.52,310.68 321.04,311.08 321.56,311.45 322.08,311.79 322.60,312.10 323.12,312.39 323.64,312.66 324.16,312.91 324.68,313.13 325.20,313.33 325.72,313.51 326.24,313.68 326.76,313.83 327.28,313.96 327.80,314.08 328.32,314.19 328.84,314.28 329.36,314.37 329.88,314.44 330.40,314.51 330.92,314.56 331.44,314.61 331.95,314.66 332.47,314.69 332.99,314.73 333.51,314.76 334.03,314.78 334.55,314.80 335.07,314.82 335.59,314.84 336.11,314.85 336.63,314.86 337.15,314.87 337.67,314.88 338.19,314.89 338.71,314.90 339.23,314.90 339.75,314.91 340.27,314.91 340.79,314.92 341.31,314.92 341.83,314.92 342.35,314.93 342.87,314.93 343.39,314.93 343.91,314.93 344.43,314.94 344.95,314.94 345.47,314.94 345.99,314.94 346.51,314.94 347.02,314.94 347.54,314.95 348.06,314.95 348.58,314.95 349.10,314.95 349.62,314.95 350.14,314.95 350.66,314.95 351.18,314.95 351.70,314.95 352.22,314.95 352.74,314.96 353.26,314.96 353.78,314.96 354.30,314.96 354.82,314.96 355.34,314.96 355.86,314.96 356.38,314.96 356.90,314.96 357.42,314.96 357.94,314.96 358.46,314.96 358.98,314.96 359.50,314.97 360.02,314.97 360.54,314.97 361.06,314.97 361.58,314.97 362.10,314.97 362.62,314.97 363.13,314.97 363.65,314.97 364.17,314.97 364.69,314.97 365.21,314.97"/>
<polyline points="234.26,314.73 234.78,314.71 235.30,314.70 235.82,314.68 236.34,314.66 236.86,314.64 237.38,314.61 237.89,314.59 238.41,314.57 238.93,314.54 239.45,314.52 239.97,314.49 240.49,314.47 241.01,314.44 241.53,314.41 242.05,314.38 242.57,314.35 243.09,314.32 243.61,314.29 244.13,314.25 244.65,314.22 245.17,314.19 245.69,314.15 246.21,314.12 246.73,314.08 247.25,314.04 247.77,314.01 248.29,313.97 248.81,313.93 249.33,313.89 249.85,313.86 250.37,313.82 250.89,313.78 251.41,313.74 251.93,313.71 252.45,313.67 252.97,313.63 253.48,313.60 254.00,313.56 254.52,313.53 255.04,313.49 255.56,313.46 256.08,313.43 256.60,313.40 257.12,313.37 257.64,313.34 258.16,313.31 258.68,313.29 259.20,313.26 259.72,313.24 260.24,313.22 260.76,313.20 261.28,313.18 261.80,313.16 262.32,313.15 262.84,313.14 263.36,313.13 263.88,313.12 264.40,313.11 264.92,313.11 265.44,313.10 265.96,313.10 266.48,313.11 267.00,313.12 267.52,313.13 268.04,313.15 268.56,313.17 269.07,313.19 269.59,313.22 270.11,313.25 270.63,313.28 271.15,313.32 271.67,313.35 272.19,313.39 272.71,313.43 273.23,313.47 273.75,313.51 274.27,313.54 274.79,313.58 275.31,313.61 275.83,313.64 276.35,313.66 276.87,313.68 277.39,313.69 277.91,313.70 278.43,313.69 278.95,313.68 279.47,313.65 279.99,313.61 280.51,313.55 281.03,313.48 281.55,313.39 282.07,313.28 282.59,313.14 283.11,312.98 283.63,312.80 284.15,312.59 284.66,312.34 285.18,312.07 285.70,311.75 286.22,311.41 286.74,311.02 287.26,310.60 287.78,310.13 288.30,309.63 288.82,309.08 289.34,308.49 289.86,307.86 290.38,307.19 290.90,306.49 291.42,305.74 291.94,304.96 292.46,304.15 292.98,303.31 293.50,302.44 294.02,301.56 294.54,300.67 295.06,299.76 295.58,298.86 296.10,297.97 296.62,297.08 297.14,296.22 297.66,295.39 298.18,294.59 298.70,293.84 299.22,293.15 299.74,292.51 300.25,291.94 300.77,291.45 301.29,291.04 301.81,290.72 302.33,290.50 302.85,290.37 303.37,290.33 303.89,290.39 304.41,290.52 304.93,290.72 305.45,291.00 305.97,291.35 306.49,291.77 307.01,292.25 307.53,292.79 308.05,293.38 308.57,294.02 309.09,294.70 309.61,295.42 310.13,296.18 310.65,296.95 311.17,297.75 311.69,298.56 312.21,299.37 312.73,300.19 313.25,301.01 313.77,301.82 314.29,302.62 314.81,303.40 315.33,304.17 315.85,304.91 316.36,305.63 316.88,306.32 317.40,306.98 317.92,307.62 318.44,308.22 318.96,308.78 319.48,309.32 320.00,309.82 320.52,310.29 321.04,310.72 321.56,311.13 322.08,311.50 322.60,311.85 323.12,312.17 323.64,312.45 324.16,312.72 324.68,312.96 325.20,313.17 325.72,313.37 326.24,313.54 326.76,313.70 327.28,313.84 327.80,313.97 328.32,314.08 328.84,314.18 329.36,314.27 329.88,314.34 330.40,314.41 330.92,314.47 331.44,314.52 331.95,314.57 332.47,314.61 332.99,314.64 333.51,314.67 334.03,314.70 334.55,314.72 335.07,314.74 335.59,314.76 336.11,314.78 336.63,314.79 337.15,314.80 337.67,314.81 338.19,314.82 338.71,314.83 339.23,314.84 339.75,314.84 340.27,314.85 340.79,314.86 341.31,314.86 341.83,314.87 342.35,314.87 342.87,314.87 343.39,314.88 343.91,314.88 344.43,314.88 344.95,314.89 345.47,314.89 345.99,314.89 346.51,314.89 347.02,314.90 347.54,314.90 348.06,314.90 348.58,314.90 349.10,314.91 349.62,314.91 350.14,314.91 350.66,314.91 351.18,314.91 351.70,314.91 352.22,314.92 352.74,314.92 353.26,314.92 353.78,314.92 354.30,314.92 354.82,314.92 355.34,314.93 355.86,314.93 356.38,314.93 356.90,314.93 357.42,314.93 357.94,314.93 358.46,314.93 358.98,314.93 359.50,314.94 360.02,314.94 360.54,314.94 361.06,314.94 361.58,314.94 362.10,314.94 362.62,314.94 363.13,314.94 363.65,314.94 364.17,314.95 364.69,314.95 365.21,314.95"/>
<polyline points="234.26,314.69 234.78,314.67 235.30,314.65 235.82,314.63 236.34,314.61 236.86,314.58 237.38,314.56 237.89,314.53 238.41,314.51 238.93,314.48 239.45,314.45 239.97,314.42 240.49,314.39 241.01,314.36 241.53,314.33 242.05,314.30 242.57,314.26 243.09,314.23 243.61,314.19 244.13,314.16 244.65,314.12 245.17,314.08 245.69,314.04 246.21,314.00 246.73,313.96 247.25,313.92 247.77,313.88 248.29,313.84 248.81,313.80 249.33,313.76 249.85,313.72 250.37,313.67 250.89,313.63 251.41,313.59 251.93,313.55 252.45,313.51 252.97,313.47 253.48,313.43 254.00,313.39 254.52,313.35 255.04,313.31 255.56,313.28 256.08,313.24 256.60,313.20 257.12,313.17 257.64,313.14 258.16,313.11 258.68,313.08 259.20,313.05 259.72,313.02 260.24,313.00 260.76,312.98 261.28,312.96 261.80,312.94 262.32,312.92 262.84,312.91 263.36,312.89 263.88,312.88 264.40,312.87 264.92,312.87 265.44,312.86 265.96,312.86 266.48,312.86 267.00,312.87 267.52,312.88 268.04,312.90 268.56,312.92 269.07,312.95 269.59,312.97 270.11,313.01 270.63,313.04 271.15,313.07 271.67,313.11 272.19,313.15 272.71,313.19 273.23,313.23 273.75,313.26 274.27,313.30 274.79,313.33 275.31,313.36 275.83,313.38 276.35,313.40 276.87,313.41 277.39,313.41 277.91,313.40 278.43,313.38 278.95,313.34 279.47,313.29 279.99,313.22 280.51,313.13 281.03,313.02 281.55,312.89 282.07,312.73 282.59,312.54 283.11,312.32 283.63,312.07 284.15,311.78 284.66,311.45 285.18,311.08 285.70,310.67 286.22,310.21 286.74,309.70 287.26,309.15 287.78,308.55 288.30,307.89 288.82,307.19 289.34,306.44 289.86,305.64 290.38,304.79 290.90,303.90 291.42,302.96 291.94,301.99 292.46,300.98 292.98,299.95 293.50,298.89 294.02,297.82 294.54,296.74 295.06,295.65 295.58,294.58 296.10,293.52 296.62,292.49 297.14,291.49 297.66,290.54 298.18,289.64 298.70,288.81 299.22,288.05 299.74,287.38 300.25,286.81 300.77,286.34 301.29,285.98 301.81,285.74 302.33,285.61 302.85,285.61 303.37,285.70 303.89,285.89 304.41,286.17 304.93,286.53 305.45,286.98 305.97,287.50 306.49,288.10 307.01,288.77 307.53,289.50 308.05,290.28 308.57,291.11 309.09,291.98 309.61,292.89 310.13,293.82 310.65,294.77 311.17,295.74 311.69,296.71 312.21,297.68 312.73,298.64 313.25,299.60 313.77,300.54 314.29,301.46 314.81,302.36 315.33,303.23 315.85,304.06 316.36,304.87 316.88,305.64 317.40,306.37 317.92,307.07 318.44,307.73 318.96,308.34 319.48,308.92 320.00,309.47 320.52,309.97 321.04,310.44 321.56,310.87 322.08,311.26 322.60,311.63 323.12,311.96 323.64,312.26 324.16,312.54 324.68,312.79 325.20,313.01 325.72,313.22 326.24,313.40 326.76,313.56 327.28,313.71 327.80,313.83 328.32,313.95 328.84,314.05 329.36,314.14 329.88,314.22 330.40,314.29 330.92,314.35 331.44,314.41 331.95,314.45 332.47,314.50 332.99,314.53 333.51,314.56 334.03,314.59 334.55,314.62 335.07,314.64 335.59,314.66 336.11,314.68 336.63,314.69 337.15,314.71 337.67,314.72 338.19,314.73 338.71,314.74 339.23,314.75 339.75,314.76 340.27,314.77 340.79,314.77 341.31,314.78 341.83,314.79 342.35,314.79 342.87,314.80 343.39,314.80 343.91,314.81 344.43,314.81 344.95,314.82 345.47,314.82 345.99,314.83 346.51,314.83 347.02,314.83 347.54,314.84 348.06,314.84 348.58,314.84 349.10,314.85 349.62,314.85 350.14,314.85 350.66,314.86 351.18,314.86 351.70,314.86 352.22,314.86 352.74,314.87 353.26,314.87 353.78,314.87 354.30,314.88 354.82,314.88 355.34,314.88 355.86,314.88 356.38,314.88 356.90,314.89 357.42,314.89 357.94,314.89 358.46,314.89 358.98,314.89 359.50,314.90 360.02,314.90 360.54,314.90 361.06,314.90 361.58,314.90 362.10,314.90 362.62,314.91 363.13,314.91 363.65,314.91 364.17,314.91 364.69,314.91 365.21,314.91"/>
<polyline points="234.26,314.64 234.78,314.62 235.30,314.60 235.82,314.58 236.34,314.55 236.86,314.53 237.38,314.50 237.89,314.47 238.41,314.44 238.93,314.41 239.45,314.38 239.97,314.35 240.49,314.32 241.01,314.28 241.53,314.25 242.05,314.21 242.57,314.17 243.09,314.13 243.61,314.09 244.13,314.05 244.65,314.01 245.17,313.97 245.69,313.93 246.21,313.88 246.73,313.84 247.25,313.80 247.77,313.75 248.29,313.71 248.81,313.66 249.33,313.61 249.85,313.57 250.37,313.52 250.89,313.47 251.41,313.43 251.93,313.38 252.45,313.34 252.97,313.29 253.48,313.25 254.00,313.20 254.52,313.16 255.04,313.12 255.56,313.08 256.08,313.04 256.60,313.00 257.12,312.96 257.64,312.92 258.16,312.89 258.68,312.86 259.20,312.82 259.72,312.79 260.24,312.77 260.76,312.74 261.28,312.72 261.80,312.69 262.32,312.68 262.84,312.66 263.36,312.64 263.88,312.63 264.40,312.62 264.92,312.61 265.44,312.60 265.96,312.60 266.48,312.60 267.00,312.61 267.52,312.62 268.04,312.63 268.56,312.65 269.07,312.68 269.59,312.71 270.11,312.74 270.63,312.77 271.15,312.80 271.67,312.84 272.19,312.88 272.71,312.92 273.23,312.95 273.75,312.99 274.27,313.02 274.79,313.04 275.31,313.07 275.83,313.08 276.35,313.09 276.87,313.09 277.39,313.07 277.91,313.05 278.43,313.00 278.95,312.94 279.47,312.87 279.99,312.77 280.51,312.64 281.03,312.49 281.55,312.31 282.07,312.09 282.59,311.84 283.11,311.55 283.63,311.22 284.15,310.84 284.66,310.42 285.18,309.95 285.70,309.42 286.22,308.85 286.74,308.21 287.26,307.52 287.78,306.77 288.30,305.96 288.82,305.09 289.34,304.16 289.86,303.18 290.38,302.15 290.90,301.07 291.42,299.94 291.94,298.77 292.46,297.56 292.98,296.33 293.50,295.08 294.02,293.81 294.54,292.55 295.06,291.29 295.58,290.05 296.10,288.84 296.62,287.67 297.14,286.55 297.66,285.50 298.18,284.52 298.70,283.64 299.22,282.86 299.74,282.19 300.25,281.65 300.77,281.25 301.29,280.98 301.81,280.87 302.33,280.89 302.85,281.03 303.37,281.27 303.89,281.62 304.41,282.06 304.93,282.61 305.45,283.24 305.97,283.96 306.49,284.75 307.01,285.61 307.53,286.54 308.05,287.51 308.57,288.53 309.09,289.59 309.61,290.67 310.13,291.78 310.65,292.90 311.17,294.02 311.69,295.14 312.21,296.25 312.73,297.35 313.25,298.43 313.77,299.48 314.29,300.50 314.81,301.49 315.33,302.45 315.85,303.37 316.36,304.24 316.88,305.08 317.40,305.87 317.92,306.61 318.44,307.31 318.96,307.97 319.48,308.58 320.00,309.15 320.52,309.68 321.04,310.17 321.56,310.62 322.08,311.03 322.60,311.41 323.12,311.75 323.64,312.06 324.16,312.35 324.68,312.60 325.20,312.83 325.72,313.04 326.24,313.22 326.76,313.39 327.28,313.54 327.80,313.67 328.32,313.79 328.84,313.89 329.36,313.98 329.88,314.06 330.40,314.13 330.92,314.20 331.44,314.26 331.95,314.31 332.47,314.35 332.99,314.39 333.51,314.42 334.03,314.45 334.55,314.48 335.07,314.51 335.59,314.53 336.11,314.55 336.63,314.57 337.15,314.58 337.67,314.60 338.19,314.61 338.71,314.63 339.23,314.64 339.75,314.65 340.27,314.66 340.79,314.67 341.31,314.68 341.83,314.69 342.35,314.69 342.87,314.70 343.39,314.71 343.91,314.72 344.43,314.72 344.95,314.73 345.47,314.74 345.99,314.74 346.51,314.75 347.02,314.75 347.54,314.76 348.06,314.76 348.58,314.77 349.10,314.77 349.62,314.78 350.14,314.78 350.66,314.79 351.18,314.79 351.70,314.79 352.22,314.80 352.74,314.80 353.26,314.81 353.78,314.81 354.30,314.81 354.82,314.82 355.34,314.82 355.86,314.82 356.38,314.83 356.90,314.83 357.42,314.83 357.94,314.84 358.46,314.84 358.98,314.84 359.50,314.84 360.02,314.85 360.54,314.85 361.06,314.85 361.58,314.85 362.10,314.86 362.62,314.86 363.13,314.86 363.65,314.86 364.17,314.87 364.69,314.87 365.21,314.87"/>
<polyline points="234.26,314.59 234.78,314.57 235.30,314.54 235.82,314.52 236.34,314.49 236.86,314.46 237.38,314.43 237.89,314.40 238.41,314.37 238.93,314.34 239.45,314.30 239.97,314.27 240.49,314.23 241.01,314.19 241.53,314.15 242.05,314.11 242.57,314.07 243.09,314.03 243.61,313.99 244.13,313.94 244.65,313.90 245.17,313.85 245.69,313.80 246.21,313.76 246.73,313.71 247.25,313.66 247.77,313.61 248.29,313.56 248.81,313.51 249.33,313.46 249.85,313.41 250.37,313.35 250.89,313.30 251.41,313.25 251.93,313.20 252.45,313.15 252.97,313.10 253.48,313.05 254.00,313.00 254.52,312.96 255.04,312.91 255.56,312.86 256.08,312.82 256.60,312.78 257.12,312.73 257.64,312.69 258.16,312.65 258.68,312.62 259.20,312.58 259.72,312.55 260.24,312.52 260.76,312.49 261.28,312.46 261.80,312.43 262.32,312.41 262.84,312.39 263.36,312.37 263.88,312.35 264.40,312.34 264.92,312.33 265.44,312.32 265.96,312.31 266.48,312.31 267.00,312.31 267.52,312.32 268.04,312.34 268.56,312.36 269.07,312.38 269.59,312.41 270.11,312.44 270.63,312.47 271.15,312.50 271.67,312.54 272.19,312.57 272.71,312.61 273.23,312.64 273.75,312.67 274.27,312.69 274.79,312.72 275.31,312.73 275.83,312.73 276.35,312.73 276.87,312.71 277.39,312.68 277.91,312.64 278.43,312.57 278.95,312.48 279.47,312.37 279.99,312.23 280.51,312.07 281.03,311.87 281.55,311.63 282.07,311.36 282.59,311.04 283.11,310.67 283.63,310.26 284.15,309.79 284.66,309.27 285.18,308.68 285.70,308.04 286.22,307.33 286.74,306.56 287.26,305.72 287.78,304.81 288.30,303.84 288.82,302.80 289.34,301.69 289.86,300.53 290.38,299.30 290.90,298.02 291.42,296.69 291.94,295.32 292.46,293.92 292.98,292.49 293.50,291.04 294.02,289.59 294.54,288.15 295.06,286.72 295.58,285.32 296.10,283.97 296.62,282.67 297.14,281.45 297.66,280.32 298.18,279.30 298.70,278.39 299.22,277.62 299.74,277.00 300.25,276.54 300.77,276.25 301.29,276.13 301.81,276.17 302.33,276.34 302.85,276.64 303.37,277.05 303.89,277.57 304.41,278.21 304.93,278.95 305.45,279.78 305.97,280.70 306.49,281.69 307.01,282.75 307.53,283.87 308.05,285.04 308.57,286.24 309.09,287.48 309.61,288.73 310.13,290.00 310.65,291.27 311.17,292.53 311.69,293.79 312.21,295.02 312.73,296.24 313.25,297.42 313.77,298.57 314.29,299.69 314.81,300.76 315.33,301.78 315.85,302.77 316.36,303.70 316.88,304.58 317.40,305.42 317.92,306.20 318.44,306.93 318.96,307.62 319.48,308.26 320.00,308.85 320.52,309.39 321.04,309.90 321.56,310.36 322.08,310.78 322.60,311.16 323.12,311.51 323.64,311.83 324.16,312.12 324.68,312.38 325.20,312.61 325.72,312.82 326.24,313.01 326.76,313.18 327.28,313.33 327.80,313.46 328.32,313.58 328.84,313.69 329.36,313.78 329.88,313.87 330.40,313.94 330.92,314.01 331.44,314.07 331.95,314.12 332.47,314.17 332.99,314.21 333.51,314.25 334.03,314.28 334.55,314.32 335.07,314.34 335.59,314.37 336.11,314.39 336.63,314.41 337.15,314.43 337.67,314.45 338.19,314.47 338.71,314.48 339.23,314.50 339.75,314.51 340.27,314.53 340.79,314.54 341.31,314.55 341.83,314.56 342.35,314.57 342.87,314.58 343.39,314.59 343.91,314.60 344.43,314.61 344.95,314.62 345.47,314.63 345.99,314.64 346.51,314.65 347.02,314.65 347.54,314.66 348.06,314.67 348.58,314.67 349.10,314.68 349.62,314.69 350.14,314.69 350.66,314.70 351.18,314.71 351.70,314.71 352.22,314.72 352.74,314.72 353.26,314.73 353.78,314.73 354.30,314.74 354.82,314.74 355.34,314.75 355.86,314.75 356.38,314.76 356.90,314.76 357.42,314.77 357.94,314.77 358.46,314.77 358.98,314.78 359.50,314.78 360.02,314.78 360.54,314.79 361.06,314.79 361.58,314.80 362.10,314.80 362.62,314.80 363.13,314.81 363.65,314.81 364.17,314.81 364.69,314.81 365.21,314.82"/>
<polyline points="234.26,314.53 234.78,314.50 235.30,314.48 235.82,314.45 236.34,314.42 236.86,314.39 237.38,314.36 237.89,314.32 238.41,314.29 238.93,314.25 239.45,314.21 239.97,314.18 240.49,314.14 241.01,314.09 241.53,314.05 242.05,314.01 242.57,313.96 243.09,313.92 243.61,313.87 244.13,313.82 244.65,313.77 245.17,313.72 245.69,313.67 246.21,313.62 246.73,313.56 247.25,313.51 247.77,313.46 248.29,313.40 248.81,313.35 249.33,313.29 249.85,313.23 250.37,313.18 250.89,313.12 251.41,313.06 251.93,313.01 252.45,312.95 252.97,312.90 253.48,312.84 254.00,312.79 254.52,312.74 255.04,312.69 255.56,312.64 256.08,312.59 256.60,312.54 257.12,312.49 257.64,312.45 258.16,312.40 258.68,312.36 259.20,312.32 259.72,312.28 260.24,312.25 260.76,312.21 261.28,312.18 261.80,312.15 262.32,312.12 262.84,312.10 263.36,312.08 263.88,312.05 264.40,312.04 264.92,312.02 265.44,312.01 265.96,312.00 266.48,311.99 267.00,312.00 267.52,312.00 268.04,312.01 268.56,312.03 269.07,312.05 269.59,312.07 270.11,312.10 270.63,312.13 271.15,312.16 271.67,312.19 272.19,312.23 272.71,312.26 273.23,312.28 273.75,312.31 274.27,312.33 274.79,312.34 275.31,312.34 275.83,312.34 276.35,312.32 276.87,312.28 277.39,312.23 277.91,312.16 278.43,312.07 278.95,311.95 279.47,311.81 279.99,311.63 280.51,311.42 281.03,311.16 281.55,310.87 282.07,310.53 282.59,310.14 283.11,309.69 283.63,309.19 284.15,308.62 284.66,307.99 285.18,307.30 285.70,306.53 286.22,305.69 286.74,304.77 287.26,303.78 287.78,302.71 288.30,301.56 288.82,300.34 289.34,299.05 289.86,297.70 290.38,296.28 290.90,294.80 291.42,293.27 291.94,291.70 292.46,290.09 292.98,288.47 293.50,286.83 294.02,285.19 294.54,283.57 295.06,281.98 295.58,280.43 296.10,278.95 296.62,277.55 297.14,276.24 297.66,275.06 298.18,274.01 298.70,273.12 299.22,272.40 299.74,271.86 300.25,271.53 300.77,271.40 301.29,271.45 301.81,271.64 302.33,271.98 302.85,272.45 303.37,273.05 303.89,273.77 304.41,274.60 304.93,275.54 305.45,276.58 305.97,277.70 306.49,278.89 307.01,280.15 307.53,281.46 308.05,282.81 308.57,284.19 309.09,285.59 309.61,287.00 310.13,288.42 310.65,289.83 311.17,291.23 311.69,292.60 312.21,293.95 312.73,295.26 313.25,296.54 313.77,297.77 314.29,298.96 314.81,300.09 315.33,301.18 315.85,302.21 316.36,303.19 316.88,304.11 317.40,304.98 317.92,305.79 318.44,306.55 318.96,307.26 319.48,307.91 320.00,308.52 320.52,309.08 321.04,309.59 321.56,310.06 322.08,310.49 322.60,310.88 323.12,311.23 323.64,311.56 324.16,311.85 324.68,312.11 325.20,312.35 325.72,312.56 326.24,312.75 326.76,312.92 327.28,313.08 327.80,313.21 328.32,313.34 328.84,313.44 329.36,313.54 329.88,313.63 330.40,313.71 330.92,313.78 331.44,313.84 331.95,313.90 332.47,313.95 332.99,314.00 333.51,314.04 334.03,314.08 334.55,314.12 335.07,314.15 335.59,314.18 336.11,314.21 336.63,314.23 337.15,314.25 337.67,314.28 338.19,314.30 338.71,314.32 339.23,314.34 339.75,314.35 340.27,314.37 340.79,314.39 341.31,314.40 341.83,314.42 342.35,314.43 342.87,314.44 343.39,314.46 343.91,314.47 344.43,314.48 344.95,314.49 345.47,314.50 345.99,314.51 346.51,314.52 347.02,314.53 347.54,314.54 348.06,314.55 348.58,314.56 349.10,314.57 349.62,314.58 350.14,314.59 350.66,314.60 351.18,314.61 351.70,314.61 352.22,314.62 352.74,314.63 353.26,314.63 353.78,314.64 354.30,314.65 354.82,314.65 355.34,314.66 355.86,314.67 356.38,314.67 356.90,314.68 357.42,314.68 357.94,314.69 358.46,314.70 358.98,314.70 359.50,314.71 360.02,314.71 360.54,314.72 361.06,314.72 361.58,314.72 362.10,314.73 362.62,314.73 363.13,314.74 363.65,314.74 364.17,314.75 364.69,314.75 365.21,314.75"/>
<polyline points="234.26,314.46 234.78,314.43 235.30,314.40 235.82,314.37 236.34,314.34 236.86,314.31 237.38,314.27 237.89,314.24 238.41,314.20 238.93,314.16 239.45,314.12 239.97,314.08 240.49,314.03 241.01,313.99 241.53,313.94 242.05,313.89 242.57,313.84 243.09,313.79 243.61,313.74 244.13,313.69 244.65,313.63 245.17,313.58 245.69,313.52 246.21,313.47 246.73,313.41 247.25,313.35 247.77,313.29 248.29,313.23 248.81,313.17 249.33,313.11 249.85,313.05 250.37,312.99 250.89,312.92 251.41,312.86 251.93,312.80 252.45,312.74 252.97,312.68 253.48,312.62 254.00,312.56 254.52,312.50 255.04,312.45 255.56,312.39 256.08,312.34 256.60,312.28 257.12,312.23 257.64,312.18 258.16,312.13 258.68,312.08 259.20,312.04 259.72,312.00 260.24,311.95 260.76,311.92 261.28,311.88 261.80,311.84 262.32,311.81 262.84,311.78 263.36,311.76 263.88,311.73 264.40,311.71 264.92,311.69 265.44,311.67 265.96,311.66 266.48,311.65 267.00,311.65 267.52,311.65 268.04,311.66 268.56,311.67 269.07,311.69 269.59,311.71 270.11,311.73 270.63,311.76 271.15,311.78 271.67,311.81 272.19,311.84 272.71,311.86 273.23,311.88 273.75,311.90 274.27,311.91 274.79,311.91 275.31,311.90 275.83,311.88 276.35,311.84 276.87,311.79 277.39,311.72 277.91,311.62 278.43,311.50 278.95,311.35 279.47,311.17 279.99,310.95 280.51,310.69 281.03,310.38 281.55,310.02 282.07,309.61 282.59,309.15 283.11,308.62 283.63,308.02 284.15,307.35 284.66,306.61 285.18,305.80 285.70,304.90 286.22,303.92 286.74,302.85 287.26,301.70 287.78,300.47 288.30,299.15 288.82,297.75 289.34,296.27 289.86,294.72 290.38,293.10 290.90,291.42 291.42,289.69 291.94,287.92 292.46,286.11 292.98,284.28 293.50,282.45 294.02,280.63 294.54,278.84 295.06,277.09 295.58,275.41 296.10,273.81 296.62,272.32 297.14,270.96 297.66,269.74 298.18,268.71 298.70,267.86 299.22,267.23 299.74,266.83 300.25,266.66 300.77,266.71 301.29,266.92 301.81,267.28 302.33,267.80 302.85,268.46 303.37,269.26 303.89,270.19 304.41,271.23 304.93,272.38 305.45,273.62 305.97,274.94 306.49,276.33 307.01,277.77 307.53,279.27 308.05,280.79 308.57,282.33 309.09,283.89 309.61,285.45 310.13,287.00 310.65,288.53 311.17,290.04 311.69,291.52 312.21,292.97 312.73,294.37 313.25,295.72 313.77,297.02 314.29,298.27 314.81,299.46 315.33,300.60 315.85,301.67 316.36,302.68 316.88,303.64 317.40,304.53 317.92,305.37 318.44,306.14 318.96,306.87 319.48,307.53 320.00,308.15 320.52,308.72 321.04,309.24 321.56,309.71 322.08,310.15 322.60,310.54 323.12,310.90 323.64,311.23 324.16,311.52 324.68,311.79 325.20,312.03 325.72,312.25 326.24,312.44 326.76,312.62 327.28,312.77 327.80,312.91 328.32,313.04 328.84,313.16 329.36,313.26 329.88,313.35 330.40,313.44 330.92,313.51 331.44,313.58 331.95,313.64 332.47,313.70 332.99,313.75 333.51,313.80 334.03,313.84 334.55,313.88 335.07,313.92 335.59,313.95 336.11,313.99 336.63,314.02 337.15,314.05 337.67,314.07 338.19,314.10 338.71,314.12 339.23,314.15 339.75,314.17 340.27,314.19 340.79,314.21 341.31,314.23 341.83,314.25 342.35,314.26 342.87,314.28 343.39,314.30 343.91,314.31 344.43,314.33 344.95,314.34 345.47,314.36 345.99,314.37 346.51,314.38 347.02,314.40 347.54,314.41 348.06,314.42 348.58,314.43 349.10,314.44 349.62,314.46 350.14,314.47 350.66,314.48 351.18,314.49 351.70,314.50 352.22,314.51 352.74,314.52 353.26,314.52 353.78,314.53 354.30,314.54 354.82,314.55 355.34,314.56 355.86,314.57 356.38,314.57 356.90,314.58 357.42,314.59 357.94,314.60 358.46,314.60 358.98,314.61 359.50,314.62 360.02,314.62 360.54,314.63 361.06,314.64 361.58,314.64 362.10,314.65 362.62,314.65 363.13,314.66 363.65,314.66 364.17,314.67 364.69,314.67 365.21,314.68"/>
<polyline points="234.26,314.39 234.78,314.35 235.30,314.32 235.82,314.29 236.34,314.25 236.86,314.22 237.38,314.18 237.89,314.14 238.41,314.10 238.93,314.06 239.45,314.01 239.97,313.97 240.49,313.92 241.01,313.87 241.53,313.82 242.05,313.77 242.57,313.71 243.09,313.66 243.61,313.60 244.13,313.55 244.65,313.49 245.17,313.43 245.69,313.37 246.21,313.30 246.73,313.24 247.25,313.18 247.77,313.11 248.29,313.05 248.81,312.98 249.33,312.91 249.85,312.85 250.37,312.78 250.89,312.71 251.41,312.65 251.93,312.58 252.45,312.51 252.97,312.45 253.48,312.38 254.00,312.32 254.52,312.25 255.04,312.19 255.56,312.13 256.08,312.07 256.60,312.01 257.12,311.95 257.64,311.89 258.16,311.84 258.68,311.79 259.20,311.74 259.72,311.69 260.24,311.64 260.76,311.60 261.28,311.55 261.80,311.51 262.32,311.48 262.84,311.44 263.36,311.41 263.88,311.38 264.40,311.35 264.92,311.32 265.44,311.30 265.96,311.28 266.48,311.27 267.00,311.26 267.52,311.26 268.04,311.26 268.56,311.27 269.07,311.28 269.59,311.30 270.11,311.32 270.63,311.34 271.15,311.36 271.67,311.38 272.19,311.40 272.71,311.42 273.23,311.43 273.75,311.44 274.27,311.44 274.79,311.42 275.31,311.40 275.83,311.37 276.35,311.31 276.87,311.24 277.39,311.14 277.91,311.02 278.43,310.87 278.95,310.68 279.47,310.46 279.99,310.19 280.51,309.88 281.03,309.51 281.55,309.09 282.07,308.61 282.59,308.07 283.11,307.45 283.63,306.76 284.15,305.99 284.66,305.13 285.18,304.19 285.70,303.16 286.22,302.04 286.74,300.82 287.26,299.52 287.78,298.11 288.30,296.62 288.82,295.04 289.34,293.37 289.86,291.62 290.38,289.80 290.90,287.92 291.42,285.98 291.94,284.01 292.46,282.00 292.98,279.97 293.50,277.95 294.02,275.95 294.54,274.00 295.06,272.10 295.58,270.29 296.10,268.59 296.62,267.02 297.14,265.62 297.66,264.41 298.18,263.42 298.70,262.67 299.22,262.17 299.74,261.94 300.25,261.96 300.77,262.17 301.29,262.55 301.81,263.10 302.33,263.81 302.85,264.67 303.37,265.68 303.89,266.81 304.41,268.06 304.93,269.42 305.45,270.86 305.97,272.38 306.49,273.96 307.01,275.59 307.53,277.25 308.05,278.93 308.57,280.63 309.09,282.33 309.61,284.02 310.13,285.69 310.65,287.34 311.17,288.95 311.69,290.52 312.21,292.05 312.73,293.52 313.25,294.94 313.77,296.30 314.29,297.60 314.81,298.83 315.33,300.00 315.85,301.11 316.36,302.15 316.88,303.13 317.40,304.04 317.92,304.90 318.44,305.69 318.96,306.42 319.48,307.10 320.00,307.73 320.52,308.30 321.04,308.83 321.56,309.31 322.08,309.75 322.60,310.15 323.12,310.51 323.64,310.84 324.16,311.14 324.68,311.41 325.20,311.66 325.72,311.88 326.24,312.08 326.76,312.26 327.28,312.42 327.80,312.57 328.32,312.70 328.84,312.82 329.36,312.93 329.88,313.03 330.40,313.12 330.92,313.20 331.44,313.27 331.95,313.34 332.47,313.41 332.99,313.46 333.51,313.52 334.03,313.57 334.55,313.61 335.07,313.66 335.59,313.70 336.11,313.74 336.63,313.77 337.15,313.81 337.67,313.84 338.19,313.87 338.71,313.90 339.23,313.93 339.75,313.95 340.27,313.98 340.79,314.00 341.31,314.03 341.83,314.05 342.35,314.07 342.87,314.09 343.39,314.11 343.91,314.13 344.43,314.15 344.95,314.17 345.47,314.19 345.99,314.21 346.51,314.22 347.02,314.24 347.54,314.25 348.06,314.27 348.58,314.28 349.10,314.30 349.62,314.31 350.14,314.33 350.66,314.34 351.18,314.35 351.70,314.36 352.22,314.38 352.74,314.39 353.26,314.40 353.78,314.41 354.30,314.42 354.82,314.43 355.34,314.44 355.86,314.45 356.38,314.46 356.90,314.47 357.42,314.48 357.94,314.49 358.46,314.50 358.98,314.51 359.50,314.51 360.02,314.52 360.54,314.53 361.06,314.54 361.58,314.54 362.10,314.55 362.62,314.56 363.13,314.57 363.65,314.57 364.17,314.58 364.69,314.59 365.21,314.59"/>
<polyline points="234.26,314.30 234.78,314.27 235.30,314.23 235.82,314.20 236.34,314.16 236.86,314.12 237.38,314.08 237.89,314.03 238.41,313.99 238.93,313.94 239.45,313.90 239.97,313.85 240.49,313.79 241.01,313.74 241.53,313.69 242.05,313.63 242.57,313.57 243.09,313.51 243.61,313.45 244.13,313.39 244.65,313.33 245.17,313.26 245.69,313.20 246.21,313.13 246.73,313.06 247.25,312.99 247.77,312.92 248.29,312.85 248.81,312.78 249.33,312.71 249.85,312.63 250.37,312.56 250.89,312.49 251.41,312.41 251.93,312.34 252.45,312.27 252.97,312.20 253.48,312.12 254.00,312.05 254.52,311.98 255.04,311.91 255.56,311.84 256.08,311.78 256.60,311.71 257.12,311.65 257.64,311.59 258.16,311.52 258.68,311.47 259.20,311.41 259.72,311.35 260.24,311.30 260.76,311.25 261.28,311.20 261.80,311.16 262.32,311.11 262.84,311.07 263.36,311.03 263.88,311.00 264.40,310.96 264.92,310.93 265.44,310.90 265.96,310.87 266.48,310.85 267.00,310.84 267.52,310.83 268.04,310.83 268.56,310.83 269.07,310.84 269.59,310.85 270.11,310.86 270.63,310.87 271.15,310.89 271.67,310.90 272.19,310.91 272.71,310.92 273.23,310.92 273.75,310.92 274.27,310.91 274.79,310.88 275.31,310.84 275.83,310.79 276.35,310.71 276.87,310.62 277.39,310.49 277.91,310.34 278.43,310.16 278.95,309.93 279.47,309.67 279.99,309.35 280.51,308.99 281.03,308.56 281.55,308.08 282.07,307.52 282.59,306.90 283.11,306.19 283.63,305.40 284.15,304.53 284.66,303.56 285.18,302.50 285.70,301.33 286.22,300.07 286.74,298.70 287.26,297.23 287.78,295.66 288.30,293.99 288.82,292.22 289.34,290.36 289.86,288.42 290.38,286.40 290.90,284.31 291.42,282.17 291.94,279.99 292.46,277.78 292.98,275.56 293.50,273.35 294.02,271.17 294.54,269.05 295.06,267.01 295.58,265.08 296.10,263.30 296.62,261.69 297.14,260.28 297.66,259.10 298.18,258.19 298.70,257.56 299.22,257.23 299.74,257.21 300.25,257.39 300.77,257.77 301.29,258.34 301.81,259.08 302.33,260.00 302.85,261.07 303.37,262.29 303.89,263.63 304.41,265.09 304.93,266.64 305.45,268.28 305.97,269.99 306.49,271.75 307.01,273.55 307.53,275.37 308.05,277.21 308.57,279.05 309.09,280.87 309.61,282.68 310.13,284.46 310.65,286.20 311.17,287.90 311.69,289.55 312.21,291.15 312.73,292.68 313.25,294.16 313.77,295.57 314.29,296.91 314.81,298.18 315.33,299.38 315.85,300.51 316.36,301.58 316.88,302.57 317.40,303.50 317.92,304.37 318.44,305.17 318.96,305.92 319.48,306.60 320.00,307.24 320.52,307.82 321.04,308.35 321.56,308.84 322.08,309.28 322.60,309.69 323.12,310.06 323.64,310.39 324.16,310.70 324.68,310.97 325.20,311.22 325.72,311.45 326.24,311.66 326.76,311.84 327.28,312.01 327.80,312.17 328.32,312.31 328.84,312.43 329.36,312.55 329.88,312.66 330.40,312.75 330.92,312.84 331.44,312.92 331.95,313.00 332.47,313.07 332.99,313.14 333.51,313.20 334.03,313.26 334.55,313.31 335.07,313.36 335.59,313.41 336.11,313.45 336.63,313.49 337.15,313.53 337.67,313.57 338.19,313.61 338.71,313.65 339.23,313.68 339.75,313.71 340.27,313.74 340.79,313.77 341.31,313.80 341.83,313.83 342.35,313.86 342.87,313.88 343.39,313.91 343.91,313.93 344.43,313.95 344.95,313.98 345.47,314.00 345.99,314.02 346.51,314.04 347.02,314.06 347.54,314.08 348.06,314.10 348.58,314.11 349.10,314.13 349.62,314.15 350.14,314.17 350.66,314.18 351.18,314.20 351.70,314.21 352.22,314.23 352.74,314.24 353.26,314.26 353.78,314.27 354.30,314.28 354.82,314.30 355.34,314.31 355.86,314.32 356.38,314.33 356.90,314.34 357.42,314.35 357.94,314.37 358.46,314.38 358.98,314.39 359.50,314.40 360.02,314.41 360.54,314.42 361.06,314.43 361.58,314.44 362.10,314.44 362.62,314.45 363.13,314.46 363.65,314.47 364.17,314.48 364.69,314.49 365.21,314.49"/>
<polyline points="234.26,314.21 234.78,314.17 235.30,314.13 235.82,314.09 236.34,314.05 236.86,314.01 237.38,313.97 237.89,313.92 238.41,313.87 238.93,313.82 239.45,313.77 239.97,313.72 240.49,313.66 241.01,313.60 241.53,313.54 242.05,313.48 242.57,313.42 243.09,313.36 243.61,313.29 244.13,313.22 244.65,313.15 245.17,313.08 245.69,313.01 246.21,312.94 246.73,312.86 247.25,312.79 247.77,312.71 248.29,312.64 248.81,312.56 249.33,312.48 249.85,312.40 250.37,312.32 250.89,312.24 251.41,312.16 251.93,312.08 252.45,312.00 252.97,311.93 253.48,311.85 254.00,311.77 254.52,311.69 255.04,311.62 255.56,311.54 256.08,311.47 256.60,311.39 257.12,311.32 257.64,311.25 258.16,311.19 258.68,311.12 259.20,311.06 259.72,311.00 260.24,310.94 260.76,310.88 261.28,310.82 261.80,310.77 262.32,310.72 262.84,310.67 263.36,310.62 263.88,310.58 264.40,310.54 264.92,310.50 265.44,310.46 265.96,310.43 266.48,310.40 267.00,310.38 267.52,310.37 268.04,310.36 268.56,310.35 269.07,310.35 269.59,310.35 270.11,310.36 270.63,310.36 271.15,310.37 271.67,310.37 272.19,310.37 272.71,310.37 273.23,310.36 273.75,310.34 274.27,310.31 274.79,310.27 275.31,310.22 275.83,310.14 276.35,310.05 276.87,309.93 277.39,309.78 277.91,309.59 278.43,309.37 278.95,309.11 279.47,308.80 279.99,308.44 280.51,308.02 281.03,307.53 281.55,306.98 282.07,306.35 282.59,305.65 283.11,304.85 283.63,303.97 284.15,302.98 284.66,301.90 285.18,300.71 285.70,299.42 286.22,298.01 286.74,296.50 287.26,294.87 287.78,293.13 288.30,291.28 288.82,289.33 289.34,287.28 289.86,285.14 290.38,282.91 290.90,280.62 291.42,278.27 291.94,275.88 292.46,273.47 292.98,271.05 293.50,268.65 294.02,266.30 294.54,264.02 295.06,261.85 295.58,259.82 296.10,257.97 296.62,256.33 297.14,254.94 297.66,253.83 298.18,253.04 298.70,252.57 299.22,252.45 299.74,252.60 300.25,252.95 300.77,253.52 301.29,254.28 301.81,255.23 302.33,256.35 302.85,257.63 303.37,259.06 303.89,260.61 304.41,262.27 304.93,264.03 305.45,265.86 305.97,267.74 306.49,269.67 307.01,271.63 307.53,273.60 308.05,275.58 308.57,277.54 309.09,279.48 309.61,281.40 310.13,283.27 310.65,285.10 311.17,286.88 311.69,288.59 312.21,290.25 312.73,291.84 313.25,293.36 313.77,294.80 314.29,296.18 314.81,297.48 315.33,298.71 315.85,299.86 316.36,300.94 316.88,301.95 317.40,302.90 317.92,303.77 318.44,304.59 318.96,305.34 319.48,306.03 320.00,306.67 320.52,307.26 321.04,307.80 321.56,308.29 322.08,308.74 322.60,309.16 323.12,309.53 323.64,309.87 324.16,310.18 324.68,310.47 325.20,310.73 325.72,310.96 326.24,311.18 326.76,311.37 327.28,311.55 327.80,311.71 328.32,311.86 328.84,312.00 329.36,312.12 329.88,312.24 330.40,312.34 330.92,312.44 331.44,312.53 331.95,312.62 332.47,312.70 332.99,312.77 333.51,312.84 334.03,312.91 334.55,312.97 335.07,313.03 335.59,313.08 336.11,313.13 336.63,313.18 337.15,313.23 337.67,313.28 338.19,313.32 338.71,313.36 339.23,313.40 339.75,313.44 340.27,313.48 340.79,313.51 341.31,313.55 341.83,313.58 342.35,313.61 342.87,313.64 343.39,313.67 343.91,313.70 344.43,313.73 344.95,313.76 345.47,313.78 345.99,313.81 346.51,313.83 347.02,313.86 347.54,313.88 348.06,313.90 348.58,313.92 349.10,313.94 349.62,313.97 350.14,313.99 350.66,314.00 351.18,314.02 351.70,314.04 352.22,314.06 352.74,314.08 353.26,314.09 353.78,314.11 354.30,314.13 354.82,314.14 355.34,314.16 355.86,314.17 356.38,314.19 356.90,314.20 357.42,314.21 357.94,314.23 358.46,314.24 358.98,314.25 359.50,314.27 360.02,314.28 360.54,314.29 361.06,314.30 361.58,314.31 362.10,314.32 362.62,314.33 363.13,314.34 363.65,314.35 364.17,314.36 364.69,314.37 365.21,314.38"/>
<polyline points="234.26,314.11 234.78,314.07 235.30,314.03 235.82,313.98 236.34,313.94 236.86,313.89 237.38,313.84 237.89,313.79 238.41,313.74 238.93,313.69 239.45,313.63 239.97,313.57 240.49,313.51 241.01,313.45 241.53,313.39 242.05,313.32 242.57,313.25 243.09,313.18 243.61,313.11 244.13,313.04 244.65,312.97 245.17,312.89 245.69,312.81 246.21,312.73 246.73,312.65 247.25,312.57 247.77,312.49 248.29,312.41 248.81,312.32 249.33,312.24 249.85,312.15 250.37,312.07 250.89,311.98 251.41,311.89 251.93,311.81 252.45,311.72 252.97,311.64 253.48,311.55 254.00,311.47 254.52,311.38 255.04,311.30 255.56,311.22 256.08,311.13 256.60,311.05 257.12,310.98 257.64,310.90 258.16,310.82 258.68,310.75 259.20,310.68 259.72,310.61 260.24,310.54 260.76,310.48 261.28,310.41 261.80,310.35 262.32,310.29 262.84,310.24 263.36,310.18 263.88,310.13 264.40,310.08 264.92,310.03 265.44,309.99 265.96,309.95 266.48,309.91 267.00,309.88 267.52,309.86 268.04,309.84 268.56,309.82 269.07,309.81 269.59,309.81 270.11,309.80 270.63,309.80 271.15,309.79 271.67,309.78 272.19,309.77 272.71,309.76 273.23,309.73 273.75,309.70 274.27,309.66 274.79,309.60 275.31,309.52 275.83,309.43 276.35,309.31 276.87,309.16 277.39,308.98 277.91,308.76 278.43,308.51 278.95,308.20 279.47,307.85 279.99,307.44 280.51,306.96 281.03,306.42 281.55,305.80 282.07,305.10 282.59,304.31 283.11,303.43 283.63,302.45 284.15,301.36 284.66,300.17 285.18,298.86 285.70,297.43 286.22,295.88 286.74,294.22 287.26,292.43 287.78,290.52 288.30,288.50 288.82,286.36 289.34,284.12 289.86,281.78 290.38,279.35 290.90,276.85 291.42,274.30 291.94,271.70 292.46,269.08 292.98,266.46 293.50,263.88 294.02,261.36 294.54,258.93 295.06,256.64 295.58,254.52 296.10,252.62 296.62,250.98 297.14,249.64 297.66,248.63 298.18,247.98 298.70,247.72 299.22,247.79 299.74,248.10 300.25,248.64 300.77,249.40 301.29,250.36 301.81,251.52 302.33,252.85 302.85,254.35 303.37,255.98 303.89,257.74 304.41,259.60 304.93,261.54 305.45,263.55 305.97,265.61 306.49,267.70 307.01,269.80 307.53,271.91 308.05,274.01 308.57,276.09 309.09,278.13 309.61,280.14 310.13,282.10 310.65,284.00 311.17,285.84 311.69,287.62 312.21,289.32 312.73,290.96 313.25,292.51 313.77,293.99 314.29,295.40 314.81,296.72 315.33,297.97 315.85,299.14 316.36,300.24 316.88,301.26 317.40,302.21 317.92,303.10 318.44,303.92 318.96,304.68 319.48,305.39 320.00,306.03 320.52,306.63 321.04,307.17 321.56,307.67 322.08,308.13 322.60,308.55 323.12,308.94 323.64,309.29 324.16,309.61 324.68,309.90 325.20,310.17 325.72,310.41 326.24,310.64 326.76,310.84 327.28,311.03 327.80,311.20 328.32,311.36 328.84,311.51 329.36,311.64 329.88,311.77 330.40,311.89 330.92,311.99 331.44,312.10 331.95,312.19 332.47,312.28 332.99,312.36 333.51,312.44 334.03,312.52 334.55,312.59 335.07,312.65 335.59,312.72 336.11,312.78 336.63,312.84 337.15,312.89 337.67,312.95 338.19,313.00 338.71,313.05 339.23,313.09 339.75,313.14 340.27,313.18 340.79,313.22 341.31,313.26 341.83,313.30 342.35,313.34 342.87,313.38 343.39,313.41 343.91,313.45 344.43,313.48 344.95,313.51 345.47,313.54 345.99,313.57 346.51,313.60 347.02,313.63 347.54,313.66 348.06,313.69 348.58,313.71 349.10,313.74 349.62,313.76 350.14,313.79 350.66,313.81 351.18,313.83 351.70,313.85 352.22,313.87 352.74,313.89 353.26,313.91 353.78,313.93 354.30,313.95 354.82,313.97 355.34,313.99 355.86,314.01 356.38,314.02 356.90,314.04 357.42,314.06 357.94,314.07 358.46,314.09 358.98,314.10 359.50,314.12 360.02,314.13 360.54,314.15 361.06,314.16 361.58,314.17 362.10,314.19 362.62,314.20 363.13,314.21 363.65,314.22 364.17,314.24 364.69,314.25 365.21,314.26"/>
<polyline points="234.26,313.99 234.78,313.95 235.30,313.91 235.82,313.86 236.34,313.81 236.86,313.76 237.38,313.71 237.89,313.66 238.41,313.60 238.93,313.54 239.45,313.48 239.97,313.42 240.49,313.35 241.01,313.29 241.53,313.22 242.05,313.15 242.57,313.08 243.09,313.00 243.61,312.92 244.13,312.85 244.65,312.77 245.17,312.68 245.69,312.60 246.21,312.52 246.73,312.43 247.25,312.34 247.77,312.25 248.29,312.16 248.81,312.07 249.33,311.98 249.85,311.89 250.37,311.79 250.89,311.70 251.41,311.61 251.93,311.51 252.45,311.42 252.97,311.33 253.48,311.23 254.00,311.14 254.52,311.05 255.04,310.96 255.56,310.87 256.08,310.78 256.60,310.69 257.12,310.60 257.64,310.52 258.16,310.43 258.68,310.35 259.20,310.27 259.72,310.20 260.24,310.12 260.76,310.05 261.28,309.97 261.80,309.90 262.32,309.84 262.84,309.77 263.36,309.71 263.88,309.65 264.40,309.59 264.92,309.53 265.44,309.47 265.96,309.42 266.48,309.38 267.00,309.34 267.52,309.30 268.04,309.27 268.56,309.25 269.07,309.23 269.59,309.21 270.11,309.19 270.63,309.18 271.15,309.16 271.67,309.14 272.19,309.11 272.71,309.08 273.23,309.04 273.75,309.00 274.27,308.93 274.79,308.85 275.31,308.76 275.83,308.64 276.35,308.49 276.87,308.32 277.39,308.10 277.91,307.85 278.43,307.56 278.95,307.22 279.47,306.82 279.99,306.35 280.51,305.82 281.03,305.22 281.55,304.53 282.07,303.76 282.59,302.89 283.11,301.92 283.63,300.85 284.15,299.66 284.66,298.35 285.18,296.92 285.70,295.37 286.22,293.68 286.74,291.87 287.26,289.92 287.78,287.85 288.30,285.65 288.82,283.33 289.34,280.90 289.86,278.36 290.38,275.73 290.90,273.03 291.42,270.26 291.94,267.45 292.46,264.63 292.98,261.82 293.50,259.05 294.02,256.36 294.54,253.79 295.06,251.39 295.58,249.20 296.10,247.27 296.62,245.65 297.14,244.39 297.66,243.51 298.18,243.05 298.70,243.00 299.22,243.24 299.74,243.72 300.25,244.45 300.77,245.41 301.29,246.58 301.81,247.95 302.33,249.49 302.85,251.20 303.37,253.04 303.89,254.99 304.41,257.04 304.93,259.16 305.45,261.34 305.97,263.56 306.49,265.80 307.01,268.04 307.53,270.27 308.05,272.48 308.57,274.66 309.09,276.80 309.61,278.89 310.13,280.92 310.65,282.89 311.17,284.79 311.69,286.61 312.21,288.36 312.73,290.03 313.25,291.61 313.77,293.12 314.29,294.54 314.81,295.89 315.33,297.15 315.85,298.34 316.36,299.45 316.88,300.48 317.40,301.45 317.92,302.34 318.44,303.17 318.96,303.94 319.48,304.65 320.00,305.31 320.52,305.91 321.04,306.47 321.56,306.98 322.08,307.44 322.60,307.87 323.12,308.27 323.64,308.63 324.16,308.96 324.68,309.26 325.20,309.54 325.72,309.80 326.24,310.03 326.76,310.25 327.28,310.45 327.80,310.64 328.32,310.81 328.84,310.96 329.36,311.11 329.88,311.25 330.40,311.38 330.92,311.50 331.44,311.61 331.95,311.72 332.47,311.82 332.99,311.91 333.51,312.00 334.03,312.09 334.55,312.17 335.07,312.24 335.59,312.32 336.11,312.39 336.63,312.45 337.15,312.52 337.67,312.58 338.19,312.64 338.71,312.70 339.23,312.75 339.75,312.80 340.27,312.86 340.79,312.90 341.31,312.95 341.83,313.00 342.35,313.04 342.87,313.09 343.39,313.13 343.91,313.17 344.43,313.21 344.95,313.24 345.47,313.28 345.99,313.32 346.51,313.35 347.02,313.38 347.54,313.42 348.06,313.45 348.58,313.48 349.10,313.51 349.62,313.54 350.14,313.56 350.66,313.59 351.18,313.62 351.70,313.64 352.22,313.67 352.74,313.69 353.26,313.72 353.78,313.74 354.30,313.76 354.82,313.78 355.34,313.80 355.86,313.83 356.38,313.85 356.90,313.86 357.42,313.88 357.94,313.90 358.46,313.92 358.98,313.94 359.50,313.96 360.02,313.97 360.54,313.99 361.06,314.01 361.58,314.02 362.10,314.04 362.62,314.05 363.13,314.07 363.65,314.08 364.17,314.10 364.69,314.11 365.21,314.12"/>
<polyline points="234.26,313.87 234.78,313.82 235.30,313.78 235.82,313.73 236.34,313.68 236.86,313.62 237.38,313.57 237.89,313.51 238.41,313.45 238.93,313.38 239.45,313.32 239.97,313.25 240.49,313.18 241.01,313.11 241.53,313.04 242.05,312.96 242.57,312.88 243.09,312.80 243.61,312.72 244.13,312.64 244.65,312.55 245.17,312.46 245.69,312.37 246.21,312.28 246.73,312.19 247.25,312.09 247.77,312.00 248.29,311.90 248.81,311.80 249.33,311.70 249.85,311.60 250.37,311.50 250.89,311.40 251.41,311.30 251.93,311.20 252.45,311.10 252.97,311.00 253.48,310.89 254.00,310.79 254.52,310.69 255.04,310.59 255.56,310.49 256.08,310.40 256.60,310.30 257.12,310.20 257.64,310.11 258.16,310.02 258.68,309.93 259.20,309.84 259.72,309.75 260.24,309.67 260.76,309.58 261.28,309.50 261.80,309.42 262.32,309.34 262.84,309.27 263.36,309.20 263.88,309.12 264.40,309.05 264.92,308.99 265.44,308.92 265.96,308.85 266.48,308.80 267.00,308.75 267.52,308.70 268.04,308.66 268.56,308.62 269.07,308.59 269.59,308.56 270.11,308.53 270.63,308.50 271.15,308.47 271.67,308.43 272.19,308.39 272.71,308.34 273.23,308.29 273.75,308.22 274.27,308.13 274.79,308.03 275.31,307.91 275.83,307.77 276.35,307.59 276.87,307.39 277.39,307.14 277.91,306.86 278.43,306.53 278.95,306.14 279.47,305.69 279.99,305.18 280.51,304.59 281.03,303.93 281.55,303.18 282.07,302.33 282.59,301.39 283.11,300.33 283.63,299.17 284.15,297.88 284.66,296.46 285.18,294.92 285.70,293.24 286.22,291.42 286.74,289.46 287.26,287.36 287.78,285.12 288.30,282.75 288.82,280.25 289.34,277.63 289.86,274.90 290.38,272.06 290.90,269.15 291.42,266.17 291.94,263.15 292.46,260.12 292.98,257.11 293.50,254.16 294.02,251.31 294.54,248.61 295.06,246.11 295.58,243.87 296.10,241.94 296.62,240.37 297.14,239.20 297.66,238.49 298.18,238.24 298.70,238.37 299.22,238.78 299.74,239.45 300.25,240.37 300.77,241.53 301.29,242.91 301.81,244.49 302.33,246.25 302.85,248.16 303.37,250.20 303.89,252.35 304.41,254.58 304.93,256.87 305.45,259.21 305.97,261.58 306.49,263.95 307.01,266.32 307.53,268.66 308.05,270.98 308.57,273.25 309.09,275.47 309.61,277.63 310.13,279.72 310.65,281.74 311.17,283.68 311.69,285.55 312.21,287.33 312.73,289.03 313.25,290.64 313.77,292.17 314.29,293.62 314.81,294.98 315.33,296.25 315.85,297.45 316.36,298.57 316.88,299.62 317.40,300.59 317.92,301.50 318.44,302.34 318.96,303.11 319.48,303.83 320.00,304.50 320.52,305.11 321.04,305.67 321.56,306.20 322.08,306.67 322.60,307.12 323.12,307.52 323.64,307.89 324.16,308.24 324.68,308.56 325.20,308.85 325.72,309.12 326.24,309.37 326.76,309.60 327.28,309.81 327.80,310.01 328.32,310.20 328.84,310.37 329.36,310.53 329.88,310.68 330.40,310.82 330.92,310.95 331.44,311.08 331.95,311.20 332.47,311.31 332.99,311.42 333.51,311.52 334.03,311.61 334.55,311.71 335.07,311.79 335.59,311.88 336.11,311.96 336.63,312.04 337.15,312.11 337.67,312.18 338.19,312.25 338.71,312.31 339.23,312.38 339.75,312.44 340.27,312.50 340.79,312.55 341.31,312.61 341.83,312.66 342.35,312.71 342.87,312.76 343.39,312.81 343.91,312.86 344.43,312.90 344.95,312.95 345.47,312.99 345.99,313.03 346.51,313.07 347.02,313.11 347.54,313.15 348.06,313.18 348.58,313.22 349.10,313.25 349.62,313.29 350.14,313.32 350.66,313.35 351.18,313.38 351.70,313.41 352.22,313.44 352.74,313.47 353.26,313.50 353.78,313.52 354.30,313.55 354.82,313.58 355.34,313.60 355.86,313.62 356.38,313.65 356.90,313.67 357.42,313.69 357.94,313.72 358.46,313.74 358.98,313.76 359.50,313.78 360.02,313.80 360.54,313.82 361.06,313.84 361.58,313.85 362.10,313.87 362.62,313.89 363.13,313.91 363.65,313.92 364.17,313.94 364.69,313.96 365.21,313.97"/>
<polyline points="234.26,313.74 234.78,313.69 235.30,313.64 235.82,313.58 236.34,313.53 236.86,313.47 237.38,313.41 237.89,313.35 238.41,313.28 238.93,313.21 239.45,313.14 239.97,313.07 240.49,313.00 241.01,312.92 241.53,312.84 242.05,312.76 242.57,312.68 243.09,312.59 243.61,312.50 244.13,312.41 244.65,312.32 245.17,312.22 245.69,312.13 246.21,312.03 246.73,311.93 247.25,311.83 247.77,311.72 248.29,311.62 248.81,311.51 249.33,311.41 249.85,311.30 250.37,311.19 250.89,311.08 251.41,310.97 251.93,310.86 252.45,310.75 252.97,310.64 253.48,310.53 254.00,310.42 254.52,310.31 255.04,310.20 255.56,310.10 256.08,309.99 256.60,309.88 257.12,309.78 257.64,309.68 258.16,309.57 258.68,309.47 259.20,309.37 259.72,309.28 260.24,309.18 260.76,309.09 261.28,309.00 261.80,308.91 262.32,308.82 262.84,308.73 263.36,308.64 263.88,308.56 264.40,308.48 264.92,308.40 265.44,308.32 265.96,308.24 266.48,308.17 267.00,308.11 267.52,308.05 268.04,308.00 268.56,307.94 269.07,307.90 269.59,307.85 270.11,307.81 270.63,307.76 271.15,307.71 271.67,307.66 272.19,307.60 272.71,307.53 273.23,307.46 273.75,307.37 274.27,307.26 274.79,307.14 275.31,306.99 275.83,306.82 276.35,306.61 276.87,306.37 277.39,306.10 277.91,305.77 278.43,305.40 278.95,304.97 279.47,304.48 279.99,303.91 280.51,303.27 281.03,302.55 281.55,301.73 282.07,300.82 282.59,299.79 283.11,298.66 283.63,297.40 284.15,296.02 284.66,294.50 285.18,292.84 285.70,291.04 286.22,289.09 286.74,286.99 287.26,284.74 287.78,282.35 288.30,279.81 288.82,277.13 289.34,274.32 289.86,271.39 290.38,268.35 290.90,265.23 291.42,262.04 291.94,258.81 292.46,255.57 292.98,252.37 293.50,249.24 294.02,246.23 294.54,243.41 295.06,240.82 295.58,238.54 296.10,236.63 296.62,235.13 297.14,234.10 297.66,233.57 298.18,233.54 298.70,233.83 299.22,234.41 299.74,235.27 300.25,236.39 300.77,237.76 301.29,239.35 301.81,241.14 302.33,243.11 302.85,245.22 303.37,247.45 303.89,249.79 304.41,252.19 304.93,254.65 305.45,257.14 305.97,259.64 306.49,262.14 307.01,264.62 307.53,267.07 308.05,269.47 308.57,271.82 309.09,274.11 309.61,276.33 310.13,278.48 310.65,280.54 311.17,282.53 311.69,284.43 312.21,286.24 312.73,287.96 313.25,289.59 313.77,291.14 314.29,292.60 314.81,293.97 315.33,295.26 315.85,296.47 316.36,297.60 316.88,298.66 317.40,299.64 317.92,300.55 318.44,301.40 318.96,302.19 319.48,302.92 320.00,303.60 320.52,304.22 321.04,304.80 321.56,305.33 322.08,305.82 322.60,306.28 323.12,306.70 323.64,307.09 324.16,307.45 324.68,307.78 325.20,308.08 325.72,308.37 326.24,308.64 326.76,308.88 327.28,309.11 327.80,309.33 328.32,309.53 328.84,309.71 329.36,309.89 329.88,310.06 330.40,310.21 330.92,310.36 331.44,310.50 331.95,310.63 332.47,310.76 332.99,310.88 333.51,310.99 334.03,311.10 334.55,311.20 335.07,311.30 335.59,311.40 336.11,311.49 336.63,311.58 337.15,311.66 337.67,311.74 338.19,311.82 338.71,311.90 339.23,311.97 339.75,312.04 340.27,312.11 340.79,312.17 341.31,312.24 341.83,312.30 342.35,312.36 342.87,312.41 343.39,312.47 343.91,312.52 344.43,312.57 344.95,312.62 345.47,312.67 345.99,312.72 346.51,312.77 347.02,312.81 347.54,312.86 348.06,312.90 348.58,312.94 349.10,312.98 349.62,313.02 350.14,313.05 350.66,313.09 351.18,313.13 351.70,313.16 352.22,313.19 352.74,313.23 353.26,313.26 353.78,313.29 354.30,313.32 354.82,313.35 355.34,313.38 355.86,313.41 356.38,313.43 356.90,313.46 357.42,313.48 357.94,313.51 358.46,313.53 358.98,313.56 359.50,313.58 360.02,313.60 360.54,313.63 361.06,313.65 361.58,313.67 362.10,313.69 362.62,313.71 363.13,313.73 363.65,313.75 364.17,313.77 364.69,313.79 365.21,313.81"/>
<polyline points="234.26,313.59 234.78,313.54 235.30,313.48 235.82,313.43 236.34,313.37 236.86,313.30 237.38,313.24 237.89,313.17 238.41,313.10 238.93,313.03 239.45,312.96 239.97,312.88 240.49,312.80 241.01,312.72 241.53,312.63 242.05,312.54 242.57,312.45 243.09,312.36 243.61,312.27 244.13,312.17 244.65,312.07 245.17,311.97 245.69,311.87 246.21,311.76 246.73,311.65 247.25,311.54 247.77,311.43 248.29,311.32 248.81,311.21 249.33,311.09 249.85,310.98 250.37,310.86 250.89,310.74 251.41,310.62 251.93,310.50 252.45,310.39 252.97,310.27 253.48,310.15 254.00,310.03 254.52,309.91 255.04,309.79 255.56,309.67 256.08,309.56 256.60,309.44 257.12,309.33 257.64,309.21 258.16,309.10 258.68,308.99 259.20,308.88 259.72,308.77 260.24,308.66 260.76,308.56 261.28,308.45 261.80,308.35 262.32,308.25 262.84,308.15 263.36,308.05 263.88,307.96 264.40,307.86 264.92,307.77 265.44,307.67 265.96,307.58 266.48,307.50 267.00,307.42 267.52,307.35 268.04,307.28 268.56,307.21 269.07,307.15 269.59,307.08 270.11,307.02 270.63,306.96 271.15,306.89 271.67,306.82 272.19,306.74 272.71,306.65 273.23,306.55 273.75,306.44 274.27,306.30 274.79,306.15 275.31,305.98 275.83,305.77 276.35,305.54 276.87,305.27 277.39,304.95 277.91,304.59 278.43,304.18 278.95,303.70 279.47,303.16 279.99,302.55 280.51,301.85 281.03,301.07 281.55,300.19 282.07,299.20 282.59,298.11 283.11,296.89 283.63,295.55 284.15,294.07 284.66,292.45 285.18,290.68 285.70,288.76 286.22,286.69 286.74,284.46 287.26,282.06 287.78,279.51 288.30,276.81 288.82,273.95 289.34,270.96 289.86,267.83 290.38,264.59 290.90,261.26 291.42,257.86 291.94,254.42 292.46,250.98 292.98,247.58 293.50,244.28 294.02,241.12 294.54,238.19 295.06,235.53 295.58,233.23 296.10,231.35 296.62,229.95 297.14,229.08 297.66,228.77 298.18,228.91 298.70,229.37 299.22,230.13 299.74,231.18 300.25,232.51 300.77,234.09 301.29,235.89 301.81,237.89 302.33,240.06 302.85,242.36 303.37,244.79 303.89,247.29 304.41,249.86 304.93,252.47 305.45,255.10 305.97,257.73 306.49,260.35 307.01,262.93 307.53,265.47 308.05,267.95 308.57,270.37 309.09,272.72 309.61,274.99 310.13,277.19 310.65,279.29 311.17,281.31 311.69,283.23 312.21,285.07 312.73,286.81 313.25,288.46 313.77,290.02 314.29,291.49 314.81,292.87 315.33,294.17 315.85,295.39 316.36,296.53 316.88,297.60 317.40,298.59 317.92,299.52 318.44,300.38 318.96,301.17 319.48,301.92 320.00,302.60 320.52,303.24 321.04,303.83 321.56,304.38 322.08,304.89 322.60,305.36 323.12,305.80 323.64,306.20 324.16,306.58 324.68,306.93 325.20,307.25 325.72,307.55 326.24,307.84 326.76,308.10 327.28,308.35 327.80,308.58 328.32,308.80 328.84,309.00 329.36,309.20 329.88,309.38 330.40,309.55 330.92,309.71 331.44,309.87 331.95,310.02 332.47,310.16 332.99,310.29 333.51,310.42 334.03,310.54 334.55,310.66 335.07,310.77 335.59,310.88 336.11,310.98 336.63,311.08 337.15,311.18 337.67,311.27 338.19,311.36 338.71,311.44 339.23,311.53 339.75,311.61 340.27,311.68 340.79,311.76 341.31,311.83 341.83,311.90 342.35,311.97 342.87,312.03 343.39,312.10 343.91,312.16 344.43,312.22 344.95,312.27 345.47,312.33 345.99,312.38 346.51,312.44 347.02,312.49 347.54,312.54 348.06,312.59 348.58,312.63 349.10,312.68 349.62,312.72 350.14,312.76 350.66,312.81 351.18,312.85 351.70,312.89 352.22,312.92 352.74,312.96 353.26,313.00 353.78,313.03 354.30,313.07 354.82,313.10 355.34,313.13 355.86,313.17 356.38,313.20 356.90,313.23 357.42,313.26 357.94,313.29 358.46,313.31 358.98,313.34 359.50,313.37 360.02,313.40 360.54,313.42 361.06,313.45 361.58,313.47 362.10,313.49 362.62,313.52 363.13,313.54 363.65,313.56 364.17,313.58 364.69,313.61 365.21,313.63"/>
<polyline points="234.26,313.44 234.78,313.38 235.30,313.32 235.82,313.26 236.34,313.19 236.86,313.13 237.38,313.06 237.89,312.99 238.41,312.91 238.93,312.83 239.45,312.75 239.97,312.67 240.49,312.58 241.01,312.50 241.53,312.41 242.05,312.31 242.57,312.22 243.09,312.12 243.61,312.02 244.13,311.91 244.65,311.81 245.17,311.70 245.69,311.59 246.21,311.47 246.73,311.36 247.25,311.24 247.77,311.12 248.29,311.00 248.81,310.88 249.33,310.76 249.85,310.63 250.37,310.51 250.89,310.38 251.41,310.25 251.93,310.12 252.45,310.00 252.97,309.87 253.48,309.74 254.00,309.61 254.52,309.48 255.04,309.35 255.56,309.22 256.08,309.09 256.60,308.97 257.12,308.84 257.64,308.72 258.16,308.59 258.68,308.47 259.20,308.35 259.72,308.23 260.24,308.11 260.76,307.99 261.28,307.88 261.80,307.76 262.32,307.65 262.84,307.53 263.36,307.42 263.88,307.31 264.40,307.20 264.92,307.09 265.44,306.98 265.96,306.88 266.48,306.78 267.00,306.68 267.52,306.59 268.04,306.50 268.56,306.42 269.07,306.34 269.59,306.25 270.11,306.17 270.63,306.09 271.15,306.00 271.67,305.90 272.19,305.80 272.71,305.69 273.23,305.56 273.75,305.42 274.27,305.26 274.79,305.08 275.31,304.88 275.83,304.64 276.35,304.37 276.87,304.06 277.39,303.71 277.91,303.31 278.43,302.85 278.95,302.33 279.47,301.74 279.99,301.07 280.51,300.32 281.03,299.48 281.55,298.54 282.07,297.49 282.59,296.32 283.11,295.03 283.63,293.60 284.15,292.03 284.66,290.32 285.18,288.45 285.70,286.42 286.22,284.22 286.74,281.86 287.26,279.33 287.78,276.63 288.30,273.76 288.82,270.73 289.34,267.56 289.86,264.24 290.38,260.80 290.90,257.26 291.42,253.65 291.94,250.00 292.46,246.35 292.98,242.76 293.50,239.29 294.02,235.99 294.54,232.95 295.06,230.25 295.58,227.94 296.10,226.12 296.62,224.84 297.14,224.15 297.66,224.05 298.18,224.35 298.70,224.98 299.22,225.93 299.74,227.18 300.25,228.71 300.77,230.50 301.29,232.51 301.81,234.71 302.33,237.08 302.85,239.58 303.37,242.18 303.89,244.86 304.41,247.58 304.93,250.34 305.45,253.09 305.97,255.84 306.49,258.56 307.01,261.23 307.53,263.85 308.05,266.40 308.57,268.89 309.09,271.29 309.61,273.60 310.13,275.83 310.65,277.97 311.17,280.01 311.69,281.96 312.21,283.81 312.73,285.57 313.25,287.23 313.77,288.80 314.29,290.28 314.81,291.68 315.33,292.98 315.85,294.21 316.36,295.36 316.88,296.44 317.40,297.44 317.92,298.38 318.44,299.25 318.96,300.06 319.48,300.81 320.00,301.52 320.52,302.17 321.04,302.78 321.56,303.34 322.08,303.87 322.60,304.36 323.12,304.81 323.64,305.24 324.16,305.63 324.68,306.00 325.20,306.34 325.72,306.67 326.24,306.97 326.76,307.25 327.28,307.52 327.80,307.77 328.32,308.01 328.84,308.23 329.36,308.44 329.88,308.64 330.40,308.83 330.92,309.01 331.44,309.19 331.95,309.35 332.47,309.51 332.99,309.66 333.51,309.80 334.03,309.94 334.55,310.07 335.07,310.20 335.59,310.32 336.11,310.43 336.63,310.55 337.15,310.65 337.67,310.76 338.19,310.86 338.71,310.95 339.23,311.05 339.75,311.14 340.27,311.23 340.79,311.31 341.31,311.39 341.83,311.47 342.35,311.55 342.87,311.62 343.39,311.69 343.91,311.76 344.43,311.83 344.95,311.89 345.47,311.96 345.99,312.02 346.51,312.08 347.02,312.14 347.54,312.19 348.06,312.25 348.58,312.30 349.10,312.35 349.62,312.40 350.14,312.45 350.66,312.50 351.18,312.54 351.70,312.59 352.22,312.63 352.74,312.68 353.26,312.72 353.78,312.76 354.30,312.80 354.82,312.83 355.34,312.87 355.86,312.91 356.38,312.94 356.90,312.98 357.42,313.01 357.94,313.04 358.46,313.08 358.98,313.11 359.50,313.14 360.02,313.17 360.54,313.20 361.06,313.23 361.58,313.25 362.10,313.28 362.62,313.31 363.13,313.33 363.65,313.36 364.17,313.38 364.69,313.41 365.21,313.43"/>
<polyline points="234.26,313.27 234.78,313.21 235.30,313.14 235.82,313.08 236.34,313.01 236.86,312.94 237.38,312.86 237.89,312.79 238.41,312.71 238.93,312.62 239.45,312.54 239.97,312.45 240.49,312.36 241.01,312.26 241.53,312.17 242.05,312.07 242.57,311.96 243.09,311.86 243.61,311.75 244.13,311.64 244.65,311.52 245.17,311.41 245.69,311.29 246.21,311.17 246.73,311.05 247.25,310.92 247.77,310.79 248.29,310.66 248.81,310.53 249.33,310.40 249.85,310.27 250.37,310.13 250.89,310.00 251.41,309.86 251.93,309.72 252.45,309.58 252.97,309.44 253.48,309.30 254.00,309.16 254.52,309.02 255.04,308.88 255.56,308.74 256.08,308.61 256.60,308.47 257.12,308.33 257.64,308.19 258.16,308.06 258.68,307.92 259.20,307.79 259.72,307.65 260.24,307.52 260.76,307.39 261.28,307.26 261.80,307.13 262.32,307.00 262.84,306.88 263.36,306.75 263.88,306.62 264.40,306.50 264.92,306.37 265.44,306.24 265.96,306.12 266.48,306.00 267.00,305.89 267.52,305.78 268.04,305.67 268.56,305.57 269.07,305.46 269.59,305.36 270.11,305.26 270.63,305.15 271.15,305.04 271.67,304.92 272.19,304.79 272.71,304.65 273.23,304.50 273.75,304.33 274.27,304.14 274.79,303.92 275.31,303.68 275.83,303.41 276.35,303.10 276.87,302.75 277.39,302.36 277.91,301.91 278.43,301.41 278.95,300.84 279.47,300.20 279.99,299.48 280.51,298.68 281.03,297.78 281.55,296.77 282.07,295.66 282.59,294.42 283.11,293.05 283.63,291.55 284.15,289.90 284.66,288.09 285.18,286.12 285.70,283.99 286.22,281.68 286.74,279.19 287.26,276.53 287.78,273.68 288.30,270.66 288.82,267.47 289.34,264.11 289.86,260.60 290.38,256.97 290.90,253.22 291.42,249.40 291.94,245.54 292.46,241.70 292.98,237.92 293.50,234.28 294.02,230.85 294.54,227.72 295.06,224.97 295.58,222.69 296.10,220.94 296.62,219.80 297.14,219.31 297.66,219.40 298.18,219.85 298.70,220.66 299.22,221.80 299.74,223.25 300.25,224.99 300.77,226.98 301.29,229.20 301.81,231.61 302.33,234.17 302.85,236.85 303.37,239.62 303.89,242.46 304.41,245.34 304.93,248.22 305.45,251.10 305.97,253.95 306.49,256.76 307.01,259.52 307.53,262.21 308.05,264.82 308.57,267.36 309.09,269.80 309.61,272.15 310.13,274.41 310.65,276.57 311.17,278.63 311.69,280.60 312.21,282.46 312.73,284.23 313.25,285.90 313.77,287.48 314.29,288.97 314.81,290.37 315.33,291.69 315.85,292.93 316.36,294.08 316.88,295.17 317.40,296.18 317.92,297.13 318.44,298.02 318.96,298.84 319.48,299.62 320.00,300.33 320.52,301.01 321.04,301.63 321.56,302.22 322.08,302.76 322.60,303.27 323.12,303.75 323.64,304.19 324.16,304.61 324.68,305.00 325.20,305.36 325.72,305.71 326.24,306.03 326.76,306.34 327.28,306.63 327.80,306.90 328.32,307.16 328.84,307.40 329.36,307.63 329.88,307.85 330.40,308.06 330.92,308.26 331.44,308.45 331.95,308.63 332.47,308.81 332.99,308.97 333.51,309.13 334.03,309.29 334.55,309.43 335.07,309.57 335.59,309.71 336.11,309.84 336.63,309.97 337.15,310.09 337.67,310.20 338.19,310.32 338.71,310.43 339.23,310.53 339.75,310.63 340.27,310.73 340.79,310.83 341.31,310.92 341.83,311.01 342.35,311.09 342.87,311.18 343.39,311.26 343.91,311.34 344.43,311.41 344.95,311.49 345.47,311.56 345.99,311.63 346.51,311.69 347.02,311.76 347.54,311.82 348.06,311.88 348.58,311.94 349.10,312.00 349.62,312.06 350.14,312.11 350.66,312.17 351.18,312.22 351.70,312.27 352.22,312.32 352.74,312.37 353.26,312.41 353.78,312.46 354.30,312.50 354.82,312.55 355.34,312.59 355.86,312.63 356.38,312.67 356.90,312.71 357.42,312.75 357.94,312.78 358.46,312.82 358.98,312.85 359.50,312.89 360.02,312.92 360.54,312.96 361.06,312.99 361.58,313.02 362.10,313.05 362.62,313.08 363.13,313.11 363.65,313.14 364.17,313.17 364.69,313.19 365.21,313.22"/>
<polyline points="234.26,313.09 234.78,313.02 235.30,312.95 235.82,312.88 236.34,312.81 236.86,312.73 237.38,312.65 237.89,312.57 238.41,312.49 238.93,312.40 239.45,312.31 239.97,312.21 240.49,312.11 241.01,312.01 241.53,311.91 242.05,311.80 242.57,311.69 243.09,311.58 243.61,311.46 244.13,311.35 244.65,311.22 245.17,311.10 245.69,310.97 246.21,310.84 246.73,310.71 247.25,310.58 247.77,310.44 248.29,310.31 248.81,310.16 249.33,310.02 249.85,309.88 250.37,309.73 250.89,309.59 251.41,309.44 251.93,309.29 252.45,309.14 252.97,308.99 253.48,308.84 254.00,308.69 254.52,308.54 255.04,308.39 255.56,308.24 256.08,308.09 256.60,307.94 257.12,307.79 257.64,307.64 258.16,307.49 258.68,307.34 259.20,307.19 259.72,307.04 260.24,306.90 260.76,306.75 261.28,306.61 261.80,306.46 262.32,306.32 262.84,306.18 263.36,306.03 263.88,305.89 264.40,305.75 264.92,305.60 265.44,305.46 265.96,305.31 266.48,305.17 267.00,305.04 267.52,304.91 268.04,304.78 268.56,304.66 269.07,304.53 269.59,304.40 270.11,304.27 270.63,304.14 271.15,304.00 271.67,303.85 272.19,303.70 272.71,303.53 273.23,303.34 273.75,303.14 274.27,302.91 274.79,302.66 275.31,302.39 275.83,302.07 276.35,301.73 276.87,301.34 277.39,300.90 277.91,300.40 278.43,299.85 278.95,299.23 279.47,298.54 279.99,297.77 280.51,296.91 281.03,295.95 281.55,294.88 282.07,293.70 282.59,292.40 283.11,290.96 283.63,289.38 284.15,287.65 284.66,285.76 285.18,283.70 285.70,281.46 286.22,279.05 286.74,276.44 287.26,273.65 287.78,270.67 288.30,267.50 288.82,264.15 289.34,260.62 289.86,256.93 290.38,253.09 290.90,249.15 291.42,245.12 291.94,241.06 292.46,237.01 292.98,233.06 293.50,229.26 294.02,225.71 294.54,222.50 295.06,219.72 295.58,217.46 296.10,215.82 296.62,214.83 297.14,214.55 297.66,214.79 298.18,215.41 298.70,216.40 299.22,217.73 299.74,219.39 300.25,221.33 300.77,223.54 301.29,225.96 301.81,228.56 302.33,231.31 302.85,234.17 303.37,237.11 303.89,240.10 304.41,243.11 304.93,246.12 305.45,249.11 305.97,252.06 306.49,254.95 307.01,257.78 307.53,260.53 308.05,263.20 308.57,265.77 309.09,268.25 309.61,270.63 310.13,272.91 310.65,275.09 311.17,277.17 311.69,279.14 312.21,281.02 312.73,282.79 313.25,284.47 313.77,286.06 314.29,287.55 314.81,288.96 315.33,290.29 315.85,291.53 316.36,292.70 316.88,293.80 317.40,294.82 317.92,295.78 318.44,296.68 318.96,297.53 319.48,298.32 320.00,299.05 320.52,299.74 321.04,300.39 321.56,301.00 322.08,301.56 322.60,302.09 323.12,302.59 323.64,303.06 324.16,303.50 324.68,303.92 325.20,304.31 325.72,304.68 326.24,305.02 326.76,305.35 327.28,305.66 327.80,305.96 328.32,306.24 328.84,306.51 329.36,306.76 329.88,307.00 330.40,307.23 330.92,307.45 331.44,307.66 331.95,307.86 332.47,308.06 332.99,308.24 333.51,308.42 334.03,308.59 334.55,308.75 335.07,308.91 335.59,309.06 336.11,309.21 336.63,309.35 337.15,309.48 337.67,309.61 338.19,309.74 338.71,309.86 339.23,309.98 339.75,310.09 340.27,310.20 340.79,310.31 341.31,310.41 341.83,310.51 342.35,310.61 342.87,310.70 343.39,310.79 343.91,310.88 344.43,310.96 344.95,311.05 345.47,311.13 345.99,311.20 346.51,311.28 347.02,311.35 347.54,311.42 348.06,311.49 348.58,311.56 349.10,311.62 349.62,311.69 350.14,311.75 350.66,311.81 351.18,311.87 351.70,311.92 352.22,311.98 352.74,312.03 353.26,312.09 353.78,312.14 354.30,312.19 354.82,312.24 355.34,312.28 355.86,312.33 356.38,312.37 356.90,312.42 357.42,312.46 357.94,312.50 358.46,312.54 358.98,312.58 359.50,312.62 360.02,312.66 360.54,312.70 361.06,312.73 361.58,312.77 362.10,312.80 362.62,312.84 363.13,312.87 363.65,312.90 364.17,312.93 364.69,312.96 365.21,312.99"/>
<polyline points="234.26,312.89 234.78,312.83 235.30,312.75 235.82,312.68 236.34,312.60 236.86,312.52 237.38,312.43 237.89,312.34 238.41,312.25 238.93,312.16 239.45,312.06 239.97,311.96 240.49,311.86 241.01,311.75 241.53,311.64 242.05,311.52 242.57,311.41 243.09,311.29 243.61,311.16 244.13,311.04 244.65,310.91 245.17,310.77 245.69,310.64 246.21,310.50 246.73,310.36 247.25,310.22 247.77,310.07 248.29,309.93 248.81,309.78 249.33,309.62 249.85,309.47 250.37,309.31 250.89,309.16 251.41,309.00 251.93,308.84 252.45,308.68 252.97,308.52 253.48,308.36 254.00,308.19 254.52,308.03 255.04,307.87 255.56,307.70 256.08,307.54 256.60,307.37 257.12,307.21 257.64,307.05 258.16,306.88 258.68,306.72 259.20,306.56 259.72,306.40 260.24,306.24 260.76,306.07 261.28,305.91 261.80,305.75 262.32,305.59 262.84,305.43 263.36,305.27 263.88,305.11 264.40,304.95 264.92,304.78 265.44,304.62 265.96,304.45 266.48,304.29 267.00,304.14 267.52,303.98 268.04,303.83 268.56,303.68 269.07,303.53 269.59,303.38 270.11,303.22 270.63,303.06 271.15,302.89 271.67,302.71 272.19,302.52 272.71,302.32 273.23,302.10 273.75,301.86 274.27,301.60 274.79,301.31 275.31,300.99 275.83,300.63 276.35,300.24 276.87,299.80 277.39,299.32 277.91,298.77 278.43,298.17 278.95,297.50 279.47,296.75 279.99,295.92 280.51,295.01 281.03,293.99 281.55,292.86 282.07,291.62 282.59,290.25 283.11,288.74 283.63,287.09 284.15,285.28 284.66,283.31 285.18,281.16 285.70,278.83 286.22,276.32 286.74,273.61 287.26,270.70 287.78,267.59 288.30,264.27 288.82,260.77 289.34,257.07 289.86,253.20 290.38,249.18 290.90,245.04 291.42,240.81 291.94,236.54 292.46,232.31 292.98,228.17 293.50,224.22 294.02,220.56 294.54,217.28 295.06,214.49 295.58,212.28 296.10,210.74 296.62,209.93 297.14,209.85 297.66,210.24 298.18,211.03 298.70,212.20 299.22,213.73 299.74,215.59 300.25,217.74 300.77,220.14 301.29,222.77 301.81,225.56 302.33,228.49 302.85,231.53 303.37,234.62 303.89,237.76 304.41,240.90 304.93,244.02 305.45,247.11 305.97,250.15 306.49,253.12 307.01,256.01 307.53,258.81 308.05,261.52 308.57,264.13 309.09,266.64 309.61,269.04 310.13,271.34 310.65,273.53 311.17,275.61 311.69,277.59 312.21,279.47 312.73,281.25 313.25,282.94 313.77,284.53 314.29,286.03 314.81,287.44 315.33,288.77 315.85,290.03 316.36,291.20 316.88,292.31 317.40,293.35 317.92,294.33 318.44,295.24 318.96,296.10 319.48,296.91 320.00,297.67 320.52,298.38 321.04,299.05 321.56,299.68 322.08,300.27 322.60,300.83 323.12,301.35 323.64,301.85 324.16,302.32 324.68,302.76 325.20,303.17 325.72,303.57 326.24,303.94 326.76,304.30 327.28,304.63 327.80,304.95 328.32,305.26 328.84,305.55 329.36,305.83 329.88,306.09 330.40,306.34 330.92,306.58 331.44,306.82 331.95,307.04 332.47,307.25 332.99,307.45 333.51,307.65 334.03,307.84 334.55,308.02 335.07,308.19 335.59,308.36 336.11,308.52 336.63,308.68 337.15,308.83 337.67,308.98 338.19,309.12 338.71,309.25 339.23,309.38 339.75,309.51 340.27,309.63 340.79,309.75 341.31,309.87 341.83,309.98 342.35,310.08 342.87,310.19 343.39,310.29 343.91,310.39 344.43,310.48 344.95,310.57 345.47,310.66 345.99,310.75 346.51,310.83 347.02,310.92 347.54,311.00 348.06,311.07 348.58,311.15 349.10,311.22 349.62,311.29 350.14,311.36 350.66,311.43 351.18,311.49 351.70,311.56 352.22,311.62 352.74,311.68 353.26,311.74 353.78,311.79 354.30,311.85 354.82,311.90 355.34,311.96 355.86,312.01 356.38,312.06 356.90,312.11 357.42,312.15 357.94,312.20 358.46,312.25 358.98,312.29 359.50,312.33 360.02,312.38 360.54,312.42 361.06,312.46 361.58,312.50 362.10,312.54 362.62,312.57 363.13,312.61 363.65,312.65 364.17,312.68 364.69,312.72 365.21,312.75"/>
<polyline points="234.26,312.69 234.78,312.62 235.30,312.54 235.82,312.46 236.34,312.37 236.86,312.29 237.38,312.20 237.89,312.10 238.41,312.00 238.93,311.90 239.45,311.80 239.97,311.69 240.49,311.58 241.01,311.47 241.53,311.35 242.05,311.23 242.57,311.10 243.09,310.98 243.61,310.84 244.13,310.71 244.65,310.57 245.17,310.43 245.69,310.29 246.21,310.14 246.73,309.99 247.25,309.84 247.77,309.68 248.29,309.52 248.81,309.36 249.33,309.20 249.85,309.04 250.37,308.87 250.89,308.70 251.41,308.53 251.93,308.36 252.45,308.19 252.97,308.02 253.48,307.84 254.00,307.67 254.52,307.49 255.04,307.31 255.56,307.14 256.08,306.96 256.60,306.78 257.12,306.60 257.64,306.43 258.16,306.25 258.68,306.07 259.20,305.89 259.72,305.71 260.24,305.54 260.76,305.36 261.28,305.18 261.80,305.00 262.32,304.82 262.84,304.64 263.36,304.46 263.88,304.28 264.40,304.10 264.92,303.91 265.44,303.72 265.96,303.54 266.48,303.35 267.00,303.17 267.52,303.00 268.04,302.82 268.56,302.64 269.07,302.46 269.59,302.28 270.11,302.10 270.63,301.90 271.15,301.70 271.67,301.49 272.19,301.27 272.71,301.03 273.23,300.77 273.75,300.49 274.27,300.18 274.79,299.85 275.31,299.48 275.83,299.08 276.35,298.64 276.87,298.15 277.39,297.61 277.91,297.02 278.43,296.36 278.95,295.63 279.47,294.83 279.99,293.94 280.51,292.96 281.03,291.88 281.55,290.69 282.07,289.38 282.59,287.95 283.11,286.37 283.63,284.65 284.15,282.77 284.66,280.73 285.18,278.50 285.70,276.09 286.22,273.48 286.74,270.67 287.26,267.65 287.78,264.42 288.30,260.97 288.82,257.32 289.34,253.46 289.86,249.42 290.38,245.22 290.90,240.88 291.42,236.46 291.94,232.00 292.46,227.57 292.98,223.27 293.50,219.18 294.02,215.41 294.54,212.08 295.06,209.28 295.58,207.14 296.10,205.73 296.62,205.10 297.14,205.20 297.66,205.74 298.18,206.69 298.70,208.05 299.22,209.78 299.74,211.84 300.25,214.19 300.77,216.80 301.29,219.62 301.81,222.61 302.33,225.72 302.85,228.91 303.37,232.16 303.89,235.43 304.41,238.69 304.93,241.92 305.45,245.10 305.97,248.22 306.49,251.25 307.01,254.20 307.53,257.05 308.05,259.79 308.57,262.43 309.09,264.95 309.61,267.37 310.13,269.68 310.65,271.87 311.17,273.96 311.69,275.94 312.21,277.82 312.73,279.61 313.25,281.29 313.77,282.88 314.29,284.39 314.81,285.81 315.33,287.15 315.85,288.41 316.36,289.60 316.88,290.72 317.40,291.77 317.92,292.76 318.44,293.70 318.96,294.58 319.48,295.41 320.00,296.19 320.52,296.92 321.04,297.62 321.56,298.27 322.08,298.89 322.60,299.48 323.12,300.03 323.64,300.55 324.16,301.05 324.68,301.52 325.20,301.96 325.72,302.38 326.24,302.78 326.76,303.17 327.28,303.53 327.80,303.88 328.32,304.21 328.84,304.53 329.36,304.83 329.88,305.12 330.40,305.39 330.92,305.66 331.44,305.91 331.95,306.16 332.47,306.39 332.99,306.62 333.51,306.83 334.03,307.04 334.55,307.24 335.07,307.43 335.59,307.62 336.11,307.80 336.63,307.97 337.15,308.14 337.67,308.30 338.19,308.45 338.71,308.60 339.23,308.75 339.75,308.89 340.27,309.03 340.79,309.16 341.31,309.28 341.83,309.41 342.35,309.53 342.87,309.64 343.39,309.75 343.91,309.86 344.43,309.97 344.95,310.07 345.47,310.17 345.99,310.27 346.51,310.36 347.02,310.45 347.54,310.54 348.06,310.62 348.58,310.71 349.10,310.79 349.62,310.87 350.14,310.94 350.66,311.02 351.18,311.09 351.70,311.16 352.22,311.23 352.74,311.30 353.26,311.36 353.78,311.43 354.30,311.49 354.82,311.55 355.34,311.61 355.86,311.66 356.38,311.72 356.90,311.77 357.42,311.83 357.94,311.88 358.46,311.93 358.98,311.98 359.50,312.03 360.02,312.07 360.54,312.12 361.06,312.16 361.58,312.21 362.10,312.25 362.62,312.29 363.13,312.33 363.65,312.37 364.17,312.41 364.69,312.45 365.21,312.49"/>
<polyline points="234.26,312.47 234.78,312.39 235.30,312.31 235.82,312.22 236.34,312.13 236.86,312.04 237.38,311.94 237.89,311.84 238.41,311.74 238.93,311.63 239.45,311.52 239.97,311.41 240.49,311.29 241.01,311.17 241.53,311.04 242.05,310.92 242.57,310.78 243.09,310.65 243.61,310.51 244.13,310.36 244.65,310.22 245.17,310.07 245.69,309.91 246.21,309.76 246.73,309.60 247.25,309.43 247.77,309.27 248.29,309.10 248.81,308.93 249.33,308.76 249.85,308.58 250.37,308.40 250.89,308.22 251.41,308.04 251.93,307.86 252.45,307.67 252.97,307.49 253.48,307.30 254.00,307.11 254.52,306.92 255.04,306.73 255.56,306.54 256.08,306.35 256.60,306.16 257.12,305.96 257.64,305.77 258.16,305.58 258.68,305.38 259.20,305.19 259.72,304.99 260.24,304.80 260.76,304.60 261.28,304.40 261.80,304.21 262.32,304.01 262.84,303.81 263.36,303.61 263.88,303.41 264.40,303.20 264.92,302.99 265.44,302.78 265.96,302.57 266.48,302.36 267.00,302.15 267.52,301.95 268.04,301.74 268.56,301.54 269.07,301.33 269.59,301.12 270.11,300.90 270.63,300.67 271.15,300.43 271.67,300.19 272.19,299.92 272.71,299.64 273.23,299.34 273.75,299.02 274.27,298.66 274.79,298.28 275.31,297.87 275.83,297.41 276.35,296.92 276.87,296.37 277.39,295.78 277.91,295.12 278.43,294.41 278.95,293.62 279.47,292.75 279.99,291.80 280.51,290.76 281.03,289.62 281.55,288.36 282.07,286.99 282.59,285.49 283.11,283.85 283.63,282.06 284.15,280.12 284.66,278.00 285.18,275.70 285.70,273.21 286.22,270.51 286.74,267.61 287.26,264.49 287.78,261.15 288.30,257.58 288.82,253.79 289.34,249.78 289.86,245.58 290.38,241.20 290.90,236.68 291.42,232.07 291.94,227.42 292.46,222.82 292.98,218.35 293.50,214.13 294.02,210.27 294.54,206.89 295.06,204.11 295.58,202.04 296.10,200.76 296.62,200.34 297.14,200.58 297.66,201.27 298.18,202.40 298.70,203.95 299.22,205.87 299.74,208.13 300.25,210.69 300.77,213.50 301.29,216.52 301.81,219.69 302.33,222.97 302.85,226.32 303.37,229.72 303.89,233.11 304.41,236.49 304.93,239.82 305.45,243.08 305.97,246.26 306.49,249.35 307.01,252.34 307.53,255.23 308.05,258.00 308.57,260.65 309.09,263.19 309.61,265.62 310.13,267.93 310.65,270.12 311.17,272.21 311.69,274.19 312.21,276.07 312.73,277.85 313.25,279.54 313.77,281.13 314.29,282.64 314.81,284.06 315.33,285.40 315.85,286.67 316.36,287.87 316.88,289.01 317.40,290.08 317.92,291.09 318.44,292.04 318.96,292.94 319.48,293.79 320.00,294.60 320.52,295.36 321.04,296.08 321.56,296.77 322.08,297.41 322.60,298.03 323.12,298.61 323.64,299.16 324.16,299.69 324.68,300.19 325.20,300.67 325.72,301.12 326.24,301.55 326.76,301.96 327.28,302.36 327.80,302.73 328.32,303.09 328.84,303.44 329.36,303.76 329.88,304.08 330.40,304.38 330.92,304.67 331.44,304.95 331.95,305.22 332.47,305.47 332.99,305.72 333.51,305.96 334.03,306.19 334.55,306.41 335.07,306.62 335.59,306.83 336.11,307.02 336.63,307.21 337.15,307.40 337.67,307.58 338.19,307.75 338.71,307.91 339.23,308.07 339.75,308.23 340.27,308.38 340.79,308.52 341.31,308.66 341.83,308.80 342.35,308.93 342.87,309.06 343.39,309.18 343.91,309.30 344.43,309.42 344.95,309.53 345.47,309.64 345.99,309.75 346.51,309.85 347.02,309.95 347.54,310.05 348.06,310.15 348.58,310.24 349.10,310.33 349.62,310.42 350.14,310.50 350.66,310.58 351.18,310.66 351.70,310.74 352.22,310.82 352.74,310.89 353.26,310.96 353.78,311.03 354.30,311.10 354.82,311.17 355.34,311.23 355.86,311.30 356.38,311.36 356.90,311.42 357.42,311.48 357.94,311.54 358.46,311.59 358.98,311.65 359.50,311.70 360.02,311.75 360.54,311.80 361.06,311.85 361.58,311.90 362.10,311.95 362.62,312.00 363.13,312.04 363.65,312.08 364.17,312.13 364.69,312.17 365.21,312.21"/>
</g>
<rect x="32.0" y="2.7" width="156.10" height="134.80" fill="none" stroke="#000068" stroke-width="1.9"/>
<line x1="32.00" y1="137.5" x2="32.00" y2="140.1" stroke="#000068" stroke-width="1.6"/>
<line x1="58.02" y1="137.5" x2="58.02" y2="140.1" stroke="#000068" stroke-width="1.6"/>
<line x1="84.03" y1="137.5" x2="84.03" y2="140.1" stroke="#000068" stroke-width="1.6"/>
<line x1="110.05" y1="137.5" x2="110.05" y2="140.1" stroke="#000068" stroke-width="1.6"/>
<line x1="136.07" y1="137.5" x2="136.07" y2="140.1" stroke="#000068" stroke-width="1.6"/>
<line x1="162.08" y1="137.5" x2="162.08" y2="140.1" stroke="#000068" stroke-width="1.6"/>
<line x1="188.10" y1="137.5" x2="188.10" y2="140.1" stroke="#000068" stroke-width="1.6"/>
<line x1="29.2" y1="137.50" x2="32.0" y2="137.50" stroke="#000068" stroke-width="1.6"/>
<line x1="29.2" y1="115.03" x2="32.0" y2="115.03" stroke="#000068" stroke-width="1.6"/>
<line x1="29.2" y1="92.57" x2="32.0" y2="92.57" stroke="#000068" stroke-width="1.6"/>
<line x1="29.2" y1="70.10" x2="32.0" y2="70.10" stroke="#000068" stroke-width="1.6"/>
<line x1="29.2" y1="47.63" x2="32.0" y2="47.63" stroke="#000068" stroke-width="1.6"/>
<line x1="29.2" y1="25.17" x2="32.0" y2="25.17" stroke="#000068" stroke-width="1.6"/>
<line x1="29.2" y1="2.70" x2="32.0" y2="2.70" stroke="#000068" stroke-width="1.6"/>
<line x1="30.2" y1="126.27" x2="32.0" y2="126.27" stroke="#000068" stroke-width="1.3"/>
<line x1="30.2" y1="103.80" x2="32.0" y2="103.80" stroke="#000068" stroke-width="1.3"/>
<line x1="30.2" y1="81.33" x2="32.0" y2="81.33" stroke="#000068" stroke-width="1.3"/>
<line x1="30.2" y1="58.87" x2="32.0" y2="58.87" stroke="#000068" stroke-width="1.3"/>
<line x1="30.2" y1="36.40" x2="32.0" y2="36.40" stroke="#000068" stroke-width="1.3"/>
<line x1="30.2" y1="13.93" x2="32.0" y2="13.93" stroke="#000068" stroke-width="1.3"/>
<rect x="228.0" y="5.0" width="157.10" height="136.50" fill="none" stroke="#000068" stroke-width="1.9"/>
<line x1="228.00" y1="141.5" x2="228.00" y2="144.1" stroke="#000068" stroke-width="1.6"/>
<line x1="254.18" y1="141.5" x2="254.18" y2="144.1" stroke="#000068" stroke-width="1.6"/>
<line x1="280.37" y1="141.5" x2="280.37" y2="144.1" stroke="#000068" stroke-width="1.6"/>
<line x1="306.55" y1="141.5" x2="306.55" y2="144.1" stroke="#000068" stroke-width="1.6"/>
<line x1="332.73" y1="141.5" x2="332.73" y2="144.1" stroke="#000068" stroke-width="1.6"/>
<line x1="358.92" y1="141.5" x2="358.92" y2="144.1" stroke="#000068" stroke-width="1.6"/>
<line x1="385.10" y1="141.5" x2="385.10" y2="144.1" stroke="#000068" stroke-width="1.6"/>
<line x1="225.2" y1="141.50" x2="228.0" y2="141.50" stroke="#000068" stroke-width="1.6"/>
<line x1="225.2" y1="118.75" x2="228.0" y2="118.75" stroke="#000068" stroke-width="1.6"/>
<line x1="225.2" y1="96.00" x2="228.0" y2="96.00" stroke="#000068" stroke-width="1.6"/>
<line x1="225.2" y1="73.25" x2="228.0" y2="73.25" stroke="#000068" stroke-width="1.6"/>
<line x1="225.2" y1="50.50" x2="228.0" y2="50.50" stroke="#000068" stroke-width="1.6"/>
<line x1="225.2" y1="27.75" x2="228.0" y2="27.75" stroke="#000068" stroke-width="1.6"/>
<line x1="225.2" y1="5.00" x2="228.0" y2="5.00" stroke="#000068" stroke-width="1.6"/>
<line x1="226.2" y1="130.12" x2="228.0" y2="130.12" stroke="#000068" stroke-width="1.3"/>
<line x1="226.2" y1="107.38" x2="228.0" y2="107.38" stroke="#000068" stroke-width="1.3"/>
<line x1="226.2" y1="84.62" x2="228.0" y2="84.62" stroke="#000068" stroke-width="1.3"/>
<line x1="226.2" y1="61.88" x2="228.0" y2="61.88" stroke="#000068" stroke-width="1.3"/>
<line x1="226.2" y1="39.12" x2="228.0" y2="39.12" stroke="#000068" stroke-width="1.3"/>
<line x1="226.2" y1="16.38" x2="228.0" y2="16.38" stroke="#000068" stroke-width="1.3"/>
<rect x="31.5" y="177.3" width="158.10" height="137.00" fill="none" stroke="#000068" stroke-width="1.9"/>
<line x1="31.50" y1="314.3" x2="31.50" y2="316.90000000000003" stroke="#000068" stroke-width="1.6"/>
<line x1="57.85" y1="314.3" x2="57.85" y2="316.90000000000003" stroke="#000068" stroke-width="1.6"/>
<line x1="84.20" y1="314.3" x2="84.20" y2="316.90000000000003" stroke="#000068" stroke-width="1.6"/>
<line x1="110.55" y1="314.3" x2="110.55" y2="316.90000000000003" stroke="#000068" stroke-width="1.6"/>
<line x1="136.90" y1="314.3" x2="136.90" y2="316.90000000000003" stroke="#000068" stroke-width="1.6"/>
<line x1="163.25" y1="314.3" x2="163.25" y2="316.90000000000003" stroke="#000068" stroke-width="1.6"/>
<line x1="189.60" y1="314.3" x2="189.60" y2="316.90000000000003" stroke="#000068" stroke-width="1.6"/>
<line x1="28.7" y1="314.30" x2="31.5" y2="314.30" stroke="#000068" stroke-width="1.6"/>
<line x1="28.7" y1="291.47" x2="31.5" y2="291.47" stroke="#000068" stroke-width="1.6"/>
<line x1="28.7" y1="268.63" x2="31.5" y2="268.63" stroke="#000068" stroke-width="1.6"/>
<line x1="28.7" y1="245.80" x2="31.5" y2="245.80" stroke="#000068" stroke-width="1.6"/>
<line x1="28.7" y1="222.97" x2="31.5" y2="222.97" stroke="#000068" stroke-width="1.6"/>
<line x1="28.7" y1="200.13" x2="31.5" y2="200.13" stroke="#000068" stroke-width="1.6"/>
<line x1="28.7" y1="177.30" x2="31.5" y2="177.30" stroke="#000068" stroke-width="1.6"/>
<line x1="29.7" y1="302.88" x2="31.5" y2="302.88" stroke="#000068" stroke-width="1.3"/>
<line x1="29.7" y1="280.05" x2="31.5" y2="280.05" stroke="#000068" stroke-width="1.3"/>
<line x1="29.7" y1="257.22" x2="31.5" y2="257.22" stroke="#000068" stroke-width="1.3"/>
<line x1="29.7" y1="234.38" x2="31.5" y2="234.38" stroke="#000068" stroke-width="1.3"/>
<line x1="29.7" y1="211.55" x2="31.5" y2="211.55" stroke="#000068" stroke-width="1.3"/>
<line x1="29.7" y1="188.72" x2="31.5" y2="188.72" stroke="#000068" stroke-width="1.3"/>
<rect x="230.1" y="180.7" width="155.90" height="134.30" fill="none" stroke="#000068" stroke-width="1.9"/>
<line x1="230.10" y1="315.0" x2="230.10" y2="317.6" stroke="#000068" stroke-width="1.6"/>
<line x1="256.08" y1="315.0" x2="256.08" y2="317.6" stroke="#000068" stroke-width="1.6"/>
<line x1="282.07" y1="315.0" x2="282.07" y2="317.6" stroke="#000068" stroke-width="1.6"/>
<line x1="308.05" y1="315.0" x2="308.05" y2="317.6" stroke="#000068" stroke-width="1.6"/>
<line x1="334.03" y1="315.0" x2="334.03" y2="317.6" stroke="#000068" stroke-width="1.6"/>
<line x1="360.02" y1="315.0" x2="360.02" y2="317.6" stroke="#000068" stroke-width="1.6"/>
<line x1="386.00" y1="315.0" x2="386.00" y2="317.6" stroke="#000068" stroke-width="1.6"/>
<line x1="227.29999999999998" y1="315.00" x2="230.1" y2="315.00" stroke="#000068" stroke-width="1.6"/>
<line x1="227.29999999999998" y1="297.09" x2="230.1" y2="297.09" stroke="#000068" stroke-width="1.6"/>
<line x1="227.29999999999998" y1="279.19" x2="230.1" y2="279.19" stroke="#000068" stroke-width="1.6"/>
<line x1="227.29999999999998" y1="261.28" x2="230.1" y2="261.28" stroke="#000068" stroke-width="1.6"/>
<line x1="227.29999999999998" y1="243.37" x2="230.1" y2="243.37" stroke="#000068" stroke-width="1.6"/>
<line x1="227.29999999999998" y1="225.47" x2="230.1" y2="225.47" stroke="#000068" stroke-width="1.6"/>
<line x1="227.29999999999998" y1="207.56" x2="230.1" y2="207.56" stroke="#000068" stroke-width="1.6"/>
<line x1="227.29999999999998" y1="189.65" x2="230.1" y2="189.65" stroke="#000068" stroke-width="1.6"/>
<line x1="228.29999999999998" y1="306.05" x2="230.1" y2="306.05" stroke="#000068" stroke-width="1.3"/>
<line x1="228.29999999999998" y1="288.14" x2="230.1" y2="288.14" stroke="#000068" stroke-width="1.3"/>
<line x1="228.29999999999998" y1="270.23" x2="230.1" y2="270.23" stroke="#000068" stroke-width="1.3"/>
<line x1="228.29999999999998" y1="252.33" x2="230.1" y2="252.33" stroke="#000068" stroke-width="1.3"/>
<line x1="228.29999999999998" y1="234.42" x2="230.1" y2="234.42" stroke="#000068" stroke-width="1.3"/>
<line x1="228.29999999999998" y1="216.51" x2="230.1" y2="216.51" stroke="#000068" stroke-width="1.3"/>
<line x1="228.29999999999998" y1="198.61" x2="230.1" y2="198.61" stroke="#000068" stroke-width="1.3"/>
<line x1="228.29999999999998" y1="180.70" x2="230.1" y2="180.70" stroke="#000068" stroke-width="1.3"/>
<g font-family="'Liberation Serif', 'Times New Roman', serif" font-weight="bold" fill="#000" stroke="#000" stroke-width="0.15">
<text x="34.00" y="150.30" font-size="9.6" text-anchor="middle" >800</text>
<text x="59.50" y="150.30" font-size="9.6" text-anchor="middle" >850</text>
<text x="86.25" y="150.30" font-size="9.6" text-anchor="middle" >900</text>
<text x="113.75" y="150.30" font-size="9.6" text-anchor="middle" >950</text>
<text x="139.30" y="150.30" font-size="9.6" text-anchor="middle" >1000</text>
<text x="164.50" y="150.30" font-size="9.6" text-anchor="middle" >1050</text>
<text x="189.65" y="151.60" font-size="9.6" text-anchor="middle" >1100</text>
<text x="230.00" y="154.30" font-size="9.6" text-anchor="middle" >800</text>
<text x="256.25" y="154.30" font-size="9.6" text-anchor="middle" >850</text>
<text x="282.75" y="154.30" font-size="9.6" text-anchor="middle" >900</text>
<text x="308.75" y="154.30" font-size="9.6" text-anchor="middle" >950</text>
<text x="337.00" y="154.30" font-size="9.6" text-anchor="middle" >1000</text>
<text x="362.40" y="154.30" font-size="9.6" text-anchor="middle" >1050</text>
<text x="388.00" y="154.30" font-size="9.6" text-anchor="middle" >1100</text>
<text x="33.00" y="327.10" font-size="9.6" text-anchor="middle" >800</text>
<text x="60.00" y="327.10" font-size="9.6" text-anchor="middle" >850</text>
<text x="86.75" y="327.10" font-size="9.6" text-anchor="middle" >900</text>
<text x="113.50" y="327.10" font-size="9.6" text-anchor="middle" >950</text>
<text x="140.00" y="327.10" font-size="9.6" text-anchor="middle" >1000</text>
<text x="166.50" y="327.10" font-size="9.6" text-anchor="middle" >1050</text>
<text x="193.30" y="327.10" font-size="9.6" text-anchor="middle" >1100</text>
<text x="233.00" y="327.80" font-size="9.6" text-anchor="middle" >800</text>
<text x="258.75" y="327.80" font-size="9.6" text-anchor="middle" >850</text>
<text x="285.25" y="327.80" font-size="9.6" text-anchor="middle" >900</text>
<text x="311.25" y="327.80" font-size="9.6" text-anchor="middle" >950</text>
<text x="337.00" y="327.80" font-size="9.6" text-anchor="middle" >1000</text>
<text x="363.00" y="327.80" font-size="9.6" text-anchor="middle" >1050</text>
<text x="389.00" y="327.80" font-size="9.6" text-anchor="middle" >1100</text>
<text x="24.00" y="141.60" font-size="9.6" text-anchor="end" >0</text>
<text x="24.00" y="119.13" font-size="9.6" text-anchor="end" >1</text>
<text x="24.00" y="96.67" font-size="9.6" text-anchor="end" >2</text>
<text x="24.00" y="74.20" font-size="9.6" text-anchor="end" >3</text>
<text x="24.00" y="51.73" font-size="9.6" text-anchor="end" >4</text>
<text x="24.00" y="29.27" font-size="9.6" text-anchor="end" >5</text>
<text x="24.00" y="6.80" font-size="9.6" text-anchor="end" >6</text>
<text x="219.60" y="145.60" font-size="9.6" text-anchor="end" >0</text>
<text x="219.60" y="122.85" font-size="9.6" text-anchor="end" >1</text>
<text x="219.60" y="100.10" font-size="9.6" text-anchor="end" >2</text>
<text x="219.60" y="77.35" font-size="9.6" text-anchor="end" >3</text>
<text x="219.60" y="54.60" font-size="9.6" text-anchor="end" >4</text>
<text x="219.60" y="31.85" font-size="9.6" text-anchor="end" >5</text>
<text x="219.60" y="9.10" font-size="9.6" text-anchor="end" >6</text>
<text x="23.30" y="318.40" font-size="9.6" text-anchor="end" >0</text>
<text x="23.30" y="295.57" font-size="9.6" text-anchor="end" >1</text>
<text x="23.30" y="272.73" font-size="9.6" text-anchor="end" >2</text>
<text x="23.30" y="249.90" font-size="9.6" text-anchor="end" >3</text>
<text x="23.30" y="227.07" font-size="9.6" text-anchor="end" >4</text>
<text x="23.30" y="204.23" font-size="9.6" text-anchor="end" >5</text>
<text x="23.30" y="181.40" font-size="9.6" text-anchor="end" >6</text>
<text x="222.20" y="318.60" font-size="7.6" text-anchor="end" stroke-width="0.1">0</text>
<text x="222.20" y="300.69" font-size="7.6" text-anchor="end" stroke-width="0.1">2</text>
<text x="222.20" y="282.79" font-size="7.6" text-anchor="end" stroke-width="0.1">4</text>
<text x="222.20" y="264.88" font-size="7.6" text-anchor="end" stroke-width="0.1">6</text>
<text x="222.20" y="246.97" font-size="7.6" text-anchor="end" stroke-width="0.1">8</text>
<text x="222.20" y="229.07" font-size="7.6" text-anchor="end" stroke-width="0.1">10</text>
<text x="222.20" y="211.16" font-size="7.6" text-anchor="end" stroke-width="0.1">12</text>
<text x="222.20" y="193.25" font-size="7.6" text-anchor="end" stroke-width="0.1">14</text>
<text x="64.76" y="168.90" font-size="13.5" text-anchor="start" >Wavelength, [nm]</text>
<text x="257.40" y="171.00" font-size="13.5" text-anchor="start" stroke-width="0">Wavelength, [nm]</text>
<text x="54.90" y="340.50" font-size="13.5" text-anchor="start" >Wavelength, [nm]</text>
<text x="258.40" y="348.00" font-size="13.5" text-anchor="start" >Wavelength, [nm]</text>
<text transform="translate(10.5,113.4) rotate(-90)" font-size="13.7">Intensity, [a.u.]</text>
<text transform="translate(204,113.8) rotate(-90)" font-size="13.7" stroke-width="0">Intensity, [a.u.]</text>
<text transform="translate(8.6,288.8) rotate(-90)" font-size="13.7">Intensity [a.u.]</text>
<text transform="translate(206,297.2) rotate(-90)" font-size="13.7">Intensity, [a.u.]</text>
<text x="43.25" y="25.30" font-size="18.8" text-anchor="start" >(a)</text>
<text x="236.85" y="23.50" font-size="18.8" text-anchor="start" >(b)</text>
<text x="40.85" y="196.50" font-size="18.8" text-anchor="start" >(c)</text>
<text x="238.85" y="200.50" font-size="18.8" text-anchor="start" >(d)</text>
</g>
<polyline fill="none" stroke="#000" stroke-width="2" stroke-linejoin="round" points="104.2,25.8 124.6,25.8 124.6,22 130.1,22 130.1,52.3 133.2,52.3 133.2,22 139.2,22 139.2,25.8 163.8,25.8"/>
<polyline fill="none" stroke="#000" stroke-width="2" stroke-linejoin="round" points="288.3,34 308.7,34 308.7,28.7 320.8,28.7 320.8,61.9 326,61.9 326,28.7 330,28.7 330,61.9 336,61.9 336,28.7 340,28.7 340,61.9 346,61.9 346,28.7 359,28.7 359,33.7 371,33.7"/>
<polyline fill="none" stroke="#000" stroke-width="2" stroke-linejoin="round" points="100.4,205 110.9,205 110.9,225.1 133,225.1 133,221.3 138,221.3 138,251.3 141.1,251.3 141.1,221.3 147,221.3 147,225.1 171,225.1 171,203.5 182.3,203.5"/>
<polyline fill="none" stroke="#000" stroke-width="2" stroke-linejoin="round" points="304.3,198.9 311.5,198.9 311.5,215.2 327.8,215.2 327.8,210.2 338,210.2 338,248.5 342.6,248.5 342.6,210.2 344.6,210.2 344.6,248.5 349,248.5 349,210.2 350.5,210.2 350.5,248.5 356.8,248.5 356.8,210.2 366.5,210.2 366.5,215.2 387,215.2 387,199.7 400,199.7"/>
<rect x="342" y="210" width="3.2" height="38" fill="#000"/>
<g font-family="'Liberation Serif', 'Times New Roman', serif" font-weight="bold" fill="#000" stroke="#000" stroke-width="0.25" font-size="9.8">
<text x="105.2" y="17.2">GaAs<tspan font-size="6.5" dy="2.9">0.9</tspan><tspan dy="-2.9">P</tspan><tspan font-size="6.5" dy="2.9">0.1</tspan></text>
<text x="150.20" y="40.50" font-size="9.8" text-anchor="start" >GaAs</text>
<text x="119.70" y="65.70" font-size="9.8" text-anchor="start" >InGaAs</text>
<text x="292.7" y="22.5">GaAs<tspan font-size="6.5" dy="2.9">0.9</tspan><tspan dy="-2.9">P</tspan><tspan font-size="6.5" dy="2.9">0.1</tspan></text>
<text x="284.50" y="48.70" font-size="9.8" text-anchor="start" >GaAs</text>
<text x="318.10" y="76.90" font-size="9.8" text-anchor="start" >InGaAs</text>
<text x="111.6" y="215.7">GaAs<tspan font-size="6.5" dy="2.9">0.9</tspan><tspan dy="-2.9">P</tspan><tspan font-size="6.5" dy="2.9">0.1</tspan></text>
<text x="150.5" y="197.2">Al<tspan font-size="6.5" dy="2.9">0.3</tspan><tspan dy="-2.9">Ga</tspan><tspan font-size="6.5" dy="2.9">0.7</tspan><tspan dy="-2.9">As</tspan></text>
<text x="150.50" y="241.90" font-size="9.8" text-anchor="start" >GaAs</text>
<text x="124.00" y="268.00" font-size="9.8" text-anchor="start" >InGaAs</text>
<text x="312.3" y="203.3">GaAs<tspan font-size="6.5" dy="2.9">0.9</tspan><tspan dy="-2.9">P</tspan><tspan font-size="6.5" dy="2.9">0.1</tspan></text>
<text x="348.5" y="192.7">Al<tspan font-size="6.5" dy="2.9">0.3</tspan><tspan dy="-2.9">Ga</tspan><tspan font-size="6.5" dy="2.9">0.7</tspan><tspan dy="-2.9">As</tspan></text>
<text x="311.50" y="229.70" font-size="9.8" text-anchor="start" >GaAs</text>
<text x="333.70" y="262.50" font-size="9.8" text-anchor="start" >InGaAs</text>
</g>
</svg>
</body></html>
